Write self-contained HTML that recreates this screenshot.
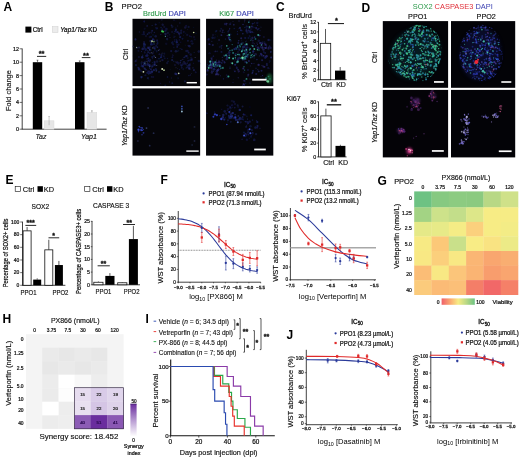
<!DOCTYPE html>
<html lang="en"><head><meta charset="utf-8"><title>Figure</title>
<style>
html,body{margin:0;padding:0;background:#fff;}
body{width:520px;height:458px;overflow:hidden;font-family:'Liberation Sans', Arial, Helvetica, sans-serif;}
svg{display:block;font-family:'Liberation Sans', Arial, Helvetica, sans-serif;}
</style></head><body>
<svg width="520" height="458" viewBox="0 0 520 458">
<defs>
<filter id="b1" x="-50%" y="-50%" width="200%" height="200%"><feGaussianBlur stdDeviation="0.45"/></filter>
<filter id="b2" x="-50%" y="-50%" width="200%" height="200%"><feGaussianBlur stdDeviation="0.9"/></filter>
<filter id="b3" x="-50%" y="-50%" width="200%" height="200%"><feGaussianBlur stdDeviation="2"/></filter>
<linearGradient id="viab" x1="0" x2="1" y1="0" y2="0"><stop offset="0" stop-color="#f0606a"/><stop offset="0.3" stop-color="#fbb474"/><stop offset="0.5" stop-color="#f7ec85"/><stop offset="0.75" stop-color="#b8d885"/><stop offset="1" stop-color="#6dc283"/></linearGradient>
<linearGradient id="syn" x1="0" x2="0" y1="0" y2="1"><stop offset="0" stop-color="#6a2d9e"/><stop offset="0.5" stop-color="#b79ad2"/><stop offset="1" stop-color="#ffffff"/></linearGradient>
</defs>
<rect width="520" height="458" fill="#fff"/>
<g id="panelA">
<text x="3.60" y="11.20" font-size="12" font-weight="bold" fill="#000">A</text>
<rect x="25.40" y="26.60" width="6.00" height="6.00" fill="#000" />
<text x="32.80" y="32.07" font-size="6.3" fill="#111" stroke="#111" stroke-width="0.22">Ctrl</text>
<rect x="52.40" y="26.60" width="5.60" height="6.00" fill="#ececec" stroke="#cfcfcf" stroke-width="0.5" />
<text x="60.30" y="32.07" font-size="6.3" font-style="italic" fill="#111" stroke="#111" stroke-width="0.22" textLength="26.5" lengthAdjust="spacingAndGlyphs">Yap1/Taz</text>
<text x="88.20" y="32.07" font-size="6.3" fill="#111" stroke="#111" stroke-width="0.22">KD</text>
<line x1="22.20" y1="48.50" x2="22.20" y2="129.20" stroke="#111" stroke-width="0.8" />
<line x1="21.80" y1="129.20" x2="106.60" y2="129.20" stroke="#111" stroke-width="0.8" />
<line x1="19.60" y1="129.20" x2="22.20" y2="129.20" stroke="#111" stroke-width="0.6" />
<text x="18.90" y="131.14" font-size="5.4" text-anchor="end" fill="#111" stroke="#111" stroke-width="0.22">0</text>
<line x1="19.60" y1="115.80" x2="22.20" y2="115.80" stroke="#111" stroke-width="0.6" />
<text x="18.90" y="117.74" font-size="5.4" text-anchor="end" fill="#111" stroke="#111" stroke-width="0.22">2</text>
<line x1="19.60" y1="102.40" x2="22.20" y2="102.40" stroke="#111" stroke-width="0.6" />
<text x="18.90" y="104.34" font-size="5.4" text-anchor="end" fill="#111" stroke="#111" stroke-width="0.22">4</text>
<line x1="19.60" y1="89.00" x2="22.20" y2="89.00" stroke="#111" stroke-width="0.6" />
<text x="18.90" y="90.94" font-size="5.4" text-anchor="end" fill="#111" stroke="#111" stroke-width="0.22">6</text>
<line x1="19.60" y1="75.60" x2="22.20" y2="75.60" stroke="#111" stroke-width="0.6" />
<text x="18.90" y="77.54" font-size="5.4" text-anchor="end" fill="#111" stroke="#111" stroke-width="0.22">8</text>
<line x1="19.60" y1="62.20" x2="22.20" y2="62.20" stroke="#111" stroke-width="0.6" />
<text x="18.90" y="64.14" font-size="5.4" text-anchor="end" fill="#111" stroke="#111" stroke-width="0.22">10</text>
<line x1="19.60" y1="48.80" x2="22.20" y2="48.80" stroke="#111" stroke-width="0.6" />
<text x="18.90" y="50.74" font-size="5.4" text-anchor="end" fill="#111" stroke="#111" stroke-width="0.22">12</text>
<text x="10.96" y="90.60" font-size="7.4" text-anchor="middle" fill="#111" stroke="#111" stroke-width="0.15" transform="rotate(-90 10.96 90.60)">Fold change</text>
<rect x="32.80" y="62.20" width="9.40" height="67.00" fill="#000" />
<rect x="44.20" y="120.82" width="9.80" height="8.38" fill="#e6e6e6" stroke="#d4d4d4" stroke-width="0.4" />
<rect x="75.00" y="62.20" width="9.50" height="67.00" fill="#000" />
<rect x="87.00" y="112.45" width="9.80" height="16.75" fill="#e6e6e6" stroke="#d4d4d4" stroke-width="0.4" />
<line x1="37.50" y1="62.20" x2="37.50" y2="60.19" stroke="#111" stroke-width="0.5" />
<line x1="36.60" y1="60.19" x2="38.40" y2="60.19" stroke="#111" stroke-width="0.5" />
<line x1="49.10" y1="125.18" x2="49.10" y2="116.47" stroke="#999" stroke-width="0.5" />
<line x1="48.30" y1="116.47" x2="49.90" y2="116.47" stroke="#999" stroke-width="0.5" />
<line x1="79.70" y1="62.20" x2="79.70" y2="60.86" stroke="#111" stroke-width="0.5" />
<line x1="78.80" y1="60.86" x2="80.60" y2="60.86" stroke="#111" stroke-width="0.5" />
<line x1="91.90" y1="112.45" x2="91.90" y2="110.77" stroke="#777" stroke-width="0.5" />
<line x1="91.10" y1="110.77" x2="92.70" y2="110.77" stroke="#777" stroke-width="0.5" />
<line x1="37.00" y1="56.40" x2="46.20" y2="56.40" stroke="#111" stroke-width="0.9" />
<text x="41.60" y="56.20" font-size="7.5" text-anchor="middle" font-weight="bold" fill="#111" stroke="#111" stroke-width="0.3">**</text>
<line x1="81.80" y1="57.60" x2="90.40" y2="57.60" stroke="#111" stroke-width="0.9" />
<text x="86.00" y="57.60" font-size="7.5" text-anchor="middle" font-weight="bold" fill="#111" stroke="#111" stroke-width="0.3">**</text>
<text x="41.00" y="138.52" font-size="7.0" text-anchor="middle" font-style="italic" fill="#111" stroke="#111" stroke-width="0.15">Taz</text>
<text x="89.00" y="138.52" font-size="7.0" text-anchor="middle" font-style="italic" fill="#111" stroke="#111" stroke-width="0.15">Yap1</text>
</g>
<g id="panelB">
<text x="104.80" y="11.40" font-size="12" font-weight="bold" fill="#000">B</text>
<text x="121.60" y="8.64" font-size="7.6" fill="#111" stroke="#111" stroke-width="0.15">PPO2</text>
<text x="143.0" y="16.3" font-size="7.3" textLength="42.8" lengthAdjust="spacingAndGlyphs" stroke-width="0.12"><tspan fill="#2e9a4c" stroke="#2e9a4c">BrdUrd</tspan> <tspan fill="#3a3fb0" stroke="#3a3fb0">DAPI</tspan></text>
<text x="219.2" y="16.3" font-size="7.3" textLength="34.6" lengthAdjust="spacingAndGlyphs" stroke-width="0.12"><tspan fill="#2e9a4c" stroke="#2e9a4c">Ki67</tspan> <tspan fill="#3a3fb0" stroke="#3a3fb0">DAPI</tspan></text>
<text x="127.56" y="54.40" font-size="7.1" text-anchor="middle" fill="#111" stroke="#111" stroke-width="0.15" transform="rotate(-90 127.56 54.40)">Ctrl</text>
<text x="127.5" y="125.6" font-size="7.1" text-anchor="middle" transform="rotate(-90 127.5 125.6)" fill="#111" stroke="#111" stroke-width="0.15"><tspan font-style="italic">Yap1/Taz</tspan> KD</text>
<defs>
<clipPath id="cbtl"><rect x="132.5" y="18.8" width="67.65" height="67.3"/></clipPath>
<clipPath id="cbtr"><rect x="206.05" y="18.8" width="67.25" height="67.3"/></clipPath>
<clipPath id="cbbl"><rect x="132.5" y="88.4" width="67.65" height="67.2"/></clipPath>
<clipPath id="cbbr"><rect x="206.05" y="88.4" width="67.25" height="67.2"/></clipPath>
</defs>
<rect x="132.50" y="18.80" width="67.65" height="67.30" fill="#050509" />
<g clip-path="url(#cbtl)"><g filter="url(#b1)">
<circle cx="148.3" cy="58.6" r="1.06" fill="#181e5c" opacity="0.81" />
<circle cx="157.1" cy="61.6" r="1.24" fill="#1c2468" opacity="0.42" />
<circle cx="147.7" cy="54.0" r="0.66" fill="#20286e" opacity="0.43" />
<circle cx="135.5" cy="39.4" r="1.04" fill="#1a2058" opacity="0.87" />
<circle cx="144.2" cy="45.9" r="1.28" fill="#181e5c" opacity="0.68" />
<circle cx="154.5" cy="62.1" r="0.98" fill="#1a2058" opacity="0.55" />
<circle cx="151.7" cy="44.5" r="1.01" fill="#1c2468" opacity="0.59" />
<circle cx="147.8" cy="50.6" r="0.64" fill="#1c2468" opacity="0.65" />
<circle cx="139.0" cy="47.5" r="0.93" fill="#20286e" opacity="0.58" />
<circle cx="150.0" cy="60.2" r="1.15" fill="#181e5c" opacity="0.69" />
<circle cx="136.9" cy="47.8" r="1.11" fill="#141a4e" opacity="0.70" />
<circle cx="157.0" cy="58.9" r="0.72" fill="#141a4e" opacity="0.48" />
<circle cx="148.2" cy="52.3" r="1.07" fill="#1a2058" opacity="0.69" />
<circle cx="154.0" cy="44.0" r="1.09" fill="#1a2058" opacity="0.65" />
<circle cx="150.7" cy="47.3" r="0.67" fill="#141a4e" opacity="0.64" />
<circle cx="148.8" cy="48.1" r="1.09" fill="#1a2058" opacity="0.90" />
<circle cx="152.3" cy="42.4" r="0.87" fill="#141a4e" opacity="0.41" />
<circle cx="146.2" cy="53.9" r="0.68" fill="#181e5c" opacity="0.51" />
<circle cx="147.5" cy="72.7" r="0.88" fill="#20286e" opacity="0.44" />
<circle cx="142.2" cy="57.2" r="1.22" fill="#20286e" opacity="0.83" />
<circle cx="148.8" cy="65.3" r="0.85" fill="#20286e" opacity="0.88" />
<circle cx="152.4" cy="58.6" r="0.76" fill="#1c2468" opacity="0.41" />
<circle cx="152.0" cy="44.8" r="0.80" fill="#1c2468" opacity="0.61" />
<circle cx="144.3" cy="64.3" r="1.27" fill="#1a2058" opacity="0.88" />
<circle cx="144.0" cy="34.4" r="0.92" fill="#1a2058" opacity="0.60" />
<circle cx="147.6" cy="55.6" r="1.04" fill="#181e5c" opacity="0.50" />
<circle cx="157.0" cy="50.7" r="0.68" fill="#1a2058" opacity="0.43" />
<circle cx="153.7" cy="52.0" r="0.67" fill="#141a4e" opacity="0.71" />
<circle cx="154.0" cy="55.8" r="0.86" fill="#141a4e" opacity="0.88" />
<circle cx="144.1" cy="43.2" r="0.68" fill="#20286e" opacity="0.90" />
<circle cx="142.7" cy="55.2" r="0.66" fill="#181e5c" opacity="0.77" />
<circle cx="149.6" cy="37.2" r="1.08" fill="#1a2058" opacity="0.41" />
<circle cx="157.6" cy="47.2" r="0.70" fill="#1a2058" opacity="0.86" />
<circle cx="150.3" cy="41.1" r="1.05" fill="#181e5c" opacity="0.75" />
<circle cx="149.6" cy="64.4" r="0.72" fill="#1c2468" opacity="0.67" />
<circle cx="151.1" cy="40.6" r="0.76" fill="#1c2468" opacity="0.80" />
<circle cx="154.4" cy="32.6" r="0.76" fill="#1a2058" opacity="0.65" />
<circle cx="147.7" cy="13.0" r="1.15" fill="#20286e" opacity="0.53" />
<circle cx="144.2" cy="21.5" r="0.91" fill="#141a4e" opacity="0.88" />
<circle cx="147.0" cy="58.9" r="0.76" fill="#1c2468" opacity="0.57" />
<circle cx="131.2" cy="56.1" r="1.03" fill="#181e5c" opacity="0.64" />
<circle cx="143.3" cy="32.9" r="0.66" fill="#181e5c" opacity="0.85" />
<circle cx="152.2" cy="30.8" r="0.93" fill="#1c2468" opacity="0.62" />
<circle cx="148.2" cy="47.8" r="1.26" fill="#20286e" opacity="0.63" />
<circle cx="149.9" cy="46.5" r="0.71" fill="#1c2468" opacity="0.41" />
<circle cx="143.9" cy="44.1" r="1.06" fill="#1a2058" opacity="0.81" />
<circle cx="159.4" cy="49.7" r="0.85" fill="#1a2058" opacity="0.67" />
<circle cx="161.5" cy="55.1" r="1.11" fill="#181e5c" opacity="0.66" />
<circle cx="156.3" cy="46.4" r="1.21" fill="#1c2468" opacity="0.41" />
<circle cx="151.8" cy="66.9" r="1.13" fill="#141a4e" opacity="0.53" />
<circle cx="147.0" cy="55.4" r="1.24" fill="#141a4e" opacity="0.85" />
<circle cx="143.8" cy="31.6" r="0.96" fill="#1a2058" opacity="0.47" />
<circle cx="154.5" cy="64.7" r="1.21" fill="#1c2468" opacity="0.70" />
<circle cx="150.6" cy="44.7" r="0.70" fill="#1a2058" opacity="0.76" />
<circle cx="144.6" cy="48.0" r="0.96" fill="#1a2058" opacity="0.64" />
<circle cx="152.2" cy="25.4" r="0.64" fill="#1c2468" opacity="0.54" />
<circle cx="151.1" cy="36.7" r="0.99" fill="#181e5c" opacity="0.62" />
<circle cx="144.1" cy="42.0" r="0.96" fill="#141a4e" opacity="0.63" />
<circle cx="142.7" cy="48.9" r="1.26" fill="#1a2058" opacity="0.84" />
<circle cx="154.7" cy="48.4" r="0.99" fill="#1c2468" opacity="0.82" />
<circle cx="152.2" cy="57.0" r="0.91" fill="#181e5c" opacity="0.74" />
<circle cx="146.0" cy="55.9" r="0.81" fill="#181e5c" opacity="0.85" />
<circle cx="155.8" cy="69.0" r="1.06" fill="#1c2468" opacity="0.53" />
<circle cx="154.7" cy="63.1" r="1.12" fill="#181e5c" opacity="0.60" />
<circle cx="130.4" cy="55.2" r="1.18" fill="#1c2468" opacity="0.75" />
<circle cx="156.6" cy="51.5" r="0.89" fill="#141a4e" opacity="0.56" />
<circle cx="149.8" cy="49.5" r="0.99" fill="#20286e" opacity="0.75" />
<circle cx="144.1" cy="62.4" r="0.81" fill="#181e5c" opacity="0.46" />
<circle cx="154.1" cy="47.4" r="1.21" fill="#181e5c" opacity="0.53" />
<circle cx="160.9" cy="57.6" r="0.79" fill="#1c2468" opacity="0.81" />
<circle cx="155.7" cy="36.2" r="1.26" fill="#20286e" opacity="0.47" />
<circle cx="157.4" cy="43.8" r="1.09" fill="#181e5c" opacity="0.54" />
<circle cx="151.3" cy="44.1" r="1.23" fill="#141a4e" opacity="0.87" />
<circle cx="142.2" cy="34.5" r="0.66" fill="#1c2468" opacity="0.43" />
<circle cx="154.7" cy="41.1" r="0.84" fill="#1a2058" opacity="0.61" />
<circle cx="157.8" cy="42.8" r="0.63" fill="#1c2468" opacity="0.87" />
<circle cx="155.0" cy="50.1" r="0.73" fill="#141a4e" opacity="0.71" />
<circle cx="145.7" cy="50.3" r="0.91" fill="#1c2468" opacity="0.54" />
<circle cx="156.9" cy="12.4" r="0.63" fill="#181e5c" opacity="0.77" />
<circle cx="146.0" cy="49.3" r="0.93" fill="#20286e" opacity="0.45" />
<circle cx="152.9" cy="39.4" r="0.95" fill="#20286e" opacity="0.89" />
<circle cx="148.4" cy="60.5" r="0.76" fill="#1c2468" opacity="0.82" />
<circle cx="147.5" cy="34.2" r="0.88" fill="#141a4e" opacity="0.89" />
<circle cx="150.6" cy="50.1" r="1.04" fill="#141a4e" opacity="0.62" />
<circle cx="159.0" cy="58.6" r="0.87" fill="#1a2058" opacity="0.74" />
<circle cx="149.0" cy="61.5" r="0.81" fill="#20286e" opacity="0.49" />
<circle cx="149.9" cy="53.1" r="0.85" fill="#141a4e" opacity="0.89" />
<circle cx="145.3" cy="49.2" r="1.28" fill="#141a4e" opacity="0.51" />
<circle cx="152.4" cy="62.7" r="0.66" fill="#141a4e" opacity="0.65" />
<circle cx="152.3" cy="66.7" r="0.60" fill="#141a4e" opacity="0.81" />
<circle cx="155.3" cy="65.6" r="0.88" fill="#141a4e" opacity="0.55" />
<circle cx="150.9" cy="69.2" r="0.97" fill="#1c2468" opacity="0.73" />
<circle cx="147.2" cy="25.9" r="0.87" fill="#141a4e" opacity="0.76" />
<circle cx="144.7" cy="52.4" r="1.03" fill="#1c2468" opacity="0.42" />
<circle cx="157.0" cy="28.4" r="1.04" fill="#1a2058" opacity="0.47" />
<circle cx="139.1" cy="69.2" r="1.18" fill="#181e5c" opacity="0.82" />
<circle cx="135.9" cy="65.2" r="1.08" fill="#1c2468" opacity="0.49" />
<circle cx="151.9" cy="71.7" r="1.27" fill="#20286e" opacity="0.83" />
<circle cx="138.4" cy="67.7" r="1.04" fill="#1c2468" opacity="0.67" />
<circle cx="153.9" cy="70.2" r="1.12" fill="#1a2058" opacity="0.85" />
<circle cx="150.1" cy="73.0" r="1.12" fill="#20286e" opacity="0.56" />
<circle cx="148.5" cy="71.6" r="1.11" fill="#1c2468" opacity="0.55" />
<circle cx="141.7" cy="66.0" r="1.19" fill="#181e5c" opacity="0.67" />
<circle cx="141.5" cy="63.0" r="1.03" fill="#1c2468" opacity="0.48" />
<circle cx="147.3" cy="72.8" r="1.12" fill="#141a4e" opacity="0.73" />
<circle cx="148.8" cy="73.8" r="0.94" fill="#181e5c" opacity="0.76" />
<circle cx="143.1" cy="66.7" r="0.96" fill="#20286e" opacity="0.66" />
<circle cx="146.7" cy="55.8" r="0.98" fill="#141a4e" opacity="0.89" />
<circle cx="145.9" cy="69.7" r="0.92" fill="#1a2058" opacity="0.89" />
<circle cx="141.2" cy="71.1" r="0.75" fill="#1c2468" opacity="0.48" />
<circle cx="152.0" cy="74.0" r="0.78" fill="#141a4e" opacity="0.51" />
<circle cx="147.5" cy="65.1" r="1.22" fill="#141a4e" opacity="0.55" />
<circle cx="149.6" cy="66.9" r="0.62" fill="#181e5c" opacity="0.88" />
<circle cx="142.9" cy="65.8" r="1.11" fill="#20286e" opacity="0.60" />
<circle cx="141.1" cy="77.9" r="0.60" fill="#141a4e" opacity="0.83" />
<circle cx="153.3" cy="77.0" r="1.10" fill="#141a4e" opacity="0.56" />
<circle cx="149.6" cy="71.8" r="1.21" fill="#181e5c" opacity="0.61" />
<circle cx="141.4" cy="71.6" r="0.63" fill="#181e5c" opacity="0.47" />
<circle cx="141.3" cy="64.6" r="0.70" fill="#141a4e" opacity="0.65" />
<circle cx="141.5" cy="77.1" r="1.15" fill="#20286e" opacity="0.85" />
<circle cx="147.7" cy="64.1" r="1.24" fill="#1a2058" opacity="0.70" />
<circle cx="144.7" cy="68.6" r="1.11" fill="#20286e" opacity="0.73" />
<circle cx="151.5" cy="76.9" r="0.94" fill="#1a2058" opacity="0.51" />
<circle cx="140.5" cy="70.7" r="0.81" fill="#141a4e" opacity="0.63" />
<circle cx="145.4" cy="75.2" r="1.07" fill="#181e5c" opacity="0.53" />
<circle cx="189.2" cy="68.1" r="1.23" fill="#20286e" opacity="0.55" />
<circle cx="181.8" cy="65.8" r="1.13" fill="#20286e" opacity="0.36" />
<circle cx="187.9" cy="66.9" r="0.84" fill="#181e5c" opacity="0.44" />
<circle cx="179.6" cy="73.4" r="0.74" fill="#181e5c" opacity="0.64" />
<circle cx="181.7" cy="67.8" r="0.97" fill="#20286e" opacity="0.42" />
<circle cx="187.1" cy="55.8" r="1.00" fill="#141a4e" opacity="0.36" />
<circle cx="178.5" cy="63.8" r="1.20" fill="#1c2468" opacity="0.34" />
<circle cx="191.7" cy="59.8" r="1.05" fill="#20286e" opacity="0.73" />
<circle cx="194.1" cy="52.4" r="0.62" fill="#181e5c" opacity="0.49" />
<circle cx="187.9" cy="51.4" r="1.28" fill="#20286e" opacity="0.30" />
<circle cx="176.3" cy="74.1" r="1.18" fill="#20286e" opacity="0.74" />
<circle cx="187.0" cy="67.4" r="0.71" fill="#1a2058" opacity="0.74" />
<circle cx="195.7" cy="72.3" r="1.09" fill="#20286e" opacity="0.34" />
<circle cx="187.1" cy="63.6" r="0.69" fill="#1a2058" opacity="0.71" />
<circle cx="183.9" cy="59.3" r="0.69" fill="#141a4e" opacity="0.54" />
<circle cx="177.6" cy="68.6" r="0.67" fill="#141a4e" opacity="0.54" />
<circle cx="181.8" cy="60.5" r="0.76" fill="#1a2058" opacity="0.30" />
<circle cx="167.4" cy="58.5" r="0.80" fill="#141a4e" opacity="0.59" />
<circle cx="192.1" cy="58.7" r="0.76" fill="#1c2468" opacity="0.31" />
<circle cx="179.6" cy="69.3" r="0.64" fill="#1c2468" opacity="0.52" />
<circle cx="184.1" cy="57.5" r="0.78" fill="#20286e" opacity="0.72" />
<circle cx="187.2" cy="65.8" r="0.84" fill="#20286e" opacity="0.46" />
<circle cx="186.4" cy="64.5" r="0.80" fill="#1a2058" opacity="0.33" />
<circle cx="183.0" cy="64.1" r="1.14" fill="#1c2468" opacity="0.40" />
<circle cx="188.8" cy="75.6" r="0.81" fill="#1a2058" opacity="0.52" />
<circle cx="188.6" cy="68.6" r="0.89" fill="#181e5c" opacity="0.73" />
<circle cx="190.6" cy="69.6" r="0.75" fill="#1a2058" opacity="0.36" />
<circle cx="189.0" cy="64.8" r="0.88" fill="#141a4e" opacity="0.63" />
<circle cx="200.9" cy="63.7" r="0.83" fill="#1c2468" opacity="0.59" />
<circle cx="180.3" cy="62.8" r="0.82" fill="#20286e" opacity="0.68" />
<circle cx="193.5" cy="63.3" r="0.68" fill="#181e5c" opacity="0.43" />
<circle cx="178.1" cy="78.0" r="0.69" fill="#1c2468" opacity="0.47" />
<circle cx="187.6" cy="58.0" r="1.16" fill="#181e5c" opacity="0.32" />
<circle cx="181.3" cy="65.1" r="1.24" fill="#1c2468" opacity="0.45" />
<circle cx="186.5" cy="56.1" r="1.04" fill="#1c2468" opacity="0.67" />
<circle cx="187.2" cy="62.0" r="0.62" fill="#181e5c" opacity="0.66" />
<circle cx="190.7" cy="65.8" r="0.64" fill="#1a2058" opacity="0.45" />
<circle cx="184.9" cy="81.4" r="1.03" fill="#141a4e" opacity="0.64" />
<circle cx="181.9" cy="49.2" r="0.81" fill="#1a2058" opacity="0.71" />
<circle cx="177.4" cy="51.5" r="0.62" fill="#1c2468" opacity="0.35" />
<circle cx="185.6" cy="56.3" r="1.14" fill="#141a4e" opacity="0.71" />
<circle cx="188.3" cy="60.6" r="0.95" fill="#181e5c" opacity="0.66" />
<circle cx="186.2" cy="51.0" r="1.14" fill="#1a2058" opacity="0.41" />
<circle cx="191.3" cy="58.0" r="1.15" fill="#1a2058" opacity="0.34" />
<circle cx="190.3" cy="75.1" r="0.77" fill="#181e5c" opacity="0.59" />
<circle cx="160.8" cy="34.6" r="0.71" fill="#20286e" opacity="0.56" />
<circle cx="179.0" cy="33.7" r="0.66" fill="#181e5c" opacity="0.40" />
<circle cx="196.0" cy="33.1" r="0.72" fill="#1c2468" opacity="0.40" />
<circle cx="162.2" cy="29.4" r="1.12" fill="#181e5c" opacity="0.52" />
<circle cx="170.0" cy="37.5" r="0.79" fill="#141a4e" opacity="0.51" />
<circle cx="174.1" cy="37.2" r="0.77" fill="#1c2468" opacity="0.35" />
<circle cx="176.9" cy="32.4" r="0.65" fill="#141a4e" opacity="0.60" />
<circle cx="165.5" cy="33.8" r="1.17" fill="#20286e" opacity="0.60" />
<circle cx="180.2" cy="37.1" r="1.17" fill="#20286e" opacity="0.57" />
<circle cx="179.3" cy="34.9" r="0.68" fill="#1c2468" opacity="0.46" />
<circle cx="174.8" cy="31.4" r="0.65" fill="#1a2058" opacity="0.55" />
<circle cx="165.4" cy="35.1" r="1.14" fill="#181e5c" opacity="0.29" />
<circle cx="161.7" cy="30.4" r="0.75" fill="#141a4e" opacity="0.37" />
<circle cx="208.7" cy="39.2" r="0.63" fill="#1c2468" opacity="0.54" />
<circle cx="175.9" cy="29.8" r="0.86" fill="#1a2058" opacity="0.36" />
<circle cx="176.6" cy="41.7" r="0.98" fill="#181e5c" opacity="0.39" />
<circle cx="175.8" cy="27.6" r="0.71" fill="#1a2058" opacity="0.28" />
<circle cx="179.2" cy="39.9" r="0.89" fill="#141a4e" opacity="0.48" />
<circle cx="169.5" cy="34.7" r="1.12" fill="#141a4e" opacity="0.39" />
<circle cx="187.3" cy="34.9" r="1.16" fill="#1c2468" opacity="0.39" />
<circle cx="154.2" cy="40.0" r="0.90" fill="#1c2468" opacity="0.40" />
<circle cx="175.9" cy="29.8" r="1.22" fill="#20286e" opacity="0.52" />
<circle cx="174.0" cy="35.1" r="0.70" fill="#20286e" opacity="0.28" />
<circle cx="165.8" cy="31.0" r="0.95" fill="#1c2468" opacity="0.37" />
<circle cx="174.9" cy="36.3" r="0.65" fill="#20286e" opacity="0.42" />
<circle cx="179.9" cy="22.9" r="0.74" fill="#1c2468" opacity="0.54" />
<circle cx="191.1" cy="36.7" r="0.82" fill="#1a2058" opacity="0.57" />
<circle cx="157.1" cy="40.3" r="1.03" fill="#1c2468" opacity="0.47" />
<circle cx="190.2" cy="60.2" r="1.03" fill="#1c2468" opacity="0.54" />
<circle cx="144.4" cy="32.8" r="0.88" fill="#1a2058" opacity="0.30" />
<circle cx="156.4" cy="28.2" r="1.28" fill="#1c2468" opacity="0.26" />
<circle cx="170.2" cy="69.5" r="0.63" fill="#141a4e" opacity="0.29" />
<circle cx="172.8" cy="55.4" r="1.04" fill="#141a4e" opacity="0.48" />
<circle cx="153.0" cy="34.9" r="0.87" fill="#141a4e" opacity="0.41" />
<circle cx="161.8" cy="19.6" r="1.03" fill="#20286e" opacity="0.41" />
<circle cx="162.4" cy="60.1" r="1.17" fill="#1c2468" opacity="0.53" />
<circle cx="159.2" cy="22.6" r="0.85" fill="#141a4e" opacity="0.28" />
<circle cx="162.1" cy="52.7" r="0.63" fill="#22246a" opacity="0.30" />
<circle cx="194.7" cy="39.3" r="1.10" fill="#181e5c" opacity="0.27" />
<circle cx="166.3" cy="43.7" r="1.27" fill="#1c2468" opacity="0.26" />
<circle cx="136.5" cy="59.8" r="1.08" fill="#181e5c" opacity="0.32" />
<circle cx="198.8" cy="51.4" r="1.27" fill="#1c2468" opacity="0.49" />
<circle cx="181.0" cy="33.0" r="1.18" fill="#1a2058" opacity="0.51" />
<circle cx="150.7" cy="73.5" r="0.70" fill="#1a2058" opacity="0.59" />
<circle cx="164.6" cy="58.2" r="1.03" fill="#1c2468" opacity="0.36" />
<circle cx="178.2" cy="78.9" r="0.72" fill="#141a4e" opacity="0.29" />
<circle cx="168.1" cy="61.3" r="0.85" fill="#20286e" opacity="0.44" />
<circle cx="171.4" cy="78.0" r="0.67" fill="#1a2058" opacity="0.47" />
<circle cx="158.8" cy="72.2" r="0.79" fill="#141a4e" opacity="0.45" />
<circle cx="156.5" cy="70.0" r="0.91" fill="#1c2468" opacity="0.47" />
<circle cx="167.1" cy="39.1" r="1.28" fill="#1a2058" opacity="0.57" />
<circle cx="192.9" cy="67.8" r="1.12" fill="#1c2468" opacity="0.30" />
<circle cx="173.9" cy="47.4" r="0.96" fill="#181e5c" opacity="0.30" />
<circle cx="147.5" cy="62.4" r="0.62" fill="#181e5c" opacity="0.45" />
<circle cx="152.7" cy="53.6" r="0.97" fill="#20286e" opacity="0.45" />
<circle cx="172.1" cy="31.9" r="1.04" fill="#20286e" opacity="0.31" />
<circle cx="180.1" cy="48.7" r="0.64" fill="#1c2468" opacity="0.55" />
<circle cx="185.2" cy="45.3" r="0.78" fill="#181e5c" opacity="0.27" />
<circle cx="172.4" cy="57.3" r="1.02" fill="#1a2058" opacity="0.51" />
<circle cx="148.9" cy="79.4" r="0.63" fill="#1a2058" opacity="0.26" />
<circle cx="144.6" cy="28.8" r="1.24" fill="#181e5c" opacity="0.25" />
<circle cx="169.5" cy="82.0" r="0.70" fill="#1c2468" opacity="0.43" />
<circle cx="175.7" cy="62.0" r="0.89" fill="#1a2058" opacity="0.31" />
<circle cx="153.0" cy="38.4" r="0.63" fill="#22246a" opacity="0.52" />
<circle cx="189.4" cy="68.7" r="0.93" fill="#22246a" opacity="0.48" />
<circle cx="149.8" cy="61.8" r="0.69" fill="#22246a" opacity="0.57" />
<circle cx="135.6" cy="61.2" r="1.08" fill="#22246a" opacity="0.53" />
<circle cx="167.6" cy="36.0" r="1.05" fill="#1c2468" opacity="0.28" />
<circle cx="166.5" cy="29.5" r="1.23" fill="#22246a" opacity="0.32" />
<circle cx="145.1" cy="44.4" r="1.02" fill="#20286e" opacity="0.57" />
<circle cx="174.9" cy="65.1" r="1.07" fill="#1a2058" opacity="0.41" />
<circle cx="189.1" cy="65.4" r="1.20" fill="#20286e" opacity="0.58" />
<circle cx="147.9" cy="78.2" r="1.15" fill="#20286e" opacity="0.47" />
<circle cx="155.5" cy="27.6" r="0.62" fill="#181e5c" opacity="0.30" />
<circle cx="175.8" cy="20.9" r="0.65" fill="#181e5c" opacity="0.27" />
<circle cx="172.2" cy="42.7" r="1.17" fill="#1a2058" opacity="0.56" />
<circle cx="139.3" cy="32.0" r="0.68" fill="#181e5c" opacity="0.58" />
<circle cx="194.0" cy="69.3" r="0.66" fill="#22246a" opacity="0.47" />
<circle cx="164.4" cy="27.0" r="1.15" fill="#22246a" opacity="0.32" />
<circle cx="153.7" cy="46.8" r="0.61" fill="#141a4e" opacity="0.58" />
<circle cx="193.9" cy="70.3" r="1.02" fill="#20286e" opacity="0.55" />
<circle cx="174.0" cy="20.1" r="0.89" fill="#20286e" opacity="0.43" />
<circle cx="138.7" cy="49.9" r="0.63" fill="#1a2058" opacity="0.33" />
<circle cx="187.7" cy="29.6" r="0.60" fill="#1c2468" opacity="0.35" />
<circle cx="155.7" cy="24.5" r="1.09" fill="#1c2468" opacity="0.59" />
<circle cx="172.3" cy="83.1" r="0.96" fill="#1a2058" opacity="0.58" />
<circle cx="151.3" cy="32.6" r="1.09" fill="#20286e" opacity="0.31" />
<circle cx="165.3" cy="85.4" r="0.99" fill="#181e5c" opacity="0.47" />
<circle cx="156.2" cy="45.3" r="0.88" fill="#22246a" opacity="0.28" />
<circle cx="146.0" cy="35.9" r="1.23" fill="#1a2058" opacity="0.31" />
<circle cx="198.8" cy="60.9" r="1.26" fill="#1c2468" opacity="0.44" />
<circle cx="183.3" cy="69.2" r="1.05" fill="#141a4e" opacity="0.45" />
<circle cx="167.5" cy="77.0" r="0.92" fill="#1a2058" opacity="0.51" />
<circle cx="143.5" cy="47.8" r="1.14" fill="#1a2058" opacity="0.33" />
<circle cx="154.7" cy="61.7" r="1.09" fill="#1a2058" opacity="0.32" />
<circle cx="152.5" cy="65.8" r="1.19" fill="#1c2468" opacity="0.50" />
<circle cx="173.0" cy="41.7" r="0.77" fill="#1c2468" opacity="0.34" />
<circle cx="143.2" cy="62.7" r="0.74" fill="#1c2468" opacity="0.59" />
<circle cx="186.1" cy="67.9" r="0.90" fill="#1c2468" opacity="0.29" />
<circle cx="194.0" cy="37.1" r="1.22" fill="#20286e" opacity="0.26" />
<circle cx="159.1" cy="71.8" r="1.09" fill="#1a2058" opacity="0.59" />
<circle cx="149.5" cy="68.2" r="0.60" fill="#1c2468" opacity="0.57" />
<circle cx="161.2" cy="57.0" r="1.12" fill="#20286e" opacity="0.55" />
<circle cx="177.4" cy="62.4" r="1.21" fill="#22246a" opacity="0.50" />
<circle cx="190.0" cy="64.2" r="1.05" fill="#20286e" opacity="0.40" />
<circle cx="149.7" cy="65.6" r="1.23" fill="#1c2468" opacity="0.52" />
<circle cx="180.5" cy="60.8" r="0.78" fill="#20286e" opacity="0.42" />
<circle cx="167.2" cy="63.0" r="1.21" fill="#22246a" opacity="0.36" />
<circle cx="149.1" cy="32.8" r="1.10" fill="#1c2468" opacity="0.43" />
<circle cx="138.9" cy="57.1" r="0.98" fill="#22246a" opacity="0.42" />
<circle cx="157.2" cy="41.3" r="1.12" fill="#20286e" opacity="0.32" />
<circle cx="178.5" cy="44.7" r="1.13" fill="#181e5c" opacity="0.51" />
<circle cx="173.8" cy="61.4" r="0.78" fill="#20286e" opacity="0.39" />
<circle cx="132.9" cy="46.5" r="0.89" fill="#22246a" opacity="0.49" />
<circle cx="171.5" cy="25.4" r="0.81" fill="#20286e" opacity="0.58" />
<circle cx="167.8" cy="32.9" r="1.16" fill="#20286e" opacity="0.41" />
<circle cx="145.1" cy="61.7" r="1.10" fill="#1c2468" opacity="0.37" />
<circle cx="175.4" cy="73.7" r="1.17" fill="#20286e" opacity="0.60" />
<circle cx="183.7" cy="62.2" r="1.15" fill="#20286e" opacity="0.37" />
<circle cx="189.8" cy="36.2" r="0.86" fill="#141a4e" opacity="0.59" />
<circle cx="178.2" cy="50.7" r="1.16" fill="#141a4e" opacity="0.38" />
<circle cx="176.5" cy="39.8" r="0.94" fill="#1a2058" opacity="0.47" />
<circle cx="176.8" cy="42.6" r="1.25" fill="#20286e" opacity="0.27" />
<circle cx="185.3" cy="27.5" r="1.18" fill="#22246a" opacity="0.45" />
<circle cx="176.7" cy="32.3" r="0.65" fill="#141a4e" opacity="0.34" />
<circle cx="147.9" cy="70.8" r="0.84" fill="#1c2468" opacity="0.32" />
<circle cx="159.4" cy="54.3" r="1.03" fill="#22246a" opacity="0.46" />
<circle cx="185.1" cy="63.5" r="1.23" fill="#22246a" opacity="0.54" />
<circle cx="145.4" cy="65.1" r="0.97" fill="#22246a" opacity="0.54" />
<circle cx="177.6" cy="26.0" r="0.68" fill="#20286e" opacity="0.33" />
<circle cx="141.5" cy="51.5" r="0.64" fill="#20286e" opacity="0.57" />
<circle cx="179.6" cy="34.8" r="0.72" fill="#1a2058" opacity="0.55" />
<circle cx="163.8" cy="56.3" r="1.07" fill="#20286e" opacity="0.38" />
<circle cx="160.5" cy="83.3" r="0.65" fill="#22246a" opacity="0.38" />
<circle cx="138.4" cy="50.9" r="1.13" fill="#1c2468" opacity="0.26" />
<circle cx="180.8" cy="60.5" r="0.84" fill="#22246a" opacity="0.38" />
<circle cx="164.3" cy="53.7" r="1.14" fill="#1c2468" opacity="0.35" />
<circle cx="155.3" cy="35.1" r="0.64" fill="#141a4e" opacity="0.35" />
<circle cx="183.8" cy="31.9" r="0.95" fill="#141a4e" opacity="0.61" />
<circle cx="177.0" cy="45.0" r="0.94" fill="#181e5c" opacity="0.42" />
<circle cx="177.2" cy="46.9" r="1.01" fill="#181e5c" opacity="0.57" />
<circle cx="192.4" cy="43.6" r="1.22" fill="#1a2058" opacity="0.50" />
<circle cx="176.9" cy="42.6" r="0.63" fill="#20286e" opacity="0.51" />
<circle cx="172.3" cy="26.7" r="1.24" fill="#1a2058" opacity="0.43" />
<circle cx="187.2" cy="50.7" r="1.08" fill="#181e5c" opacity="0.37" />
<circle cx="175.6" cy="31.4" r="1.13" fill="#181e5c" opacity="0.53" />
<circle cx="185.7" cy="33.1" r="0.67" fill="#181e5c" opacity="0.43" />
<circle cx="186.2" cy="25.8" r="0.99" fill="#141a4e" opacity="0.60" />
<circle cx="180.8" cy="42.2" r="0.61" fill="#1a2058" opacity="0.52" />
<circle cx="182.5" cy="38.8" r="1.00" fill="#181e5c" opacity="0.59" />
<circle cx="181.2" cy="30.7" r="1.09" fill="#20286e" opacity="0.46" />
<circle cx="187.9" cy="40.8" r="1.01" fill="#1c2468" opacity="0.47" />
<circle cx="176.8" cy="42.2" r="1.05" fill="#1c2468" opacity="0.61" />
<circle cx="174.1" cy="33.2" r="0.61" fill="#181e5c" opacity="0.65" />
<circle cx="183.5" cy="35.1" r="0.68" fill="#20286e" opacity="0.31" />
<circle cx="178.9" cy="33.4" r="1.11" fill="#1c2468" opacity="0.62" />
<circle cx="171.2" cy="51.1" r="1.09" fill="#1c2468" opacity="0.56" />
<circle cx="189.7" cy="46.4" r="1.10" fill="#20286e" opacity="0.53" />
<circle cx="193.6" cy="27.3" r="0.64" fill="#181e5c" opacity="0.30" />
<circle cx="191.6" cy="41.2" r="1.17" fill="#181e5c" opacity="0.44" />
<circle cx="175.9" cy="51.3" r="1.27" fill="#20286e" opacity="0.51" />
<circle cx="172.1" cy="60.1" r="1.11" fill="#20286e" opacity="0.54" />
<circle cx="188.8" cy="52.7" r="0.85" fill="#1c2468" opacity="0.52" />
<circle cx="173.1" cy="44.4" r="1.15" fill="#141a4e" opacity="0.57" />
<circle cx="173.9" cy="36.9" r="0.64" fill="#1a2058" opacity="0.42" />
<circle cx="162.7" cy="24.7" r="1.18" fill="#1a2058" opacity="0.59" />
<circle cx="161.1" cy="27.5" r="0.77" fill="#20286e" opacity="0.54" />
<circle cx="166.3" cy="28.6" r="1.17" fill="#141a4e" opacity="0.54" />
<circle cx="177.3" cy="46.4" r="0.71" fill="#181e5c" opacity="0.40" />
<circle cx="190.7" cy="54.6" r="1.29" fill="#1c2468" opacity="0.40" />
<circle cx="188.6" cy="26.9" r="1.08" fill="#20286e" opacity="0.42" />
<circle cx="188.7" cy="45.8" r="1.16" fill="#1c2468" opacity="0.58" />
<circle cx="176.1" cy="14.8" r="0.82" fill="#181e5c" opacity="0.54" />
<circle cx="174.7" cy="41.3" r="0.78" fill="#181e5c" opacity="0.58" />
<circle cx="176.7" cy="41.0" r="1.16" fill="#181e5c" opacity="0.38" />
<circle cx="165.0" cy="30.8" r="1.22" fill="#1a2058" opacity="0.41" />
<circle cx="174.6" cy="39.8" r="0.75" fill="#181e5c" opacity="0.36" />
<circle cx="177.7" cy="31.9" r="1.00" fill="#20286e" opacity="0.57" />
<circle cx="152.8" cy="47.9" r="0.58" fill="#7880b0" opacity="0.65" />
<circle cx="156.7" cy="65.5" r="0.55" fill="#6870a8" opacity="0.63" />
<circle cx="154.8" cy="56.8" r="0.50" fill="#5a64a0" opacity="0.51" />
<circle cx="162.0" cy="53.6" r="0.47" fill="#6870a8" opacity="0.60" />
<circle cx="151.2" cy="42.6" r="0.59" fill="#6870a8" opacity="0.60" />
<circle cx="153.9" cy="56.9" r="0.40" fill="#5a64a0" opacity="0.51" />
<circle cx="155.6" cy="57.5" r="0.53" fill="#7880b0" opacity="0.88" />
<circle cx="151.8" cy="52.7" r="0.50" fill="#7880b0" opacity="0.87" />
<circle cx="149.3" cy="50.0" r="0.43" fill="#6870a8" opacity="0.76" />
<circle cx="158.6" cy="50.2" r="0.45" fill="#7880b0" opacity="0.84" />
<circle cx="147.0" cy="61.4" r="0.53" fill="#6870a8" opacity="0.52" />
<circle cx="149.8" cy="66.2" r="0.58" fill="#5a64a0" opacity="0.83" />
<circle cx="160.1" cy="61.1" r="0.53" fill="#7880b0" opacity="0.52" />
<circle cx="156.2" cy="70.9" r="0.58" fill="#4a5490" opacity="0.74" />
<circle cx="141.9" cy="61.3" r="0.47" fill="#4a5490" opacity="0.60" />
<circle cx="154.9" cy="64.7" r="0.39" fill="#6870a8" opacity="0.82" />
<circle cx="195.1" cy="57.5" r="0.47" fill="#6870a8" opacity="0.72" />
<circle cx="191.2" cy="73.5" r="0.37" fill="#4a5490" opacity="0.76" />
<circle cx="189.5" cy="69.0" r="0.37" fill="#7880b0" opacity="0.74" />
<circle cx="182.2" cy="59.2" r="0.43" fill="#6870a8" opacity="0.59" />
<circle cx="184.1" cy="61.6" r="0.41" fill="#5a64a0" opacity="0.47" />
<circle cx="176.0" cy="67.8" r="0.46" fill="#6870a8" opacity="0.51" />
<circle cx="162.2" cy="31.3" r="1.10" fill="#3fd05a" opacity="0.95" />
<circle cx="163.3" cy="31.7" r="0.90" fill="#35b84c" opacity="0.95" />
<circle cx="193.7" cy="32.5" r="0.80" fill="#c8d8a0" opacity="0.95" />
<circle cx="152.0" cy="41.2" r="0.90" fill="#c0d8a0" opacity="0.95" />
<circle cx="153.9" cy="41.8" r="0.70" fill="#8ab878" opacity="0.95" />
<circle cx="162.2" cy="69.1" r="1.00" fill="#e0ecc0" opacity="0.95" />
<circle cx="164.0" cy="70.2" r="0.90" fill="#b8d098" opacity="0.95" />
<circle cx="143.4" cy="71.8" r="0.90" fill="#dde6c0" opacity="0.95" />
<circle cx="178.7" cy="73.4" r="0.80" fill="#c0d0a8" opacity="0.95" />
<circle cx="136.6" cy="47.4" r="0.60" fill="#90a080" opacity="0.95" />
<circle cx="165.4" cy="36.4" r="0.60" fill="#4a8888" opacity="0.95" />
<circle cx="144.9" cy="63.2" r="0.60" fill="#5a88a0" opacity="0.95" />
</g>
<rect x="186.60" y="81.95" width="10.30" height="1.50" fill="#fff" />
</g>
<rect x="206.05" y="18.80" width="67.25" height="67.30" fill="#050509" />
<g clip-path="url(#cbtr)"><g filter="url(#b1)">
<circle cx="234.0" cy="28.6" r="0.79" fill="#141a4e" opacity="0.43" />
<circle cx="217.4" cy="51.4" r="0.82" fill="#20286e" opacity="0.35" />
<circle cx="266.9" cy="63.4" r="0.75" fill="#20286e" opacity="0.63" />
<circle cx="214.1" cy="69.3" r="1.28" fill="#20286e" opacity="0.70" />
<circle cx="212.6" cy="37.7" r="1.23" fill="#181e5c" opacity="0.63" />
<circle cx="249.5" cy="48.1" r="0.96" fill="#1a2058" opacity="0.36" />
<circle cx="241.8" cy="30.6" r="0.90" fill="#20286e" opacity="0.39" />
<circle cx="244.9" cy="27.4" r="0.73" fill="#1c2468" opacity="0.58" />
<circle cx="211.9" cy="59.4" r="0.95" fill="#141a4e" opacity="0.37" />
<circle cx="215.3" cy="63.6" r="1.04" fill="#1c2468" opacity="0.53" />
<circle cx="255.8" cy="45.8" r="1.11" fill="#181e5c" opacity="0.51" />
<circle cx="229.6" cy="37.2" r="1.05" fill="#20286e" opacity="0.34" />
<circle cx="233.8" cy="69.9" r="0.69" fill="#141a4e" opacity="0.40" />
<circle cx="244.3" cy="85.0" r="0.63" fill="#141a4e" opacity="0.53" />
<circle cx="264.3" cy="42.2" r="1.25" fill="#1a2058" opacity="0.33" />
<circle cx="230.3" cy="34.6" r="1.18" fill="#141a4e" opacity="0.61" />
<circle cx="265.0" cy="57.2" r="1.23" fill="#141a4e" opacity="0.65" />
<circle cx="270.9" cy="51.6" r="0.96" fill="#1a2058" opacity="0.62" />
<circle cx="215.1" cy="34.6" r="0.66" fill="#1a2058" opacity="0.37" />
<circle cx="213.0" cy="35.0" r="1.17" fill="#181e5c" opacity="0.31" />
<circle cx="269.0" cy="68.2" r="0.78" fill="#1a2058" opacity="0.55" />
<circle cx="237.5" cy="34.2" r="0.91" fill="#141a4e" opacity="0.65" />
<circle cx="214.4" cy="51.6" r="0.95" fill="#141a4e" opacity="0.34" />
<circle cx="242.8" cy="33.5" r="0.76" fill="#1a2058" opacity="0.48" />
<circle cx="233.0" cy="82.5" r="0.61" fill="#20286e" opacity="0.58" />
<circle cx="246.6" cy="59.0" r="0.63" fill="#181e5c" opacity="0.61" />
<circle cx="229.0" cy="34.3" r="0.83" fill="#20286e" opacity="0.64" />
<circle cx="244.4" cy="85.0" r="0.82" fill="#20286e" opacity="0.64" />
<circle cx="209.6" cy="53.2" r="1.27" fill="#141a4e" opacity="0.40" />
<circle cx="234.7" cy="61.0" r="0.86" fill="#1a2058" opacity="0.37" />
<circle cx="228.1" cy="31.7" r="1.07" fill="#1c2468" opacity="0.36" />
<circle cx="269.7" cy="61.1" r="1.17" fill="#181e5c" opacity="0.31" />
<circle cx="249.6" cy="36.1" r="1.07" fill="#141a4e" opacity="0.55" />
<circle cx="229.6" cy="29.4" r="0.64" fill="#1a2058" opacity="0.66" />
<circle cx="211.7" cy="58.1" r="1.25" fill="#20286e" opacity="0.35" />
<circle cx="214.9" cy="38.0" r="0.88" fill="#141a4e" opacity="0.41" />
<circle cx="256.0" cy="68.3" r="0.80" fill="#20286e" opacity="0.54" />
<circle cx="244.8" cy="62.2" r="0.74" fill="#141a4e" opacity="0.48" />
<circle cx="243.3" cy="59.7" r="0.93" fill="#141a4e" opacity="0.31" />
<circle cx="228.7" cy="30.8" r="0.98" fill="#1a2058" opacity="0.46" />
<circle cx="270.7" cy="40.0" r="0.83" fill="#141a4e" opacity="0.41" />
<circle cx="258.5" cy="28.8" r="0.65" fill="#141a4e" opacity="0.48" />
<circle cx="210.2" cy="44.4" r="0.91" fill="#181e5c" opacity="0.51" />
<circle cx="269.5" cy="46.3" r="1.07" fill="#1c2468" opacity="0.57" />
<circle cx="247.9" cy="75.8" r="1.17" fill="#1a2058" opacity="0.34" />
<circle cx="248.9" cy="61.0" r="1.09" fill="#20286e" opacity="0.65" />
<circle cx="245.8" cy="51.9" r="1.27" fill="#1a2058" opacity="0.36" />
<circle cx="263.8" cy="37.0" r="1.03" fill="#181e5c" opacity="0.45" />
<circle cx="236.8" cy="49.1" r="1.11" fill="#141a4e" opacity="0.44" />
<circle cx="241.8" cy="58.5" r="1.05" fill="#181e5c" opacity="0.61" />
<circle cx="263.8" cy="52.0" r="0.91" fill="#1c2468" opacity="0.51" />
<circle cx="260.6" cy="47.6" r="0.86" fill="#1c2468" opacity="0.34" />
<circle cx="268.6" cy="40.0" r="1.19" fill="#1c2468" opacity="0.68" />
<circle cx="219.9" cy="47.0" r="1.24" fill="#181e5c" opacity="0.31" />
<circle cx="223.4" cy="78.9" r="0.81" fill="#1a2058" opacity="0.61" />
<circle cx="242.6" cy="85.9" r="0.96" fill="#1a2058" opacity="0.59" />
<circle cx="235.2" cy="49.6" r="0.63" fill="#141a4e" opacity="0.48" />
<circle cx="221.6" cy="45.8" r="0.95" fill="#1a2058" opacity="0.67" />
<circle cx="216.5" cy="30.8" r="0.89" fill="#20286e" opacity="0.48" />
<circle cx="229.3" cy="54.0" r="1.17" fill="#1c2468" opacity="0.45" />
<circle cx="230.9" cy="23.1" r="0.82" fill="#1c2468" opacity="0.34" />
<circle cx="266.8" cy="64.9" r="1.17" fill="#1a2058" opacity="0.66" />
<circle cx="234.6" cy="28.6" r="0.80" fill="#1a2058" opacity="0.38" />
<circle cx="266.7" cy="46.0" r="0.64" fill="#1a2058" opacity="0.54" />
<circle cx="249.3" cy="20.9" r="0.89" fill="#181e5c" opacity="0.42" />
<circle cx="226.7" cy="75.3" r="1.01" fill="#181e5c" opacity="0.38" />
<circle cx="239.9" cy="55.6" r="0.79" fill="#1a2058" opacity="0.51" />
<circle cx="215.8" cy="31.5" r="1.02" fill="#1c2468" opacity="0.36" />
<circle cx="257.6" cy="25.3" r="0.67" fill="#1c2468" opacity="0.68" />
<circle cx="239.3" cy="49.8" r="0.90" fill="#181e5c" opacity="0.56" />
<circle cx="252.6" cy="57.4" r="0.70" fill="#1c2468" opacity="0.44" />
<circle cx="217.5" cy="36.1" r="0.67" fill="#1a2058" opacity="0.33" />
<circle cx="219.0" cy="60.4" r="0.61" fill="#1c2468" opacity="0.66" />
<circle cx="245.6" cy="83.3" r="0.91" fill="#1a2058" opacity="0.40" />
<circle cx="221.2" cy="28.8" r="1.01" fill="#1c2468" opacity="0.43" />
<circle cx="226.7" cy="59.0" r="1.27" fill="#20286e" opacity="0.69" />
<circle cx="210.6" cy="64.1" r="1.07" fill="#1a2058" opacity="0.39" />
<circle cx="227.0" cy="77.5" r="0.94" fill="#1c2468" opacity="0.33" />
<circle cx="217.6" cy="43.8" r="0.61" fill="#141a4e" opacity="0.46" />
<circle cx="230.7" cy="40.8" r="1.21" fill="#141a4e" opacity="0.46" />
<circle cx="262.2" cy="41.9" r="0.77" fill="#1c2468" opacity="0.49" />
<circle cx="229.4" cy="47.6" r="0.80" fill="#181e5c" opacity="0.44" />
<circle cx="216.6" cy="66.0" r="0.66" fill="#141a4e" opacity="0.52" />
<circle cx="259.5" cy="55.7" r="0.93" fill="#1c2468" opacity="0.36" />
<circle cx="230.0" cy="67.1" r="0.86" fill="#1a2058" opacity="0.38" />
<circle cx="270.7" cy="52.3" r="0.76" fill="#20286e" opacity="0.57" />
<circle cx="246.5" cy="47.9" r="1.29" fill="#1a2058" opacity="0.40" />
<circle cx="247.4" cy="32.5" r="1.21" fill="#181e5c" opacity="0.57" />
<circle cx="256.0" cy="70.0" r="0.62" fill="#1a2058" opacity="0.36" />
<circle cx="253.2" cy="70.8" r="0.76" fill="#1c2468" opacity="0.57" />
<circle cx="213.4" cy="56.2" r="0.85" fill="#1a2058" opacity="0.60" />
<circle cx="219.1" cy="66.9" r="0.66" fill="#141a4e" opacity="0.35" />
<circle cx="254.7" cy="37.2" r="0.88" fill="#20286e" opacity="0.61" />
<circle cx="215.0" cy="36.8" r="0.62" fill="#141a4e" opacity="0.66" />
<circle cx="233.2" cy="79.6" r="0.67" fill="#141a4e" opacity="0.35" />
<circle cx="268.1" cy="67.9" r="1.10" fill="#181e5c" opacity="0.46" />
<circle cx="247.4" cy="47.3" r="1.13" fill="#1c2468" opacity="0.45" />
<circle cx="208.7" cy="39.1" r="1.05" fill="#1c2468" opacity="0.53" />
<circle cx="221.5" cy="51.9" r="0.96" fill="#20286e" opacity="0.57" />
<circle cx="245.1" cy="81.6" r="0.68" fill="#141a4e" opacity="0.66" />
<circle cx="265.5" cy="57.8" r="1.09" fill="#1c2468" opacity="0.57" />
<circle cx="208.5" cy="39.7" r="1.14" fill="#141a4e" opacity="0.60" />
<circle cx="211.9" cy="65.2" r="0.88" fill="#1a2058" opacity="0.63" />
<circle cx="225.1" cy="24.1" r="1.26" fill="#20286e" opacity="0.48" />
<circle cx="229.1" cy="52.2" r="1.08" fill="#20286e" opacity="0.50" />
<circle cx="252.0" cy="32.0" r="1.07" fill="#1c2468" opacity="0.50" />
<circle cx="262.1" cy="56.0" r="0.72" fill="#1c2468" opacity="0.69" />
<circle cx="249.4" cy="55.0" r="0.77" fill="#181e5c" opacity="0.37" />
<circle cx="229.6" cy="24.3" r="1.05" fill="#1c2468" opacity="0.35" />
<circle cx="254.1" cy="63.6" r="0.77" fill="#1c2468" opacity="0.30" />
<circle cx="253.0" cy="27.1" r="1.05" fill="#141a4e" opacity="0.35" />
<circle cx="254.1" cy="58.0" r="0.77" fill="#181e5c" opacity="0.52" />
<circle cx="257.7" cy="29.5" r="1.07" fill="#1a2058" opacity="0.69" />
<circle cx="263.1" cy="45.6" r="0.74" fill="#141a4e" opacity="0.30" />
<circle cx="239.1" cy="21.0" r="1.23" fill="#141a4e" opacity="0.38" />
<circle cx="253.7" cy="48.5" r="0.68" fill="#141a4e" opacity="0.48" />
<circle cx="244.7" cy="37.7" r="0.99" fill="#181e5c" opacity="0.30" />
<circle cx="211.7" cy="66.8" r="1.29" fill="#1a2058" opacity="0.41" />
<circle cx="249.9" cy="83.1" r="0.94" fill="#1a2058" opacity="0.43" />
<circle cx="230.4" cy="24.2" r="0.80" fill="#1a2058" opacity="0.67" />
<circle cx="238.2" cy="45.8" r="0.77" fill="#1c2468" opacity="0.74" />
<circle cx="253.9" cy="53.6" r="0.70" fill="#141a4e" opacity="0.48" />
<circle cx="229.2" cy="37.3" r="1.25" fill="#1c2468" opacity="0.45" />
<circle cx="241.2" cy="43.5" r="1.03" fill="#20286e" opacity="0.48" />
<circle cx="247.4" cy="44.2" r="0.86" fill="#1a2058" opacity="0.81" />
<circle cx="247.4" cy="45.5" r="0.64" fill="#181e5c" opacity="0.66" />
<circle cx="228.9" cy="38.6" r="1.09" fill="#181e5c" opacity="0.83" />
<circle cx="230.1" cy="52.4" r="0.71" fill="#141a4e" opacity="0.67" />
<circle cx="238.7" cy="48.1" r="0.76" fill="#1c2468" opacity="0.60" />
<circle cx="247.7" cy="51.2" r="0.63" fill="#20286e" opacity="0.62" />
<circle cx="245.1" cy="61.5" r="0.62" fill="#1a2058" opacity="0.78" />
<circle cx="245.7" cy="41.8" r="0.80" fill="#1e3a70" opacity="0.42" />
<circle cx="237.4" cy="31.6" r="0.64" fill="#181e5c" opacity="0.70" />
<circle cx="254.0" cy="32.8" r="0.72" fill="#141a4e" opacity="0.40" />
<circle cx="248.5" cy="37.9" r="1.00" fill="#20286e" opacity="0.44" />
<circle cx="237.5" cy="61.9" r="1.28" fill="#1e3a70" opacity="0.79" />
<circle cx="270.7" cy="47.9" r="1.03" fill="#181e5c" opacity="0.73" />
<circle cx="235.1" cy="64.8" r="1.00" fill="#20286e" opacity="0.83" />
<circle cx="227.2" cy="53.7" r="0.81" fill="#141a4e" opacity="0.64" />
<circle cx="228.8" cy="37.5" r="0.76" fill="#1e3a70" opacity="0.60" />
<circle cx="256.9" cy="59.5" r="0.86" fill="#1a2058" opacity="0.82" />
<circle cx="237.8" cy="57.7" r="0.91" fill="#141a4e" opacity="0.45" />
<circle cx="252.8" cy="71.0" r="0.98" fill="#181e5c" opacity="0.50" />
<circle cx="251.3" cy="39.6" r="0.73" fill="#1e3a70" opacity="0.51" />
<circle cx="229.1" cy="52.9" r="0.76" fill="#1a2058" opacity="0.71" />
<circle cx="240.8" cy="30.2" r="1.00" fill="#20286e" opacity="0.71" />
<circle cx="244.8" cy="46.9" r="0.95" fill="#1a2058" opacity="0.72" />
<circle cx="243.2" cy="47.1" r="1.29" fill="#1e3a70" opacity="0.63" />
<circle cx="226.8" cy="55.8" r="0.98" fill="#1c2468" opacity="0.65" />
<circle cx="243.9" cy="46.6" r="1.14" fill="#181e5c" opacity="0.58" />
<circle cx="246.1" cy="52.9" r="1.09" fill="#1c2468" opacity="0.61" />
<circle cx="247.3" cy="55.7" r="1.24" fill="#181e5c" opacity="0.68" />
<circle cx="252.8" cy="42.7" r="1.24" fill="#141a4e" opacity="0.48" />
<circle cx="242.7" cy="42.9" r="1.13" fill="#1e3a70" opacity="0.41" />
<circle cx="242.7" cy="59.4" r="0.96" fill="#1a2058" opacity="0.83" />
<circle cx="242.4" cy="49.1" r="1.02" fill="#181e5c" opacity="0.56" />
<circle cx="236.0" cy="64.0" r="0.62" fill="#1e3a70" opacity="0.51" />
<circle cx="232.7" cy="64.2" r="0.61" fill="#1a2058" opacity="0.60" />
<circle cx="246.3" cy="40.8" r="0.65" fill="#141a4e" opacity="0.48" />
<circle cx="234.4" cy="49.2" r="1.08" fill="#20286e" opacity="0.78" />
<circle cx="235.9" cy="48.0" r="1.30" fill="#141a4e" opacity="0.83" />
<circle cx="253.0" cy="52.8" r="0.71" fill="#1a2058" opacity="0.62" />
<circle cx="263.5" cy="55.8" r="0.65" fill="#1a2058" opacity="0.77" />
<circle cx="238.3" cy="43.0" r="0.93" fill="#1c2468" opacity="0.71" />
<circle cx="235.5" cy="54.3" r="1.27" fill="#1a2058" opacity="0.43" />
<circle cx="239.3" cy="58.1" r="1.23" fill="#1a2058" opacity="0.68" />
<circle cx="247.9" cy="70.0" r="1.11" fill="#141a4e" opacity="0.66" />
<circle cx="235.2" cy="58.1" r="0.60" fill="#1a2058" opacity="0.62" />
<circle cx="244.2" cy="59.5" r="1.21" fill="#1a2058" opacity="0.42" />
<circle cx="253.0" cy="63.8" r="0.79" fill="#141a4e" opacity="0.43" />
<circle cx="253.3" cy="51.5" r="1.00" fill="#1a2058" opacity="0.83" />
<circle cx="245.9" cy="51.9" r="0.99" fill="#181e5c" opacity="0.79" />
<circle cx="245.4" cy="38.0" r="1.04" fill="#141a4e" opacity="0.76" />
<circle cx="245.2" cy="44.9" r="1.16" fill="#1c2468" opacity="0.71" />
<circle cx="236.8" cy="68.0" r="1.12" fill="#1a2058" opacity="0.78" />
<circle cx="243.7" cy="72.3" r="1.10" fill="#141a4e" opacity="0.43" />
<circle cx="237.9" cy="59.5" r="1.29" fill="#20286e" opacity="0.63" />
<circle cx="258.8" cy="40.8" r="1.30" fill="#1c2468" opacity="0.46" />
<circle cx="265.2" cy="52.9" r="0.92" fill="#20286e" opacity="0.58" />
<circle cx="246.5" cy="29.2" r="1.01" fill="#1c2468" opacity="0.54" />
<circle cx="236.6" cy="67.0" r="0.99" fill="#141a4e" opacity="0.43" />
<circle cx="252.2" cy="73.2" r="1.01" fill="#141a4e" opacity="0.66" />
<circle cx="253.3" cy="51.3" r="1.14" fill="#20286e" opacity="0.72" />
<circle cx="261.5" cy="43.0" r="0.82" fill="#1c2468" opacity="0.52" />
<circle cx="242.9" cy="54.2" r="0.72" fill="#141a4e" opacity="0.51" />
<circle cx="246.4" cy="52.4" r="0.91" fill="#1a2058" opacity="0.53" />
<circle cx="238.0" cy="51.9" r="0.77" fill="#181e5c" opacity="0.83" />
<circle cx="239.4" cy="49.6" r="1.17" fill="#1a2058" opacity="0.55" />
<circle cx="247.6" cy="56.9" r="0.98" fill="#181e5c" opacity="0.69" />
<circle cx="249.7" cy="48.8" r="0.83" fill="#1e3a70" opacity="0.41" />
<circle cx="209.8" cy="66.5" r="1.16" fill="#1c2468" opacity="0.42" />
<circle cx="214.8" cy="66.6" r="1.04" fill="#141a4e" opacity="0.71" />
<circle cx="220.5" cy="65.7" r="1.26" fill="#181e5c" opacity="0.41" />
<circle cx="213.3" cy="71.3" r="0.82" fill="#20286e" opacity="0.65" />
<circle cx="215.3" cy="62.5" r="0.67" fill="#1c2468" opacity="0.48" />
<circle cx="207.5" cy="64.6" r="0.85" fill="#141a4e" opacity="0.57" />
<circle cx="210.2" cy="64.7" r="0.99" fill="#1a2058" opacity="0.63" />
<circle cx="216.8" cy="71.5" r="1.17" fill="#20286e" opacity="0.71" />
<circle cx="216.6" cy="62.6" r="1.14" fill="#20286e" opacity="0.62" />
<circle cx="212.4" cy="69.8" r="0.79" fill="#141a4e" opacity="0.40" />
<circle cx="209.5" cy="66.9" r="1.14" fill="#141a4e" opacity="0.46" />
<circle cx="212.9" cy="63.1" r="1.29" fill="#181e5c" opacity="0.65" />
<circle cx="220.1" cy="69.5" r="0.74" fill="#1c2468" opacity="0.50" />
<circle cx="210.2" cy="62.0" r="1.23" fill="#1c2468" opacity="0.61" />
<circle cx="211.8" cy="71.1" r="0.91" fill="#20286e" opacity="0.49" />
<circle cx="224.2" cy="61.5" r="0.87" fill="#1c2468" opacity="0.53" />
<circle cx="217.8" cy="64.9" r="1.11" fill="#181e5c" opacity="0.72" />
<circle cx="221.8" cy="62.9" r="0.85" fill="#1c2468" opacity="0.63" />
<circle cx="207.5" cy="70.8" r="1.26" fill="#1c2468" opacity="0.41" />
<circle cx="223.0" cy="66.8" r="0.77" fill="#141a4e" opacity="0.48" />
<circle cx="216.4" cy="60.3" r="0.81" fill="#20286e" opacity="0.49" />
<circle cx="213.6" cy="65.0" r="1.20" fill="#141a4e" opacity="0.78" />
<circle cx="218.5" cy="68.6" r="0.66" fill="#181e5c" opacity="0.59" />
<circle cx="218.1" cy="64.5" r="1.08" fill="#1a2058" opacity="0.78" />
<circle cx="216.3" cy="67.3" r="1.15" fill="#141a4e" opacity="0.42" />
<circle cx="252.6" cy="23.7" r="0.90" fill="#1c2468" opacity="0.70" />
<circle cx="251.7" cy="28.9" r="0.68" fill="#181e5c" opacity="0.44" />
<circle cx="250.5" cy="32.5" r="0.85" fill="#1c2468" opacity="0.54" />
<circle cx="248.7" cy="30.5" r="1.05" fill="#20286e" opacity="0.66" />
<circle cx="253.0" cy="27.9" r="0.76" fill="#181e5c" opacity="0.41" />
<circle cx="249.1" cy="27.9" r="0.90" fill="#181e5c" opacity="0.62" />
<circle cx="260.1" cy="30.5" r="0.65" fill="#181e5c" opacity="0.44" />
<circle cx="249.8" cy="28.2" r="0.90" fill="#1c2468" opacity="0.47" />
<circle cx="246.5" cy="26.6" r="0.98" fill="#181e5c" opacity="0.56" />
<circle cx="257.4" cy="19.5" r="0.65" fill="#1c2468" opacity="0.66" />
<circle cx="254.8" cy="27.5" r="0.65" fill="#1c2468" opacity="0.40" />
<circle cx="250.8" cy="38.3" r="0.74" fill="#181e5c" opacity="0.52" />
<circle cx="248.4" cy="26.7" r="0.61" fill="#181e5c" opacity="0.60" />
<circle cx="247.1" cy="26.6" r="1.08" fill="#141a4e" opacity="0.52" />
<circle cx="250.3" cy="31.8" r="1.28" fill="#20286e" opacity="0.63" />
<circle cx="257.3" cy="23.1" r="1.23" fill="#181e5c" opacity="0.47" />
<circle cx="240.0" cy="27.9" r="1.09" fill="#20286e" opacity="0.70" />
<circle cx="254.7" cy="22.7" r="0.66" fill="#1a2058" opacity="0.64" />
<circle cx="252.8" cy="40.4" r="0.89" fill="#26286a" opacity="0.55" />
<circle cx="245.1" cy="50.2" r="0.89" fill="#343084" opacity="0.58" />
<circle cx="222.5" cy="60.5" r="0.95" fill="#343084" opacity="0.51" />
<circle cx="224.6" cy="62.5" r="1.00" fill="#2a2a74" opacity="0.63" />
<circle cx="242.8" cy="33.7" r="0.87" fill="#26286a" opacity="0.47" />
<circle cx="262.5" cy="75.6" r="0.71" fill="#343084" opacity="0.61" />
<circle cx="257.0" cy="43.0" r="0.62" fill="#302c7c" opacity="0.72" />
<circle cx="222.8" cy="30.4" r="0.99" fill="#343084" opacity="0.43" />
<circle cx="250.0" cy="79.1" r="0.69" fill="#26286a" opacity="0.72" />
<circle cx="261.0" cy="27.1" r="0.59" fill="#26286a" opacity="0.52" />
<circle cx="231.1" cy="62.8" r="0.81" fill="#26286a" opacity="0.55" />
<circle cx="212.8" cy="45.1" r="1.10" fill="#2a2a74" opacity="0.55" />
<circle cx="238.6" cy="71.7" r="0.96" fill="#302c7c" opacity="0.35" />
<circle cx="215.6" cy="51.3" r="0.90" fill="#26286a" opacity="0.59" />
<circle cx="259.9" cy="35.7" r="0.83" fill="#2a2a74" opacity="0.61" />
<circle cx="254.4" cy="37.1" r="0.69" fill="#302c7c" opacity="0.47" />
<circle cx="235.9" cy="53.7" r="0.80" fill="#2a2a74" opacity="0.44" />
<circle cx="234.9" cy="71.3" r="0.87" fill="#26286a" opacity="0.76" />
<circle cx="254.3" cy="43.8" r="0.53" fill="#26286a" opacity="0.79" />
<circle cx="235.4" cy="59.1" r="0.65" fill="#302c7c" opacity="0.52" />
<circle cx="245.2" cy="80.0" r="0.61" fill="#26286a" opacity="0.38" />
<circle cx="220.4" cy="75.8" r="0.55" fill="#343084" opacity="0.52" />
<circle cx="241.7" cy="51.8" r="1.04" fill="#2a2a74" opacity="0.40" />
<circle cx="244.2" cy="80.7" r="0.92" fill="#343084" opacity="0.54" />
<circle cx="238.3" cy="77.8" r="0.76" fill="#343084" opacity="0.41" />
<circle cx="222.3" cy="32.2" r="0.82" fill="#26286a" opacity="0.60" />
<circle cx="257.8" cy="69.8" r="0.57" fill="#302c7c" opacity="0.73" />
<circle cx="244.7" cy="20.0" r="0.80" fill="#302c7c" opacity="0.60" />
<circle cx="210.6" cy="63.9" r="0.93" fill="#343084" opacity="0.74" />
<circle cx="243.3" cy="68.4" r="1.01" fill="#302c7c" opacity="0.80" />
<circle cx="260.9" cy="76.5" r="0.59" fill="#26286a" opacity="0.44" />
<circle cx="242.6" cy="53.3" r="0.55" fill="#343084" opacity="0.46" />
<circle cx="263.7" cy="55.7" r="0.81" fill="#343084" opacity="0.66" />
<circle cx="227.3" cy="35.4" r="0.73" fill="#343084" opacity="0.74" />
<circle cx="224.0" cy="32.3" r="0.53" fill="#26286a" opacity="0.77" />
<circle cx="250.3" cy="65.9" r="0.58" fill="#26286a" opacity="0.44" />
<circle cx="267.7" cy="55.7" r="0.53" fill="#26286a" opacity="0.35" />
<circle cx="221.5" cy="48.0" r="0.62" fill="#302c7c" opacity="0.71" />
<circle cx="246.1" cy="49.0" r="1.06" fill="#343084" opacity="0.44" />
<circle cx="220.4" cy="30.9" r="1.01" fill="#2a2a74" opacity="0.37" />
<circle cx="246.4" cy="30.9" r="1.05" fill="#302c7c" opacity="0.57" />
<circle cx="251.5" cy="63.5" r="0.68" fill="#302c7c" opacity="0.59" />
<circle cx="217.5" cy="70.3" r="0.93" fill="#2a2a74" opacity="0.56" />
<circle cx="262.0" cy="65.6" r="0.77" fill="#343084" opacity="0.42" />
<circle cx="210.7" cy="64.9" r="0.53" fill="#343084" opacity="0.48" />
<circle cx="222.4" cy="57.4" r="0.69" fill="#302c7c" opacity="0.49" />
<circle cx="224.0" cy="55.2" r="0.63" fill="#302c7c" opacity="0.53" />
<circle cx="209.2" cy="44.1" r="0.88" fill="#302c7c" opacity="0.64" />
<circle cx="252.8" cy="32.1" r="0.59" fill="#302c7c" opacity="0.54" />
<circle cx="251.8" cy="26.5" r="1.00" fill="#2a2a74" opacity="0.65" />
<circle cx="220.9" cy="62.3" r="0.81" fill="#2a2a74" opacity="0.48" />
<circle cx="230.0" cy="68.5" r="0.80" fill="#2a2a74" opacity="0.44" />
<circle cx="225.5" cy="39.0" r="0.85" fill="#2a2a74" opacity="0.44" />
<circle cx="238.1" cy="69.7" r="0.96" fill="#302c7c" opacity="0.61" />
<circle cx="226.8" cy="57.3" r="0.56" fill="#2a2a74" opacity="0.50" />
<circle cx="269.3" cy="62.3" r="0.53" fill="#26286a" opacity="0.51" />
<circle cx="238.7" cy="40.8" r="0.72" fill="#2a2a74" opacity="0.70" />
<circle cx="226.7" cy="23.6" r="0.84" fill="#2a2a74" opacity="0.69" />
<circle cx="233.0" cy="21.4" r="0.52" fill="#2a2a74" opacity="0.54" />
<circle cx="253.0" cy="46.4" r="1.00" fill="#2a2a74" opacity="0.52" />
<circle cx="250.8" cy="29.8" r="0.60" fill="#2a2a74" opacity="0.50" />
<circle cx="238.7" cy="28.8" r="0.56" fill="#302c7c" opacity="0.40" />
<circle cx="239.7" cy="54.4" r="0.57" fill="#343084" opacity="0.46" />
<circle cx="244.5" cy="21.8" r="0.65" fill="#302c7c" opacity="0.48" />
<circle cx="243.6" cy="84.2" r="1.05" fill="#302c7c" opacity="0.75" />
<circle cx="239.2" cy="71.2" r="0.84" fill="#302c7c" opacity="0.39" />
<circle cx="218.3" cy="74.5" r="1.10" fill="#343084" opacity="0.53" />
<circle cx="241.2" cy="38.3" r="1.03" fill="#2a2a74" opacity="0.65" />
<circle cx="221.4" cy="35.1" r="0.96" fill="#2a2a74" opacity="0.72" />
<circle cx="211.8" cy="41.3" r="0.56" fill="#302c7c" opacity="0.63" />
<circle cx="252.7" cy="72.8" r="0.71" fill="#343084" opacity="0.62" />
<circle cx="219.1" cy="40.0" r="1.06" fill="#343084" opacity="0.36" />
<circle cx="259.0" cy="28.8" r="0.81" fill="#302c7c" opacity="0.42" />
<circle cx="229.7" cy="28.3" r="0.62" fill="#302c7c" opacity="0.66" />
<circle cx="253.8" cy="23.4" r="0.50" fill="#343084" opacity="0.37" />
<circle cx="241.7" cy="40.8" r="0.54" fill="#2a2a74" opacity="0.44" />
<circle cx="248.3" cy="74.8" r="0.97" fill="#2a2a74" opacity="0.64" />
<circle cx="271.1" cy="57.5" r="0.98" fill="#343084" opacity="0.65" />
<circle cx="256.2" cy="27.9" r="1.00" fill="#26286a" opacity="0.76" />
<circle cx="256.2" cy="73.9" r="0.98" fill="#302c7c" opacity="0.55" />
<circle cx="261.5" cy="70.8" r="1.02" fill="#26286a" opacity="0.69" />
<circle cx="246.2" cy="62.2" r="0.88" fill="#2a2a74" opacity="0.79" />
<circle cx="259.0" cy="35.6" r="1.00" fill="#302c7c" opacity="0.46" />
<circle cx="245.8" cy="56.1" r="1.03" fill="#2a2a74" opacity="0.53" />
<circle cx="258.7" cy="71.4" r="0.91" fill="#26286a" opacity="0.72" />
<circle cx="233.8" cy="24.7" r="0.89" fill="#26286a" opacity="0.65" />
<circle cx="266.7" cy="47.2" r="0.68" fill="#26286a" opacity="0.57" />
<circle cx="260.6" cy="46.6" r="0.86" fill="#343084" opacity="0.42" />
<circle cx="243.0" cy="24.5" r="0.74" fill="#343084" opacity="0.63" />
<circle cx="226.3" cy="24.8" r="0.66" fill="#343084" opacity="0.53" />
<circle cx="259.1" cy="48.6" r="0.75" fill="#2a2a74" opacity="0.55" />
<circle cx="265.2" cy="45.2" r="0.83" fill="#302c7c" opacity="0.54" />
<circle cx="263.4" cy="66.6" r="1.03" fill="#343084" opacity="0.52" />
<circle cx="258.6" cy="64.9" r="1.15" fill="#302c7c" opacity="0.74" />
<circle cx="265.9" cy="48.4" r="0.61" fill="#302c7c" opacity="0.44" />
<circle cx="262.1" cy="60.3" r="1.06" fill="#26286a" opacity="0.67" />
<circle cx="268.5" cy="48.7" r="1.13" fill="#343084" opacity="0.45" />
<circle cx="262.1" cy="43.9" r="0.89" fill="#26286a" opacity="0.58" />
<circle cx="265.7" cy="48.0" r="1.06" fill="#343084" opacity="0.78" />
<circle cx="262.5" cy="47.4" r="1.06" fill="#343084" opacity="0.55" />
<circle cx="263.4" cy="49.6" r="1.18" fill="#2a2a74" opacity="0.62" />
<circle cx="255.7" cy="54.3" r="1.22" fill="#343084" opacity="0.41" />
<circle cx="261.0" cy="53.9" r="1.27" fill="#26286a" opacity="0.46" />
<circle cx="257.5" cy="44.5" r="0.63" fill="#343084" opacity="0.47" />
<circle cx="252.4" cy="37.9" r="1.04" fill="#302c7c" opacity="0.52" />
<circle cx="258.0" cy="47.7" r="1.28" fill="#2a2a74" opacity="0.72" />
<circle cx="260.3" cy="43.0" r="1.27" fill="#26286a" opacity="0.68" />
<circle cx="261.6" cy="54.7" r="1.00" fill="#2a2a74" opacity="0.72" />
<circle cx="260.7" cy="53.6" r="0.96" fill="#2a2a74" opacity="0.46" />
<circle cx="261.8" cy="45.1" r="0.82" fill="#2a2a74" opacity="0.63" />
<circle cx="268.8" cy="47.5" r="0.85" fill="#302c7c" opacity="0.51" />
<circle cx="265.5" cy="44.3" r="1.03" fill="#343084" opacity="0.56" />
<circle cx="260.4" cy="43.1" r="0.82" fill="#343084" opacity="0.51" />
<circle cx="264.5" cy="66.8" r="0.92" fill="#343084" opacity="0.65" />
<circle cx="262.6" cy="43.2" r="0.71" fill="#343084" opacity="0.66" />
<circle cx="264.4" cy="43.3" r="0.65" fill="#343084" opacity="0.55" />
<circle cx="266.3" cy="45.1" r="0.80" fill="#2a2a74" opacity="0.50" />
<circle cx="262.2" cy="47.7" r="1.18" fill="#26286a" opacity="0.54" />
<circle cx="264.9" cy="47.7" r="0.77" fill="#2a2a74" opacity="0.75" />
<circle cx="266.5" cy="56.2" r="1.18" fill="#2a2a74" opacity="0.77" />
<circle cx="217.6" cy="70.4" r="1.11" fill="#2a2a74" opacity="0.71" />
<circle cx="206.6" cy="74.6" r="1.12" fill="#26286a" opacity="0.56" />
<circle cx="211.5" cy="68.0" r="1.21" fill="#302c7c" opacity="0.61" />
<circle cx="208.6" cy="67.1" r="1.23" fill="#302c7c" opacity="0.49" />
<circle cx="211.3" cy="58.7" r="0.65" fill="#2a2a74" opacity="0.74" />
<circle cx="212.8" cy="62.9" r="0.88" fill="#26286a" opacity="0.71" />
<circle cx="211.8" cy="60.0" r="0.69" fill="#302c7c" opacity="0.67" />
<circle cx="216.2" cy="62.7" r="1.23" fill="#2a2a74" opacity="0.70" />
<circle cx="219.1" cy="62.1" r="1.22" fill="#302c7c" opacity="0.66" />
<circle cx="219.5" cy="64.9" r="1.23" fill="#2a2a74" opacity="0.71" />
<circle cx="211.3" cy="64.7" r="1.03" fill="#302c7c" opacity="0.52" />
<circle cx="211.9" cy="72.5" r="1.22" fill="#2a2a74" opacity="0.54" />
<circle cx="215.4" cy="66.3" r="1.19" fill="#26286a" opacity="0.49" />
<circle cx="207.8" cy="70.0" r="0.91" fill="#2a2a74" opacity="0.79" />
<circle cx="210.3" cy="64.7" r="0.62" fill="#343084" opacity="0.44" />
<circle cx="217.1" cy="74.3" r="0.84" fill="#26286a" opacity="0.61" />
<circle cx="216.8" cy="73.7" r="1.17" fill="#26286a" opacity="0.74" />
<circle cx="218.2" cy="62.8" r="0.62" fill="#302c7c" opacity="0.41" />
<circle cx="210.8" cy="67.9" r="0.64" fill="#26286a" opacity="0.69" />
<circle cx="211.6" cy="65.7" r="0.96" fill="#343084" opacity="0.49" />
<circle cx="227.1" cy="57.0" r="1.16" fill="#26286a" opacity="0.66" />
<circle cx="215.9" cy="74.4" r="1.00" fill="#343084" opacity="0.58" />
<circle cx="212.8" cy="61.6" r="0.92" fill="#26286a" opacity="0.65" />
<circle cx="218.3" cy="69.8" r="1.13" fill="#2a2a74" opacity="0.69" />
<circle cx="210.7" cy="67.5" r="0.74" fill="#302c7c" opacity="0.71" />
<circle cx="246.8" cy="62.8" r="0.94" fill="#207880" opacity="0.71" />
<circle cx="259.0" cy="50.1" r="0.89" fill="#258088" opacity="0.47" />
<circle cx="243.3" cy="54.9" r="0.95" fill="#207880" opacity="0.65" />
<circle cx="236.3" cy="48.9" r="0.73" fill="#207880" opacity="0.56" />
<circle cx="247.5" cy="54.9" r="0.74" fill="#258088" opacity="0.73" />
<circle cx="239.7" cy="54.7" r="0.64" fill="#2a8a90" opacity="0.58" />
<circle cx="249.5" cy="49.8" r="0.63" fill="#207880" opacity="0.73" />
<circle cx="229.2" cy="55.5" r="0.65" fill="#258088" opacity="0.63" />
<circle cx="242.9" cy="59.5" r="0.74" fill="#258088" opacity="0.78" />
<circle cx="245.1" cy="58.2" r="0.93" fill="#2e9098" opacity="0.72" />
<circle cx="242.3" cy="50.8" r="0.96" fill="#2e9098" opacity="0.50" />
<circle cx="248.2" cy="54.3" r="0.83" fill="#2e9098" opacity="0.46" />
<circle cx="250.8" cy="40.4" r="0.63" fill="#258088" opacity="0.52" />
<circle cx="228.1" cy="48.6" r="0.94" fill="#207880" opacity="0.67" />
<circle cx="249.5" cy="49.8" r="0.86" fill="#2a8a90" opacity="0.45" />
<circle cx="245.0" cy="58.9" r="0.95" fill="#258088" opacity="0.66" />
<circle cx="246.5" cy="56.6" r="0.78" fill="#2e9098" opacity="0.72" />
<circle cx="232.2" cy="50.3" r="0.94" fill="#2a8a90" opacity="0.59" />
<circle cx="237.5" cy="46.3" r="0.70" fill="#2e9098" opacity="0.69" />
<circle cx="238.9" cy="54.5" r="0.96" fill="#2e9098" opacity="0.47" />
<circle cx="244.6" cy="70.1" r="0.69" fill="#2e9098" opacity="0.65" />
<circle cx="242.8" cy="50.1" r="0.90" fill="#258088" opacity="0.53" />
<circle cx="247.2" cy="52.0" r="0.60" fill="#2e9098" opacity="0.47" />
<circle cx="244.0" cy="66.7" r="0.69" fill="#258088" opacity="0.78" />
<circle cx="232.2" cy="44.6" r="0.71" fill="#2a8a90" opacity="0.61" />
<circle cx="224.4" cy="55.8" r="0.90" fill="#258088" opacity="0.52" />
<circle cx="244.6" cy="50.9" r="0.80" fill="#258088" opacity="0.63" />
<circle cx="250.1" cy="52.6" r="0.95" fill="#258088" opacity="0.75" />
<circle cx="229.9" cy="50.5" r="0.80" fill="#258088" opacity="0.70" />
<circle cx="237.5" cy="47.5" r="0.78" fill="#258088" opacity="0.65" />
<circle cx="244.2" cy="57.4" r="0.80" fill="#2e9098" opacity="0.52" />
<circle cx="239.8" cy="45.3" r="0.87" fill="#258088" opacity="0.66" />
<circle cx="250.8" cy="57.4" r="0.87" fill="#258088" opacity="0.71" />
<circle cx="251.5" cy="45.3" r="0.64" fill="#207880" opacity="0.55" />
<circle cx="240.7" cy="58.3" r="0.80" fill="#207880" opacity="0.72" />
<circle cx="246.0" cy="54.1" r="0.65" fill="#2a8a90" opacity="0.63" />
<circle cx="235.6" cy="55.5" r="0.84" fill="#2a8a90" opacity="0.77" />
<circle cx="241.5" cy="44.2" r="0.97" fill="#258088" opacity="0.70" />
<circle cx="254.1" cy="55.6" r="0.94" fill="#2e9098" opacity="0.73" />
<circle cx="252.8" cy="56.6" r="0.72" fill="#207880" opacity="0.70" />
<circle cx="242.9" cy="58.6" r="0.74" fill="#207880" opacity="0.58" />
<circle cx="245.3" cy="56.8" r="0.98" fill="#2e9098" opacity="0.72" />
<circle cx="255.5" cy="38.9" r="0.90" fill="#207880" opacity="0.73" />
<circle cx="252.3" cy="54.6" r="0.74" fill="#207880" opacity="0.77" />
<circle cx="236.9" cy="62.3" r="0.91" fill="#207880" opacity="0.73" />
<circle cx="213.4" cy="65.8" r="0.93" fill="#2a8a90" opacity="0.60" />
<circle cx="214.3" cy="66.6" r="0.65" fill="#2a8a90" opacity="0.51" />
<circle cx="210.0" cy="65.4" r="0.82" fill="#2a8a90" opacity="0.78" />
<circle cx="209.0" cy="65.6" r="0.85" fill="#258088" opacity="0.53" />
<circle cx="215.2" cy="61.8" r="0.89" fill="#2a8a90" opacity="0.70" />
<circle cx="217.2" cy="65.9" r="0.78" fill="#258088" opacity="0.69" />
<circle cx="214.9" cy="62.7" r="0.70" fill="#2a8a90" opacity="0.79" />
<circle cx="220.9" cy="68.2" r="0.86" fill="#258088" opacity="0.68" />
<circle cx="210.6" cy="64.2" r="0.72" fill="#258088" opacity="0.71" />
<circle cx="213.7" cy="65.8" r="0.63" fill="#258088" opacity="0.70" />
<circle cx="229.2" cy="34.9" r="0.98" fill="#56d0a0" opacity="0.86" />
<circle cx="229.9" cy="39.6" r="0.85" fill="#2fa0a8" opacity="0.70" />
<circle cx="226.8" cy="45.9" r="0.79" fill="#48c8b0" opacity="0.77" />
<circle cx="226.0" cy="55.3" r="0.99" fill="#39b0a0" opacity="0.78" />
<circle cx="229.2" cy="57.7" r="1.00" fill="#3fc0a8" opacity="0.91" />
<circle cx="233.1" cy="58.5" r="0.91" fill="#48c8b0" opacity="0.90" />
<circle cx="235.4" cy="57.7" r="0.76" fill="#39b0a0" opacity="0.68" />
<circle cx="242.5" cy="57.7" r="1.25" fill="#7af0b0" opacity="0.95" />
<circle cx="241.7" cy="51.4" r="0.82" fill="#48c8b0" opacity="0.85" />
<circle cx="246.5" cy="49.8" r="0.85" fill="#3fc0a8" opacity="0.90" />
<circle cx="250.4" cy="49.0" r="0.78" fill="#3fc0a8" opacity="0.70" />
<circle cx="254.3" cy="49.0" r="0.98" fill="#56d0a0" opacity="0.74" />
<circle cx="251.2" cy="55.3" r="0.84" fill="#3fc0a8" opacity="0.69" />
<circle cx="257.5" cy="49.8" r="0.78" fill="#3fc0a8" opacity="0.76" />
<circle cx="246.5" cy="44.3" r="0.98" fill="#56d0a0" opacity="0.83" />
<circle cx="261.4" cy="45.1" r="0.77" fill="#48c8b0" opacity="0.65" />
<circle cx="210.3" cy="61.6" r="1.05" fill="#39b0a0" opacity="0.93" />
<circle cx="213.4" cy="64.0" r="0.87" fill="#56d0a0" opacity="0.87" />
<circle cx="215.8" cy="64.7" r="0.80" fill="#3aa8b8" opacity="0.73" />
<circle cx="208.7" cy="67.9" r="0.88" fill="#56d0a0" opacity="0.85" />
<circle cx="219.7" cy="66.3" r="1.06" fill="#39b0a0" opacity="0.74" />
<circle cx="222.9" cy="67.9" r="0.88" fill="#3fc0a8" opacity="0.72" />
<circle cx="268.5" cy="76.5" r="0.82" fill="#39b0a0" opacity="0.88" />
<circle cx="267.7" cy="81.3" r="1.25" fill="#7af0b0" opacity="0.95" />
<circle cx="228.4" cy="76.5" r="1.05" fill="#39b0a0" opacity="0.84" />
<circle cx="246.5" cy="78.9" r="0.92" fill="#3fc0a8" opacity="0.67" />
<circle cx="258.2" cy="34.9" r="0.98" fill="#48c8b0" opacity="0.72" />
<circle cx="248.8" cy="22.3" r="0.76" fill="#2fa0a8" opacity="0.80" />
<circle cx="249.6" cy="27.0" r="0.79" fill="#56d0a0" opacity="0.86" />
<circle cx="237.8" cy="54.5" r="0.78" fill="#3fc0a8" opacity="0.80" />
<circle cx="244.1" cy="53.7" r="1.07" fill="#39b0a0" opacity="0.78" />
<circle cx="240.2" cy="46.7" r="0.77" fill="#39b0a0" opacity="0.67" />
<circle cx="233.1" cy="52.9" r="0.88" fill="#2fa0a8" opacity="0.72" />
<circle cx="252.7" cy="45.9" r="0.87" fill="#3fc0a8" opacity="0.67" />
<circle cx="270.0" cy="78.9" r="0.83" fill="#3aa8b8" opacity="0.71" />
<circle cx="266.1" cy="78.1" r="0.96" fill="#2fa0a8" opacity="0.68" />
<circle cx="237.8" cy="61.6" r="1.08" fill="#56d0a0" opacity="0.67" />
<circle cx="232.3" cy="63.2" r="0.93" fill="#56d0a0" opacity="0.91" />
</g>
<ellipse cx="269.6" cy="78.5" rx="2.6" ry="5" fill="#1f6a3a" opacity="0.7" filter="url(#b2)"/>
<circle cx="268.2" cy="81.4" r="1.00" fill="#7ad098" opacity="0.90" filter="url(#b1)"/>
<rect x="252.20" y="78.80" width="14.40" height="1.80" fill="#fff" />
</g>
<rect x="132.50" y="88.40" width="67.65" height="67.20" fill="#050509" />
<g clip-path="url(#cbbl)"><g filter="url(#b1)">
<circle cx="141.2" cy="130.5" r="0.73" fill="#3a4ad0" opacity="0.87" />
<circle cx="143.5" cy="132.8" r="0.92" fill="#3040c0" opacity="0.67" />
<circle cx="140.0" cy="127.5" r="0.66" fill="#3a4ad0" opacity="0.77" />
<circle cx="141.1" cy="129.8" r="0.93" fill="#2838a8" opacity="0.92" />
<circle cx="139.1" cy="126.5" r="0.62" fill="#2838a8" opacity="0.68" />
<circle cx="138.3" cy="129.5" r="0.93" fill="#3040c0" opacity="0.74" />
<circle cx="142.3" cy="128.1" r="0.62" fill="#3a4ad0" opacity="0.83" />
<circle cx="139.2" cy="126.4" r="0.61" fill="#3a4ad0" opacity="0.92" />
<circle cx="142.2" cy="130.4" r="0.62" fill="#3a4ad0" opacity="0.94" />
<circle cx="141.9" cy="127.7" r="0.76" fill="#3040c0" opacity="0.93" />
<circle cx="138.5" cy="131.7" r="0.61" fill="#3a4ad0" opacity="0.68" />
<circle cx="138.6" cy="129.9" r="1.07" fill="#3a4ad0" opacity="0.84" />
<circle cx="142.0" cy="134.8" r="0.70" fill="#3a4ad0" opacity="0.67" />
<circle cx="143.2" cy="129.5" r="0.71" fill="#3a4ad0" opacity="0.61" />
<circle cx="181.9" cy="106.4" r="0.90" fill="#3850b8" opacity="0.90" />
<circle cx="181.9" cy="108.8" r="0.90" fill="#4060c0" opacity="0.90" />
<circle cx="181.9" cy="111.5" r="0.90" fill="#a0c8e0" opacity="0.95" />
<circle cx="148.1" cy="108.0" r="0.90" fill="#303868" opacity="0.70" />
<circle cx="146.5" cy="128.1" r="0.90" fill="#404878" opacity="0.80" />
<circle cx="153.6" cy="133.2" r="0.90" fill="#303868" opacity="0.70" />
<circle cx="149.7" cy="145.7" r="0.90" fill="#303868" opacity="0.70" />
<circle cx="194.5" cy="126.9" r="0.90" fill="#2a3058" opacity="0.60" />
<circle cx="194.5" cy="141.0" r="0.90" fill="#2a3058" opacity="0.60" />
<circle cx="137.9" cy="141.0" r="0.90" fill="#2a3058" opacity="0.60" />
<circle cx="192.1" cy="145.0" r="0.90" fill="#2a3058" opacity="0.50" />
</g>
<rect x="186.30" y="150.40" width="12.40" height="1.40" fill="#fff" />
</g>
<rect x="206.05" y="88.40" width="67.25" height="67.20" fill="#050509" />
<g clip-path="url(#cbbr)"><g filter="url(#b1)">
<circle cx="240.7" cy="122.3" r="1.10" fill="#1a2058" opacity="0.57" />
<circle cx="246.4" cy="125.9" r="0.60" fill="#1a2058" opacity="0.77" />
<circle cx="226.1" cy="113.4" r="0.98" fill="#20286e" opacity="0.46" />
<circle cx="236.0" cy="119.8" r="1.27" fill="#1c2468" opacity="0.81" />
<circle cx="242.3" cy="119.3" r="0.82" fill="#181e5c" opacity="0.48" />
<circle cx="231.6" cy="117.7" r="1.17" fill="#20286e" opacity="0.51" />
<circle cx="228.7" cy="115.4" r="0.71" fill="#242c80" opacity="0.52" />
<circle cx="247.5" cy="119.1" r="0.64" fill="#181e5c" opacity="0.84" />
<circle cx="239.9" cy="118.0" r="1.13" fill="#1c2468" opacity="0.79" />
<circle cx="222.9" cy="117.3" r="1.19" fill="#242c80" opacity="0.69" />
<circle cx="230.2" cy="116.6" r="0.77" fill="#242c80" opacity="0.64" />
<circle cx="231.8" cy="114.0" r="0.97" fill="#1a2058" opacity="0.49" />
<circle cx="257.5" cy="126.1" r="1.00" fill="#1c2468" opacity="0.79" />
<circle cx="252.5" cy="120.1" r="0.89" fill="#1a2058" opacity="0.52" />
<circle cx="245.0" cy="114.9" r="0.64" fill="#242c80" opacity="0.61" />
<circle cx="227.3" cy="110.5" r="0.61" fill="#20286e" opacity="0.55" />
<circle cx="239.8" cy="109.9" r="1.22" fill="#20286e" opacity="0.83" />
<circle cx="238.4" cy="116.0" r="0.90" fill="#1c2468" opacity="0.64" />
<circle cx="230.7" cy="118.0" r="1.12" fill="#141a4e" opacity="0.73" />
<circle cx="224.2" cy="119.6" r="1.14" fill="#1c2468" opacity="0.85" />
<circle cx="221.8" cy="109.3" r="0.68" fill="#1a2058" opacity="0.46" />
<circle cx="225.4" cy="117.8" r="0.65" fill="#1a2058" opacity="0.60" />
<circle cx="228.0" cy="120.2" r="0.84" fill="#20286e" opacity="0.54" />
<circle cx="243.8" cy="114.6" r="1.07" fill="#1c2468" opacity="0.58" />
<circle cx="247.6" cy="123.8" r="0.80" fill="#1a2058" opacity="0.69" />
<circle cx="224.7" cy="111.4" r="1.28" fill="#1c2468" opacity="0.57" />
<circle cx="246.9" cy="116.1" r="0.71" fill="#181e5c" opacity="0.67" />
<circle cx="251.2" cy="115.3" r="1.01" fill="#1c2468" opacity="0.80" />
<circle cx="226.4" cy="113.9" r="0.99" fill="#181e5c" opacity="0.43" />
<circle cx="243.2" cy="119.6" r="1.09" fill="#181e5c" opacity="0.48" />
<circle cx="246.1" cy="127.0" r="1.15" fill="#1c2468" opacity="0.41" />
<circle cx="255.5" cy="127.6" r="1.28" fill="#1c2468" opacity="0.61" />
<circle cx="245.4" cy="121.5" r="0.80" fill="#242c80" opacity="0.62" />
<circle cx="235.5" cy="119.1" r="0.66" fill="#1c2468" opacity="0.52" />
<circle cx="239.5" cy="119.2" r="1.28" fill="#1c2468" opacity="0.76" />
<circle cx="235.2" cy="114.6" r="0.94" fill="#1c2468" opacity="0.67" />
<circle cx="257.3" cy="122.1" r="1.13" fill="#242c80" opacity="0.59" />
<circle cx="235.3" cy="118.5" r="0.82" fill="#181e5c" opacity="0.76" />
<circle cx="248.4" cy="123.3" r="0.73" fill="#242c80" opacity="0.60" />
<circle cx="214.6" cy="114.7" r="1.04" fill="#242c80" opacity="0.61" />
<circle cx="234.2" cy="117.8" r="1.25" fill="#1c2468" opacity="0.45" />
<circle cx="230.6" cy="114.9" r="0.78" fill="#20286e" opacity="0.63" />
<circle cx="233.8" cy="118.6" r="0.76" fill="#181e5c" opacity="0.50" />
<circle cx="230.7" cy="121.8" r="1.08" fill="#1a2058" opacity="0.49" />
<circle cx="247.9" cy="130.1" r="1.30" fill="#141a4e" opacity="0.46" />
<circle cx="247.8" cy="122.0" r="0.84" fill="#242c80" opacity="0.72" />
<circle cx="256.5" cy="120.7" r="0.82" fill="#141a4e" opacity="0.64" />
<circle cx="227.8" cy="122.0" r="0.82" fill="#141a4e" opacity="0.42" />
<circle cx="229.3" cy="116.4" r="1.25" fill="#1c2468" opacity="0.61" />
<circle cx="237.6" cy="120.0" r="0.95" fill="#1a2058" opacity="0.79" />
<circle cx="231.5" cy="113.3" r="0.82" fill="#181e5c" opacity="0.45" />
<circle cx="246.2" cy="121.7" r="0.94" fill="#141a4e" opacity="0.76" />
<circle cx="223.3" cy="115.0" r="1.20" fill="#242c80" opacity="0.59" />
<circle cx="232.8" cy="113.1" r="1.15" fill="#242c80" opacity="0.82" />
<circle cx="232.2" cy="116.0" r="0.92" fill="#242c80" opacity="0.82" />
<circle cx="250.5" cy="126.3" r="1.26" fill="#1a2058" opacity="0.46" />
<circle cx="219.8" cy="115.6" r="0.81" fill="#181e5c" opacity="0.78" />
<circle cx="230.9" cy="114.1" r="0.96" fill="#1c2468" opacity="0.58" />
<circle cx="260.0" cy="128.2" r="0.64" fill="#141a4e" opacity="0.81" />
<circle cx="229.9" cy="112.8" r="1.09" fill="#141a4e" opacity="0.47" />
<circle cx="214.5" cy="112.1" r="0.72" fill="#1c2468" opacity="0.57" />
<circle cx="243.5" cy="114.3" r="0.85" fill="#1c2468" opacity="0.61" />
<circle cx="231.2" cy="116.5" r="1.26" fill="#242c80" opacity="0.81" />
<circle cx="206.7" cy="113.3" r="1.02" fill="#141a4e" opacity="0.74" />
<circle cx="229.5" cy="118.1" r="1.15" fill="#242c80" opacity="0.49" />
<circle cx="241.5" cy="118.7" r="1.17" fill="#141a4e" opacity="0.76" />
<circle cx="249.7" cy="121.7" r="1.17" fill="#242c80" opacity="0.47" />
<circle cx="242.8" cy="117.0" r="0.72" fill="#242c80" opacity="0.78" />
<circle cx="229.9" cy="111.9" r="0.64" fill="#181e5c" opacity="0.79" />
<circle cx="234.5" cy="117.5" r="1.13" fill="#1a2058" opacity="0.42" />
<circle cx="249.9" cy="107.0" r="0.76" fill="#141a4e" opacity="0.45" />
<circle cx="232.5" cy="107.4" r="0.86" fill="#141a4e" opacity="0.35" />
<circle cx="230.5" cy="110.8" r="0.61" fill="#20286e" opacity="0.44" />
<circle cx="233.8" cy="101.8" r="1.24" fill="#181e5c" opacity="0.50" />
<circle cx="231.8" cy="100.8" r="1.17" fill="#141a4e" opacity="0.38" />
<circle cx="230.5" cy="107.4" r="0.81" fill="#1c2468" opacity="0.38" />
<circle cx="228.2" cy="109.0" r="0.84" fill="#1c2468" opacity="0.46" />
<circle cx="235.0" cy="104.1" r="1.26" fill="#1a2058" opacity="0.41" />
<circle cx="242.6" cy="106.5" r="0.98" fill="#20286e" opacity="0.49" />
<circle cx="227.5" cy="105.5" r="1.12" fill="#1c2468" opacity="0.43" />
<circle cx="231.8" cy="105.7" r="0.68" fill="#181e5c" opacity="0.48" />
<circle cx="237.7" cy="105.4" r="1.03" fill="#20286e" opacity="0.44" />
<circle cx="234.8" cy="107.6" r="0.88" fill="#20286e" opacity="0.49" />
<circle cx="230.4" cy="108.3" r="1.23" fill="#20286e" opacity="0.33" />
<circle cx="227.6" cy="109.0" r="1.12" fill="#141a4e" opacity="0.39" />
<circle cx="238.2" cy="107.1" r="1.18" fill="#1a2058" opacity="0.27" />
<circle cx="232.3" cy="105.1" r="1.27" fill="#1c2468" opacity="0.30" />
<circle cx="229.9" cy="106.8" r="1.27" fill="#181e5c" opacity="0.41" />
<circle cx="244.0" cy="132.6" r="1.00" fill="#181e5c" opacity="0.59" />
<circle cx="246.4" cy="134.6" r="0.97" fill="#1a2058" opacity="0.62" />
<circle cx="246.2" cy="135.7" r="1.12" fill="#181e5c" opacity="0.39" />
<circle cx="257.3" cy="127.7" r="0.90" fill="#20286e" opacity="0.55" />
<circle cx="251.7" cy="135.4" r="0.83" fill="#141a4e" opacity="0.51" />
<circle cx="252.6" cy="133.4" r="1.13" fill="#181e5c" opacity="0.57" />
<circle cx="254.2" cy="139.9" r="1.30" fill="#1a2058" opacity="0.66" />
<circle cx="248.4" cy="134.5" r="1.05" fill="#181e5c" opacity="0.65" />
<circle cx="242.1" cy="139.2" r="0.75" fill="#181e5c" opacity="0.66" />
<circle cx="251.8" cy="130.2" r="1.10" fill="#1c2468" opacity="0.50" />
<circle cx="252.7" cy="132.4" r="0.70" fill="#20286e" opacity="0.62" />
<circle cx="243.2" cy="135.9" r="0.78" fill="#141a4e" opacity="0.39" />
<circle cx="249.2" cy="138.1" r="0.64" fill="#181e5c" opacity="0.62" />
<circle cx="250.0" cy="133.0" r="1.15" fill="#1a2058" opacity="0.40" />
<circle cx="245.5" cy="133.8" r="1.02" fill="#1c2468" opacity="0.69" />
<circle cx="247.7" cy="132.6" r="0.92" fill="#1a2058" opacity="0.58" />
<circle cx="246.9" cy="139.7" r="1.25" fill="#181e5c" opacity="0.50" />
<circle cx="256.1" cy="134.1" r="1.21" fill="#1a2058" opacity="0.57" />
<circle cx="250.8" cy="136.6" r="1.05" fill="#1a2058" opacity="0.43" />
<circle cx="248.3" cy="131.8" r="0.74" fill="#1c2468" opacity="0.65" />
<circle cx="245.3" cy="136.5" r="0.82" fill="#1c2468" opacity="0.48" />
<circle cx="251.3" cy="137.1" r="0.69" fill="#141a4e" opacity="0.37" />
<circle cx="215.0" cy="114.3" r="0.99" fill="#3040c0" opacity="0.90" />
<circle cx="216.9" cy="115.2" r="1.11" fill="#3040c0" opacity="0.90" />
<circle cx="237.8" cy="122.2" r="0.99" fill="#5a78d0" opacity="0.90" />
<circle cx="249.6" cy="129.2" r="0.99" fill="#4458d8" opacity="0.90" />
<circle cx="250.4" cy="133.2" r="0.99" fill="#4458d8" opacity="0.90" />
<circle cx="244.1" cy="135.5" r="1.00" fill="#4458d8" opacity="0.90" />
<circle cx="226.8" cy="124.5" r="0.83" fill="#3040c0" opacity="0.90" />
<circle cx="221.3" cy="119.0" r="1.19" fill="#3040c0" opacity="0.90" />
<circle cx="229.2" cy="111.9" r="0.84" fill="#3040c0" opacity="0.90" />
<circle cx="213.4" cy="116.7" r="0.93" fill="#3040c0" opacity="0.90" />
<circle cx="235.4" cy="117.4" r="1.06" fill="#3040c0" opacity="0.90" />
</g>
<rect x="254.20" y="148.60" width="11.60" height="1.80" fill="#fff" />
</g>
</g>
<g id="panelC">
<text x="276.00" y="11.40" font-size="12" font-weight="bold" fill="#000">C</text>
<text x="288.50" y="18.26" font-size="7.4" fill="#111" stroke="#111" stroke-width="0.15">BrdUrd</text>
<line x1="318.50" y1="21.98" x2="318.50" y2="79.70" stroke="#111" stroke-width="0.8" />
<line x1="318.10" y1="79.70" x2="346.60" y2="79.70" stroke="#111" stroke-width="0.8" />
<line x1="317.00" y1="79.70" x2="318.50" y2="79.70" stroke="#111" stroke-width="0.6" />
<text x="316.30" y="81.64" font-size="5.4" text-anchor="end" fill="#111" stroke="#111" stroke-width="0.22">0</text>
<line x1="317.00" y1="70.13" x2="318.50" y2="70.13" stroke="#111" stroke-width="0.6" />
<text x="316.30" y="72.07" font-size="5.4" text-anchor="end" fill="#111" stroke="#111" stroke-width="0.22">2</text>
<line x1="317.00" y1="60.56" x2="318.50" y2="60.56" stroke="#111" stroke-width="0.6" />
<text x="316.30" y="62.50" font-size="5.4" text-anchor="end" fill="#111" stroke="#111" stroke-width="0.22">4</text>
<line x1="317.00" y1="50.99" x2="318.50" y2="50.99" stroke="#111" stroke-width="0.6" />
<text x="316.30" y="52.93" font-size="5.4" text-anchor="end" fill="#111" stroke="#111" stroke-width="0.22">6</text>
<line x1="317.00" y1="41.42" x2="318.50" y2="41.42" stroke="#111" stroke-width="0.6" />
<text x="316.30" y="43.36" font-size="5.4" text-anchor="end" fill="#111" stroke="#111" stroke-width="0.22">8</text>
<line x1="317.00" y1="31.85" x2="318.50" y2="31.85" stroke="#111" stroke-width="0.6" />
<text x="316.30" y="33.79" font-size="5.4" text-anchor="end" fill="#111" stroke="#111" stroke-width="0.22">10</text>
<line x1="317.00" y1="22.28" x2="318.50" y2="22.28" stroke="#111" stroke-width="0.6" />
<text x="316.30" y="24.22" font-size="5.4" text-anchor="end" fill="#111" stroke="#111" stroke-width="0.22">12</text>
<text x="307.2" y="51.5" font-size="7.7" fill="#111" stroke="#111" stroke-width="0.12" text-anchor="middle" transform="rotate(-90 307.1 51.5)">% BrDUrd<tspan font-size="5" dy="-2.6">+</tspan><tspan dy="2.6"> cells</tspan></text>
<line x1="325.50" y1="43.33" x2="325.50" y2="28.98" stroke="#111" stroke-width="0.7" />
<line x1="325.50" y1="28.98" x2="325.50" y2="28.98" stroke="#111" stroke-width="0.7" />
<rect x="320.30" y="43.33" width="10.40" height="36.37" fill="#fff" stroke="#111" stroke-width="0.8" />
<line x1="340.20" y1="70.61" x2="340.20" y2="67.02" stroke="#111" stroke-width="0.7" />
<line x1="340.20" y1="67.02" x2="340.20" y2="67.02" stroke="#111" stroke-width="0.7" />
<rect x="335.00" y="70.61" width="10.40" height="9.09" fill="#000" />
<line x1="327.90" y1="23.60" x2="344.00" y2="23.60" stroke="#111" stroke-width="1.0" />
<text x="336.40" y="23.20" font-size="7.5" text-anchor="middle" font-weight="bold" fill="#111" stroke="#111" stroke-width="0.3">*</text>
<text x="326.40" y="86.82" font-size="7" text-anchor="middle" fill="#111" stroke="#111" stroke-width="0.15">Ctrl</text>
<text x="341.00" y="86.82" font-size="7" text-anchor="middle" fill="#111" stroke="#111" stroke-width="0.15">KD</text>
<text x="286.40" y="101.19" font-size="7.2" fill="#111" stroke="#111" stroke-width="0.15">Ki67</text>
<line x1="318.50" y1="101.48" x2="318.50" y2="156.90" stroke="#111" stroke-width="0.8" />
<line x1="318.10" y1="156.90" x2="346.60" y2="156.90" stroke="#111" stroke-width="0.8" />
<line x1="317.00" y1="156.90" x2="318.50" y2="156.90" stroke="#111" stroke-width="0.6" />
<text x="316.30" y="158.84" font-size="5.4" text-anchor="end" fill="#111" stroke="#111" stroke-width="0.22">0</text>
<line x1="317.00" y1="143.12" x2="318.50" y2="143.12" stroke="#111" stroke-width="0.6" />
<text x="316.30" y="145.06" font-size="5.4" text-anchor="end" fill="#111" stroke="#111" stroke-width="0.22">20</text>
<line x1="317.00" y1="129.34" x2="318.50" y2="129.34" stroke="#111" stroke-width="0.6" />
<text x="316.30" y="131.28" font-size="5.4" text-anchor="end" fill="#111" stroke="#111" stroke-width="0.22">40</text>
<line x1="317.00" y1="115.56" x2="318.50" y2="115.56" stroke="#111" stroke-width="0.6" />
<text x="316.30" y="117.50" font-size="5.4" text-anchor="end" fill="#111" stroke="#111" stroke-width="0.22">60</text>
<line x1="317.00" y1="101.78" x2="318.50" y2="101.78" stroke="#111" stroke-width="0.6" />
<text x="316.30" y="103.72" font-size="5.4" text-anchor="end" fill="#111" stroke="#111" stroke-width="0.22">80</text>
<text x="307.2" y="130" font-size="7.7" fill="#111" stroke="#111" stroke-width="0.12" text-anchor="middle" transform="rotate(-90 307.1 130)">% Ki67<tspan font-size="5" dy="-2.6">+</tspan><tspan dy="2.6"> cells</tspan></text>
<line x1="325.90" y1="115.90" x2="325.90" y2="108.67" stroke="#111" stroke-width="0.7" />
<line x1="325.90" y1="108.67" x2="325.90" y2="108.67" stroke="#111" stroke-width="0.7" />
<rect x="320.80" y="115.90" width="10.30" height="41.00" fill="#fff" stroke="#111" stroke-width="0.8" />
<line x1="340.40" y1="145.88" x2="340.40" y2="144.77" stroke="#111" stroke-width="0.7" />
<line x1="340.40" y1="144.77" x2="340.40" y2="144.77" stroke="#111" stroke-width="0.7" />
<rect x="335.50" y="145.88" width="9.90" height="11.02" fill="#000" />
<line x1="326.80" y1="104.80" x2="341.20" y2="104.80" stroke="#111" stroke-width="1.3" />
<text x="334.00" y="104.40" font-size="7.5" text-anchor="middle" font-weight="bold" fill="#111" stroke="#111" stroke-width="0.3">**</text>
<text x="328.60" y="164.72" font-size="7" text-anchor="middle" fill="#111" stroke="#111" stroke-width="0.15">Ctrl</text>
<text x="343.20" y="164.72" font-size="7" text-anchor="middle" fill="#111" stroke="#111" stroke-width="0.15">KD</text>
</g>
<g id="panelD">
<text x="361.60" y="11.60" font-size="12" font-weight="bold" fill="#000">D</text>
<text x="412.7" y="8.6" font-size="7.45"><tspan fill="#2e9a4c">SOX2</tspan> <tspan fill="#e0303a">CASPASE3</tspan> <tspan fill="#3a3fb0">DAPI</tspan></text>
<text x="417.70" y="19.19" font-size="7.2" text-anchor="middle" fill="#111" stroke="#111" stroke-width="0.15">PPO1</text>
<text x="486.20" y="19.19" font-size="7.2" text-anchor="middle" fill="#111" stroke="#111" stroke-width="0.15">PPO2</text>
<text x="377.46" y="57.50" font-size="7.1" text-anchor="middle" fill="#111" stroke="#111" stroke-width="0.15" transform="rotate(-90 377.46 57.50)">Ctrl</text>
<text x="377.2" y="122.4" font-size="7.1" text-anchor="middle" transform="rotate(-90 377.2 122.4)" fill="#111" stroke="#111" stroke-width="0.15"><tspan font-style="italic">Yap1/Taz</tspan> KD</text>
<defs>
<clipPath id="cdtl"><rect x="382.8" y="21.1" width="65.3" height="66.7"/></clipPath>
<clipPath id="cdtr"><rect x="451.0" y="21.1" width="64.2" height="66.7"/></clipPath>
<clipPath id="cdbl"><rect x="382.8" y="89.9" width="65.3" height="67.5"/></clipPath>
<clipPath id="cdbr"><rect x="451.0" y="89.9" width="64.2" height="67.5"/></clipPath>
</defs>
<defs><clipPath id="cpTL"><polygon points="388.6,61.2 390.3,51.6 396.6,40.2 405.3,30.2 416.2,24.8 428.8,26.6 437.7,33.7 441.5,45.4 441.2,57.7 436.8,70.2 428.8,80.0 420.5,82.3 408.8,79.2 397.3,72.9 391.2,66.8"/></clipPath>
<clipPath id="cpTR"><polygon points="459.3,55.5 460.9,43.9 465.2,33.6 473.0,26.8 482.2,24.8 491.6,27.6 498.4,35.2 502.2,47.2 502.6,58.8 499.3,70.8 491.6,79.2 482.2,81.2 471.9,78.4 464.2,70.8 460.1,63.0"/></clipPath></defs>
<rect x="382.80" y="21.10" width="65.30" height="66.70" fill="#030307" />
<g clip-path="url(#cdtl)">
<ellipse cx="415.2" cy="53.4" rx="23.5" ry="27.5" fill="#0f3a40" opacity="0.42" transform="rotate(42 415.2 53.4)" filter="url(#b3)"/>
<g clip-path="url(#cpTL)"><g filter="url(#b1)">
<circle cx="410.7" cy="54.4" r="1.06" fill="#3ab478" opacity="0.75" />
<circle cx="442.8" cy="52.4" r="0.99" fill="#3ab478" opacity="0.83" />
<circle cx="424.0" cy="27.2" r="1.00" fill="#2fa8a0" opacity="0.82" />
<circle cx="412.8" cy="47.3" r="0.96" fill="#2a98a8" opacity="0.83" />
<circle cx="407.8" cy="69.9" r="0.73" fill="#42c488" opacity="0.78" />
<circle cx="421.0" cy="58.6" r="0.91" fill="#3ab478" opacity="0.84" />
<circle cx="409.2" cy="52.3" r="1.06" fill="#38bc98" opacity="0.87" />
<circle cx="418.7" cy="34.0" r="0.71" fill="#38bc98" opacity="0.80" />
<circle cx="424.5" cy="25.6" r="0.56" fill="#2fa8a0" opacity="0.65" />
<circle cx="401.4" cy="58.4" r="0.78" fill="#42c488" opacity="0.90" />
<circle cx="422.7" cy="25.8" r="0.73" fill="#32a0a8" opacity="0.89" />
<circle cx="409.8" cy="27.4" r="0.61" fill="#2fa8a0" opacity="0.76" />
<circle cx="407.1" cy="61.3" r="0.65" fill="#42c488" opacity="0.99" />
<circle cx="429.8" cy="59.8" r="0.76" fill="#32a0a8" opacity="0.74" />
<circle cx="412.8" cy="32.0" r="1.08" fill="#288ab0" opacity="1.00" />
<circle cx="437.4" cy="35.2" r="0.63" fill="#3ab478" opacity="0.67" />
<circle cx="433.6" cy="55.7" r="0.71" fill="#38bc98" opacity="0.58" />
<circle cx="397.4" cy="48.8" r="0.56" fill="#4acc98" opacity="0.72" />
<circle cx="394.2" cy="72.8" r="0.82" fill="#2a98a8" opacity="0.94" />
<circle cx="416.3" cy="25.6" r="1.05" fill="#42c488" opacity="0.88" />
<circle cx="395.6" cy="46.5" r="0.85" fill="#32a0a8" opacity="0.95" />
<circle cx="422.8" cy="53.7" r="0.61" fill="#2fa8a0" opacity="0.78" />
<circle cx="395.1" cy="55.3" r="0.77" fill="#32a0a8" opacity="0.92" />
<circle cx="427.8" cy="47.5" r="0.65" fill="#38bc98" opacity="0.61" />
<circle cx="408.0" cy="59.7" r="0.89" fill="#38bc98" opacity="0.68" />
<circle cx="431.2" cy="31.1" r="0.65" fill="#4acc98" opacity="0.79" />
<circle cx="402.2" cy="37.6" r="0.73" fill="#2a98a8" opacity="0.82" />
<circle cx="433.9" cy="68.1" r="0.75" fill="#288ab0" opacity="0.98" />
<circle cx="389.6" cy="41.7" r="0.82" fill="#288ab0" opacity="0.69" />
<circle cx="407.3" cy="66.0" r="1.05" fill="#2a98a8" opacity="0.91" />
<circle cx="438.6" cy="62.1" r="0.93" fill="#38bc98" opacity="0.94" />
<circle cx="399.7" cy="63.7" r="1.02" fill="#2fa8a0" opacity="0.83" />
<circle cx="406.9" cy="52.8" r="0.88" fill="#38bc98" opacity="0.59" />
<circle cx="409.3" cy="27.8" r="0.78" fill="#4acc98" opacity="0.72" />
<circle cx="421.6" cy="65.9" r="0.79" fill="#38bc98" opacity="0.78" />
<circle cx="423.7" cy="45.2" r="0.60" fill="#2fa8a0" opacity="0.65" />
<circle cx="423.6" cy="60.7" r="0.89" fill="#3ab478" opacity="0.67" />
<circle cx="435.0" cy="46.4" r="0.64" fill="#4acc98" opacity="0.85" />
<circle cx="396.5" cy="69.3" r="0.73" fill="#288ab0" opacity="0.64" />
<circle cx="399.6" cy="64.9" r="1.05" fill="#42c488" opacity="0.72" />
<circle cx="426.3" cy="48.1" r="0.62" fill="#3ab478" opacity="0.71" />
<circle cx="396.3" cy="71.9" r="1.01" fill="#32a0a8" opacity="0.83" />
<circle cx="422.6" cy="44.7" r="1.01" fill="#3ab478" opacity="0.69" />
<circle cx="438.1" cy="55.5" r="0.88" fill="#288ab0" opacity="0.81" />
<circle cx="395.2" cy="59.7" r="0.56" fill="#2a98a8" opacity="0.73" />
<circle cx="391.1" cy="54.2" r="0.70" fill="#2a98a8" opacity="0.91" />
<circle cx="397.5" cy="40.4" r="0.90" fill="#4acc98" opacity="0.98" />
<circle cx="435.4" cy="46.5" r="0.81" fill="#2a98a8" opacity="0.87" />
<circle cx="424.4" cy="64.6" r="0.57" fill="#42c488" opacity="0.67" />
<circle cx="400.6" cy="56.7" r="0.84" fill="#2a98a8" opacity="0.73" />
<circle cx="439.8" cy="44.7" r="0.80" fill="#2fa8a0" opacity="0.72" />
<circle cx="402.3" cy="73.5" r="0.99" fill="#4acc98" opacity="0.76" />
<circle cx="433.7" cy="45.5" r="0.95" fill="#38bc98" opacity="0.65" />
<circle cx="433.5" cy="73.0" r="0.98" fill="#4acc98" opacity="0.67" />
<circle cx="434.6" cy="32.3" r="0.74" fill="#32a0a8" opacity="0.90" />
<circle cx="434.2" cy="31.2" r="1.00" fill="#38bc98" opacity="0.74" />
<circle cx="394.5" cy="37.5" r="0.93" fill="#2a98a8" opacity="0.76" />
<circle cx="408.6" cy="62.3" r="0.79" fill="#3ab478" opacity="0.81" />
<circle cx="412.4" cy="72.4" r="0.79" fill="#288ab0" opacity="0.92" />
<circle cx="431.7" cy="40.2" r="0.83" fill="#288ab0" opacity="0.69" />
<circle cx="395.9" cy="64.9" r="1.05" fill="#42c488" opacity="0.69" />
<circle cx="398.4" cy="42.0" r="0.70" fill="#3ab478" opacity="0.64" />
<circle cx="416.6" cy="54.9" r="0.88" fill="#2fa8a0" opacity="0.79" />
<circle cx="396.7" cy="77.6" r="0.62" fill="#38bc98" opacity="0.86" />
<circle cx="395.5" cy="38.9" r="0.78" fill="#32a0a8" opacity="0.67" />
<circle cx="429.6" cy="35.2" r="0.79" fill="#3ab478" opacity="0.79" />
<circle cx="402.3" cy="35.0" r="0.57" fill="#288ab0" opacity="0.61" />
<circle cx="413.8" cy="29.4" r="0.93" fill="#4acc98" opacity="0.88" />
<circle cx="404.6" cy="43.8" r="0.82" fill="#38bc98" opacity="0.93" />
<circle cx="411.3" cy="68.1" r="0.94" fill="#32a0a8" opacity="0.56" />
<circle cx="407.2" cy="73.4" r="0.89" fill="#42c488" opacity="0.94" />
<circle cx="428.3" cy="41.7" r="0.67" fill="#2a98a8" opacity="0.65" />
<circle cx="412.3" cy="76.7" r="1.05" fill="#4acc98" opacity="0.82" />
<circle cx="444.1" cy="54.0" r="0.98" fill="#42c488" opacity="0.95" />
<circle cx="410.8" cy="27.7" r="0.95" fill="#288ab0" opacity="0.72" />
<circle cx="394.2" cy="71.3" r="0.85" fill="#2a98a8" opacity="0.64" />
<circle cx="408.1" cy="72.0" r="0.60" fill="#4acc98" opacity="0.96" />
<circle cx="404.7" cy="65.5" r="0.83" fill="#42c488" opacity="0.91" />
<circle cx="434.2" cy="30.8" r="0.97" fill="#3ab478" opacity="0.62" />
<circle cx="414.4" cy="27.9" r="1.01" fill="#288ab0" opacity="0.97" />
<circle cx="435.6" cy="68.6" r="0.97" fill="#4acc98" opacity="0.73" />
<circle cx="418.2" cy="43.9" r="0.67" fill="#4acc98" opacity="0.56" />
<circle cx="409.3" cy="76.8" r="0.65" fill="#3ab478" opacity="0.71" />
<circle cx="392.3" cy="68.0" r="0.88" fill="#38bc98" opacity="0.78" />
<circle cx="419.3" cy="74.1" r="1.02" fill="#32a0a8" opacity="0.81" />
<circle cx="398.8" cy="45.7" r="0.74" fill="#288ab0" opacity="0.68" />
<circle cx="389.2" cy="50.2" r="0.64" fill="#32a0a8" opacity="0.61" />
<circle cx="406.5" cy="48.8" r="0.75" fill="#32a0a8" opacity="0.89" />
<circle cx="402.0" cy="60.1" r="0.59" fill="#4acc98" opacity="0.69" />
<circle cx="407.3" cy="38.4" r="0.65" fill="#38bc98" opacity="0.73" />
<circle cx="412.7" cy="73.0" r="1.09" fill="#2fa8a0" opacity="0.60" />
<circle cx="409.8" cy="26.6" r="0.79" fill="#2fa8a0" opacity="0.89" />
<circle cx="414.5" cy="34.0" r="0.74" fill="#32a0a8" opacity="0.99" />
<circle cx="397.5" cy="78.8" r="0.90" fill="#38bc98" opacity="0.80" />
<circle cx="403.3" cy="80.7" r="0.76" fill="#2a98a8" opacity="0.72" />
<circle cx="412.9" cy="59.4" r="0.79" fill="#3ab478" opacity="0.74" />
<circle cx="412.3" cy="58.9" r="0.75" fill="#288ab0" opacity="0.77" />
<circle cx="387.8" cy="64.6" r="0.91" fill="#288ab0" opacity="0.56" />
<circle cx="423.0" cy="67.6" r="0.90" fill="#32a0a8" opacity="0.89" />
<circle cx="394.1" cy="67.6" r="0.96" fill="#2fa8a0" opacity="0.81" />
<circle cx="432.0" cy="53.4" r="0.99" fill="#42c488" opacity="0.74" />
<circle cx="394.6" cy="74.4" r="0.68" fill="#38bc98" opacity="0.97" />
<circle cx="425.8" cy="60.3" r="1.09" fill="#42c488" opacity="0.82" />
<circle cx="394.0" cy="44.7" r="0.80" fill="#42c488" opacity="0.94" />
<circle cx="423.6" cy="32.1" r="0.75" fill="#2a98a8" opacity="0.85" />
<circle cx="423.2" cy="40.8" r="0.87" fill="#32a0a8" opacity="0.71" />
<circle cx="412.3" cy="77.1" r="0.63" fill="#288ab0" opacity="0.88" />
<circle cx="420.3" cy="25.8" r="1.04" fill="#4acc98" opacity="0.67" />
<circle cx="410.4" cy="67.9" r="0.93" fill="#42c488" opacity="0.83" />
<circle cx="438.6" cy="48.6" r="0.69" fill="#42c488" opacity="0.95" />
<circle cx="408.8" cy="41.4" r="0.89" fill="#38bc98" opacity="0.65" />
<circle cx="395.4" cy="56.9" r="1.05" fill="#2a98a8" opacity="0.80" />
<circle cx="425.9" cy="52.5" r="0.81" fill="#42c488" opacity="0.70" />
<circle cx="430.2" cy="36.3" r="1.03" fill="#38bc98" opacity="0.75" />
<circle cx="414.6" cy="81.0" r="0.97" fill="#3ab478" opacity="0.74" />
<circle cx="392.3" cy="58.6" r="0.75" fill="#4acc98" opacity="0.68" />
<circle cx="412.4" cy="78.1" r="0.65" fill="#4acc98" opacity="0.81" />
<circle cx="420.9" cy="43.9" r="0.85" fill="#32a0a8" opacity="0.80" />
<circle cx="406.9" cy="61.4" r="0.71" fill="#2fa8a0" opacity="0.58" />
<circle cx="396.5" cy="50.1" r="0.59" fill="#288ab0" opacity="0.77" />
<circle cx="433.3" cy="55.4" r="1.03" fill="#42c488" opacity="0.71" />
<circle cx="430.1" cy="55.7" r="0.61" fill="#3ab478" opacity="0.81" />
<circle cx="435.0" cy="66.0" r="0.99" fill="#288ab0" opacity="0.76" />
<circle cx="424.1" cy="62.8" r="0.60" fill="#4acc98" opacity="0.56" />
<circle cx="419.0" cy="63.9" r="0.99" fill="#4acc98" opacity="0.91" />
<circle cx="402.9" cy="70.4" r="0.86" fill="#2a98a8" opacity="0.59" />
<circle cx="398.6" cy="68.0" r="1.00" fill="#42c488" opacity="0.78" />
<circle cx="414.2" cy="58.2" r="1.08" fill="#32a0a8" opacity="0.58" />
<circle cx="405.2" cy="68.4" r="0.60" fill="#38bc98" opacity="0.67" />
<circle cx="406.5" cy="30.0" r="0.56" fill="#2a98a8" opacity="0.59" />
<circle cx="431.6" cy="61.7" r="0.94" fill="#3ab478" opacity="0.89" />
<circle cx="405.1" cy="66.4" r="0.77" fill="#4acc98" opacity="0.91" />
<circle cx="423.3" cy="30.4" r="0.82" fill="#38bc98" opacity="0.87" />
<circle cx="436.2" cy="64.8" r="1.00" fill="#4acc98" opacity="0.93" />
<circle cx="414.1" cy="80.2" r="1.04" fill="#2fa8a0" opacity="0.79" />
<circle cx="411.4" cy="75.2" r="0.78" fill="#32a0a8" opacity="0.96" />
<circle cx="418.6" cy="28.3" r="0.90" fill="#2a98a8" opacity="0.69" />
<circle cx="409.4" cy="50.6" r="0.70" fill="#2fa8a0" opacity="0.76" />
<circle cx="433.0" cy="53.0" r="0.64" fill="#2a98a8" opacity="0.96" />
<circle cx="401.9" cy="66.5" r="0.72" fill="#42c488" opacity="0.63" />
<circle cx="414.4" cy="30.6" r="0.94" fill="#42c488" opacity="0.75" />
<circle cx="435.7" cy="63.7" r="1.05" fill="#288ab0" opacity="0.83" />
<circle cx="431.5" cy="72.3" r="1.02" fill="#3ab478" opacity="0.95" />
<circle cx="439.0" cy="61.6" r="0.85" fill="#38bc98" opacity="0.77" />
<circle cx="409.3" cy="50.4" r="0.83" fill="#288ab0" opacity="0.90" />
<circle cx="434.1" cy="66.3" r="0.69" fill="#32a0a8" opacity="0.82" />
<circle cx="415.2" cy="24.8" r="0.73" fill="#288ab0" opacity="0.96" />
<circle cx="443.4" cy="48.0" r="0.96" fill="#288ab0" opacity="0.78" />
<circle cx="393.6" cy="40.0" r="0.65" fill="#42c488" opacity="0.92" />
<circle cx="416.2" cy="81.2" r="0.60" fill="#288ab0" opacity="0.83" />
<circle cx="400.2" cy="72.4" r="0.93" fill="#38bc98" opacity="0.98" />
<circle cx="404.0" cy="73.1" r="0.72" fill="#42c488" opacity="0.74" />
<circle cx="440.9" cy="52.2" r="0.85" fill="#3ab478" opacity="0.62" />
<circle cx="436.8" cy="57.2" r="0.72" fill="#38bc98" opacity="0.80" />
<circle cx="393.3" cy="47.7" r="0.92" fill="#38bc98" opacity="0.84" />
<circle cx="434.8" cy="49.2" r="0.86" fill="#3ab478" opacity="0.90" />
<circle cx="415.7" cy="82.6" r="0.95" fill="#2a98a8" opacity="0.68" />
<circle cx="408.4" cy="50.6" r="0.71" fill="#4acc98" opacity="0.89" />
<circle cx="434.7" cy="36.5" r="0.65" fill="#32a0a8" opacity="0.88" />
<circle cx="389.6" cy="67.5" r="0.86" fill="#4acc98" opacity="0.75" />
<circle cx="426.8" cy="30.7" r="0.89" fill="#2a98a8" opacity="0.85" />
<circle cx="437.1" cy="46.5" r="0.77" fill="#3ab478" opacity="0.82" />
<circle cx="409.5" cy="25.4" r="0.64" fill="#38bc98" opacity="0.75" />
<circle cx="433.1" cy="56.3" r="1.00" fill="#2a98a8" opacity="0.84" />
<circle cx="413.0" cy="78.2" r="0.76" fill="#4acc98" opacity="0.96" />
<circle cx="410.9" cy="68.5" r="0.89" fill="#4acc98" opacity="0.99" />
<circle cx="420.6" cy="71.6" r="0.88" fill="#2fa8a0" opacity="0.67" />
<circle cx="410.3" cy="32.8" r="0.79" fill="#32a0a8" opacity="0.64" />
<circle cx="416.8" cy="37.6" r="0.61" fill="#2a98a8" opacity="0.66" />
<circle cx="425.2" cy="45.6" r="0.68" fill="#2a98a8" opacity="0.81" />
<circle cx="430.5" cy="72.8" r="0.56" fill="#42c488" opacity="0.90" />
<circle cx="401.0" cy="38.8" r="0.78" fill="#4acc98" opacity="0.70" />
<circle cx="438.8" cy="63.1" r="0.80" fill="#38bc98" opacity="0.75" />
<circle cx="435.6" cy="50.0" r="0.86" fill="#38bc98" opacity="0.80" />
<circle cx="388.4" cy="63.4" r="1.10" fill="#4acc98" opacity="0.82" />
<circle cx="386.0" cy="54.2" r="0.71" fill="#4acc98" opacity="0.66" />
<circle cx="404.5" cy="71.4" r="0.65" fill="#38bc98" opacity="0.75" />
<circle cx="399.5" cy="62.8" r="1.06" fill="#2a98a8" opacity="0.69" />
<circle cx="412.5" cy="70.8" r="0.76" fill="#2fa8a0" opacity="0.62" />
<circle cx="430.9" cy="28.6" r="0.84" fill="#38bc98" opacity="0.81" />
<circle cx="400.8" cy="42.1" r="0.70" fill="#4acc98" opacity="0.57" />
<circle cx="417.8" cy="74.3" r="0.98" fill="#32a0a8" opacity="0.98" />
<circle cx="420.6" cy="55.8" r="0.78" fill="#32a0a8" opacity="0.89" />
<circle cx="394.1" cy="75.7" r="1.01" fill="#32a0a8" opacity="0.92" />
<circle cx="440.5" cy="62.0" r="0.84" fill="#32a0a8" opacity="0.96" />
<circle cx="426.2" cy="26.2" r="0.95" fill="#32a0a8" opacity="0.88" />
<circle cx="408.8" cy="68.7" r="0.72" fill="#38bc98" opacity="0.66" />
<circle cx="440.2" cy="54.4" r="1.03" fill="#2fa8a0" opacity="0.76" />
<circle cx="410.6" cy="62.3" r="1.07" fill="#38bc98" opacity="1.00" />
<circle cx="409.4" cy="79.2" r="0.75" fill="#32a0a8" opacity="0.80" />
<circle cx="395.0" cy="47.7" r="0.78" fill="#38bc98" opacity="0.96" />
<circle cx="386.4" cy="51.8" r="0.62" fill="#3ab478" opacity="0.55" />
<circle cx="412.9" cy="34.6" r="0.73" fill="#38bc98" opacity="0.75" />
<circle cx="411.9" cy="52.9" r="0.63" fill="#42c488" opacity="0.57" />
<circle cx="407.3" cy="46.1" r="1.06" fill="#3ab478" opacity="0.95" />
<circle cx="387.9" cy="58.8" r="0.93" fill="#2fa8a0" opacity="0.64" />
<circle cx="435.3" cy="59.3" r="0.81" fill="#2a98a8" opacity="0.84" />
<circle cx="421.0" cy="63.6" r="0.84" fill="#42c488" opacity="0.64" />
<circle cx="389.4" cy="49.0" r="0.72" fill="#288ab0" opacity="0.94" />
<circle cx="439.2" cy="44.6" r="0.93" fill="#3ab478" opacity="0.74" />
<circle cx="386.4" cy="57.7" r="0.62" fill="#42c488" opacity="0.67" />
<circle cx="424.3" cy="61.7" r="0.71" fill="#288ab0" opacity="0.72" />
<circle cx="406.0" cy="77.2" r="0.87" fill="#42c488" opacity="0.99" />
<circle cx="419.0" cy="26.2" r="0.92" fill="#3ab478" opacity="0.99" />
<circle cx="411.5" cy="52.5" r="0.84" fill="#2fa8a0" opacity="0.55" />
<circle cx="417.3" cy="58.4" r="0.78" fill="#38bc98" opacity="0.62" />
<circle cx="392.1" cy="52.2" r="0.57" fill="#2a98a8" opacity="0.99" />
<circle cx="397.4" cy="34.2" r="0.96" fill="#32a0a8" opacity="0.55" />
<circle cx="439.7" cy="60.5" r="0.82" fill="#2fa8a0" opacity="0.78" />
<circle cx="401.1" cy="69.5" r="0.93" fill="#2a98a8" opacity="0.82" />
<circle cx="442.6" cy="45.7" r="0.79" fill="#3ab478" opacity="0.80" />
<circle cx="396.1" cy="54.2" r="0.95" fill="#288ab0" opacity="0.77" />
<circle cx="400.3" cy="46.6" r="0.82" fill="#2fa8a0" opacity="0.64" />
<circle cx="397.3" cy="69.0" r="0.73" fill="#2fa8a0" opacity="0.82" />
<circle cx="427.8" cy="65.0" r="0.95" fill="#2fa8a0" opacity="0.58" />
<circle cx="429.3" cy="71.8" r="0.85" fill="#42c488" opacity="0.83" />
<circle cx="399.7" cy="33.2" r="0.93" fill="#288ab0" opacity="0.89" />
<circle cx="408.9" cy="60.3" r="0.83" fill="#32a0a8" opacity="0.66" />
<circle cx="393.1" cy="49.4" r="1.01" fill="#3ab478" opacity="0.58" />
<circle cx="417.1" cy="43.8" r="0.67" fill="#2fa8a0" opacity="0.61" />
<circle cx="421.6" cy="67.6" r="0.62" fill="#3ab478" opacity="0.78" />
<circle cx="410.4" cy="51.2" r="0.60" fill="#288ab0" opacity="0.76" />
<circle cx="413.7" cy="70.1" r="1.09" fill="#42c488" opacity="0.68" />
<circle cx="429.0" cy="31.3" r="0.67" fill="#288ab0" opacity="0.70" />
<circle cx="430.6" cy="76.5" r="0.57" fill="#32a0a8" opacity="0.81" />
<circle cx="400.9" cy="74.9" r="1.04" fill="#2a98a8" opacity="0.76" />
<circle cx="396.5" cy="65.2" r="0.76" fill="#2fa8a0" opacity="0.65" />
<circle cx="422.0" cy="33.1" r="0.85" fill="#2a98a8" opacity="0.77" />
<circle cx="407.2" cy="54.0" r="0.97" fill="#3ab478" opacity="0.75" />
<circle cx="442.6" cy="53.4" r="0.76" fill="#38bc98" opacity="0.57" />
<circle cx="419.5" cy="58.8" r="0.96" fill="#32a0a8" opacity="0.81" />
<circle cx="433.1" cy="46.0" r="0.61" fill="#2fa8a0" opacity="0.62" />
<circle cx="439.2" cy="63.3" r="0.97" fill="#38bc98" opacity="0.56" />
<circle cx="412.6" cy="41.4" r="0.60" fill="#32a0a8" opacity="0.70" />
<circle cx="425.7" cy="64.4" r="0.58" fill="#32a0a8" opacity="0.82" />
<circle cx="427.7" cy="38.6" r="0.83" fill="#2a98a8" opacity="0.56" />
<circle cx="410.5" cy="42.9" r="0.85" fill="#2a98a8" opacity="0.78" />
<circle cx="424.9" cy="46.6" r="0.80" fill="#32a0a8" opacity="0.62" />
<circle cx="412.0" cy="32.2" r="0.94" fill="#32a0a8" opacity="0.61" />
<circle cx="421.9" cy="47.4" r="0.61" fill="#4acc98" opacity="0.71" />
<circle cx="390.0" cy="41.6" r="0.86" fill="#288ab0" opacity="0.85" />
<circle cx="423.7" cy="48.8" r="0.62" fill="#4acc98" opacity="0.66" />
<circle cx="437.7" cy="39.5" r="0.79" fill="#32a0a8" opacity="0.77" />
<circle cx="396.9" cy="72.9" r="0.71" fill="#288ab0" opacity="0.65" />
<circle cx="432.6" cy="56.6" r="0.94" fill="#38bc98" opacity="0.88" />
<circle cx="424.4" cy="41.4" r="1.02" fill="#288ab0" opacity="0.87" />
<circle cx="399.9" cy="30.5" r="0.75" fill="#38bc98" opacity="0.96" />
<circle cx="410.8" cy="39.2" r="1.02" fill="#288ab0" opacity="0.76" />
<circle cx="418.2" cy="35.5" r="0.56" fill="#4acc98" opacity="0.70" />
<circle cx="418.3" cy="39.3" r="1.00" fill="#2a98a8" opacity="0.84" />
<circle cx="417.0" cy="41.8" r="1.04" fill="#2fa8a0" opacity="0.81" />
<circle cx="415.5" cy="63.7" r="0.78" fill="#32a0a8" opacity="0.58" />
<circle cx="398.7" cy="35.6" r="0.80" fill="#32a0a8" opacity="0.57" />
<circle cx="399.8" cy="40.1" r="0.72" fill="#4acc98" opacity="0.76" />
<circle cx="390.9" cy="40.3" r="0.70" fill="#288ab0" opacity="0.86" />
<circle cx="421.4" cy="50.2" r="0.68" fill="#3ab478" opacity="0.93" />
<circle cx="443.7" cy="43.9" r="1.00" fill="#4acc98" opacity="0.67" />
<circle cx="440.0" cy="51.4" r="0.77" fill="#2a98a8" opacity="0.98" />
<circle cx="442.8" cy="49.9" r="0.89" fill="#3ab478" opacity="0.91" />
<circle cx="410.1" cy="41.7" r="0.75" fill="#3ab478" opacity="0.66" />
<circle cx="412.0" cy="35.9" r="0.65" fill="#2a98a8" opacity="0.94" />
<circle cx="439.1" cy="59.1" r="1.02" fill="#3ab478" opacity="0.57" />
<circle cx="423.9" cy="53.9" r="0.82" fill="#4acc98" opacity="0.66" />
<circle cx="403.2" cy="67.3" r="0.77" fill="#288ab0" opacity="0.72" />
<circle cx="435.9" cy="45.7" r="1.02" fill="#42c488" opacity="0.93" />
<circle cx="426.1" cy="68.8" r="0.78" fill="#2a98a8" opacity="0.83" />
<circle cx="416.5" cy="79.7" r="0.62" fill="#32a0a8" opacity="0.83" />
<circle cx="400.2" cy="52.6" r="1.09" fill="#3ab478" opacity="0.81" />
<circle cx="392.2" cy="48.3" r="0.78" fill="#32a0a8" opacity="0.72" />
<circle cx="437.6" cy="43.5" r="0.64" fill="#38bc98" opacity="0.94" />
<circle cx="408.4" cy="35.3" r="0.85" fill="#38bc98" opacity="0.73" />
<circle cx="443.6" cy="51.6" r="0.59" fill="#3ab478" opacity="0.91" />
<circle cx="438.3" cy="56.1" r="0.77" fill="#32a0a8" opacity="0.89" />
<circle cx="439.8" cy="66.3" r="0.93" fill="#288ab0" opacity="0.91" />
<circle cx="414.0" cy="25.2" r="0.61" fill="#288ab0" opacity="0.95" />
<circle cx="426.8" cy="34.8" r="1.04" fill="#288ab0" opacity="0.80" />
<circle cx="395.2" cy="45.8" r="0.70" fill="#42c488" opacity="0.59" />
<circle cx="400.6" cy="44.6" r="0.86" fill="#2a98a8" opacity="0.58" />
<circle cx="439.5" cy="59.3" r="0.59" fill="#2a98a8" opacity="0.70" />
<circle cx="388.2" cy="53.2" r="1.10" fill="#32a0a8" opacity="0.77" />
<circle cx="398.9" cy="64.3" r="0.77" fill="#2fa8a0" opacity="0.65" />
<circle cx="406.5" cy="72.8" r="0.69" fill="#42c488" opacity="0.97" />
<circle cx="399.0" cy="66.6" r="0.95" fill="#2a98a8" opacity="0.94" />
<circle cx="432.1" cy="71.9" r="0.92" fill="#288ab0" opacity="0.71" />
<circle cx="433.6" cy="54.1" r="0.83" fill="#2fa8a0" opacity="0.95" />
<circle cx="402.7" cy="30.8" r="0.97" fill="#288ab0" opacity="0.91" />
<circle cx="417.6" cy="75.2" r="0.77" fill="#38bc98" opacity="0.97" />
<circle cx="400.4" cy="68.4" r="0.77" fill="#2fa8a0" opacity="0.55" />
<circle cx="407.6" cy="31.8" r="0.95" fill="#288ab0" opacity="0.91" />
<circle cx="403.8" cy="54.7" r="0.74" fill="#288ab0" opacity="0.58" />
<circle cx="417.7" cy="63.5" r="0.70" fill="#42c488" opacity="0.88" />
<circle cx="393.1" cy="53.8" r="0.85" fill="#42c488" opacity="0.63" />
<circle cx="411.8" cy="44.6" r="0.56" fill="#2fa8a0" opacity="0.73" />
<circle cx="406.2" cy="48.4" r="1.07" fill="#42c488" opacity="0.56" />
<circle cx="415.6" cy="60.4" r="0.73" fill="#3ab478" opacity="0.98" />
<circle cx="407.3" cy="38.7" r="0.94" fill="#2a98a8" opacity="0.92" />
<circle cx="401.9" cy="32.2" r="1.06" fill="#2a98a8" opacity="0.90" />
<circle cx="436.6" cy="31.8" r="0.95" fill="#32a0a8" opacity="0.96" />
<circle cx="391.9" cy="42.1" r="0.74" fill="#3ab478" opacity="0.94" />
<circle cx="420.4" cy="58.4" r="0.86" fill="#38bc98" opacity="0.60" />
<circle cx="415.0" cy="73.6" r="0.79" fill="#3ab478" opacity="0.74" />
<circle cx="421.6" cy="36.6" r="0.88" fill="#2fa8a0" opacity="0.78" />
<circle cx="390.4" cy="41.7" r="0.80" fill="#2fa8a0" opacity="0.82" />
<circle cx="393.4" cy="74.9" r="0.96" fill="#4acc98" opacity="0.63" />
<circle cx="411.8" cy="54.6" r="0.58" fill="#2a98a8" opacity="0.89" />
<circle cx="442.1" cy="47.8" r="0.61" fill="#38bc98" opacity="0.78" />
<circle cx="421.8" cy="77.0" r="0.69" fill="#4acc98" opacity="0.75" />
<circle cx="401.5" cy="71.6" r="0.66" fill="#288ab0" opacity="0.98" />
<circle cx="420.6" cy="25.5" r="0.79" fill="#3ab478" opacity="0.94" />
<circle cx="397.5" cy="37.2" r="0.58" fill="#38bc98" opacity="0.91" />
<circle cx="406.3" cy="34.2" r="0.61" fill="#2fa8a0" opacity="0.97" />
<circle cx="409.9" cy="41.6" r="0.89" fill="#2fa8a0" opacity="0.93" />
<circle cx="403.4" cy="76.3" r="0.59" fill="#42c488" opacity="0.79" />
<circle cx="388.6" cy="67.6" r="1.08" fill="#32a0a8" opacity="0.72" />
<circle cx="420.1" cy="74.5" r="1.01" fill="#288ab0" opacity="0.85" />
<circle cx="415.1" cy="29.1" r="0.97" fill="#2a98a8" opacity="0.86" />
<circle cx="429.2" cy="35.1" r="0.61" fill="#4acc98" opacity="0.82" />
<circle cx="421.9" cy="34.1" r="1.10" fill="#42c488" opacity="0.88" />
<circle cx="417.3" cy="39.4" r="0.77" fill="#2a98a8" opacity="0.58" />
<circle cx="410.7" cy="38.8" r="0.89" fill="#288ab0" opacity="0.76" />
<circle cx="397.1" cy="74.0" r="0.74" fill="#32a0a8" opacity="0.66" />
<circle cx="427.4" cy="46.5" r="1.03" fill="#288ab0" opacity="0.98" />
<circle cx="391.5" cy="44.4" r="0.67" fill="#3ab478" opacity="0.72" />
<circle cx="421.1" cy="67.2" r="0.80" fill="#38bc98" opacity="0.72" />
<circle cx="404.8" cy="51.0" r="0.91" fill="#288ab0" opacity="0.68" />
<circle cx="416.2" cy="68.6" r="0.68" fill="#32a0a8" opacity="0.72" />
<circle cx="403.9" cy="73.8" r="0.76" fill="#288ab0" opacity="0.70" />
<circle cx="414.0" cy="81.5" r="0.87" fill="#38bc98" opacity="0.75" />
<circle cx="391.1" cy="55.9" r="0.56" fill="#2fa8a0" opacity="0.88" />
<circle cx="428.7" cy="52.5" r="1.04" fill="#2fa8a0" opacity="0.85" />
<circle cx="401.2" cy="41.3" r="0.81" fill="#2fa8a0" opacity="0.99" />
<circle cx="397.2" cy="64.6" r="0.91" fill="#38bc98" opacity="1.00" />
<circle cx="398.7" cy="35.4" r="0.77" fill="#42c488" opacity="0.78" />
<circle cx="418.8" cy="56.4" r="1.01" fill="#32a0a8" opacity="0.59" />
<circle cx="426.1" cy="79.6" r="0.98" fill="#288ab0" opacity="0.85" />
<circle cx="435.8" cy="69.8" r="1.04" fill="#32a0a8" opacity="0.76" />
<circle cx="401.6" cy="28.7" r="0.84" fill="#38bc98" opacity="0.90" />
<circle cx="435.8" cy="35.9" r="0.68" fill="#38bc98" opacity="0.78" />
<circle cx="413.3" cy="39.4" r="0.69" fill="#32a0a8" opacity="0.76" />
<circle cx="431.9" cy="75.8" r="0.64" fill="#38bc98" opacity="0.76" />
<circle cx="444.1" cy="50.6" r="1.08" fill="#2a98a8" opacity="0.73" />
<circle cx="404.8" cy="74.4" r="1.08" fill="#32a0a8" opacity="0.92" />
<circle cx="391.6" cy="56.9" r="0.61" fill="#32a0a8" opacity="0.62" />
<circle cx="436.1" cy="32.8" r="0.61" fill="#288ab0" opacity="0.96" />
<circle cx="406.1" cy="67.1" r="0.98" fill="#32a0a8" opacity="0.74" />
<circle cx="407.6" cy="26.6" r="0.61" fill="#32a0a8" opacity="0.70" />
<circle cx="408.4" cy="60.1" r="1.04" fill="#2a98a8" opacity="0.81" />
<circle cx="398.5" cy="72.0" r="0.77" fill="#288ab0" opacity="0.67" />
<circle cx="431.0" cy="44.2" r="0.60" fill="#3ab478" opacity="0.72" />
<circle cx="428.3" cy="51.3" r="0.61" fill="#288ab0" opacity="0.93" />
<circle cx="395.8" cy="38.3" r="0.85" fill="#32a0a8" opacity="0.92" />
<circle cx="413.6" cy="69.8" r="0.57" fill="#4acc98" opacity="0.77" />
<circle cx="393.6" cy="54.8" r="0.82" fill="#2fa8a0" opacity="0.72" />
<circle cx="435.5" cy="38.7" r="0.93" fill="#4acc98" opacity="0.98" />
<circle cx="405.5" cy="52.9" r="0.75" fill="#288ab0" opacity="0.64" />
<circle cx="417.9" cy="23.9" r="0.97" fill="#4acc98" opacity="0.57" />
<circle cx="408.5" cy="26.7" r="0.70" fill="#32a0a8" opacity="0.84" />
<circle cx="426.9" cy="29.8" r="0.86" fill="#38bc98" opacity="0.59" />
<circle cx="415.6" cy="38.5" r="1.00" fill="#288ab0" opacity="0.84" />
<circle cx="391.2" cy="42.2" r="0.85" fill="#4acc98" opacity="0.84" />
<circle cx="422.4" cy="66.5" r="0.55" fill="#3ab478" opacity="0.74" />
<circle cx="429.4" cy="61.2" r="0.96" fill="#32a0a8" opacity="0.89" />
<circle cx="410.1" cy="73.9" r="0.79" fill="#38bc98" opacity="0.93" />
<circle cx="440.2" cy="63.9" r="1.01" fill="#38bc98" opacity="0.87" />
<circle cx="403.0" cy="58.3" r="0.91" fill="#38bc98" opacity="0.97" />
<circle cx="406.7" cy="38.7" r="0.84" fill="#38bc98" opacity="0.62" />
<circle cx="409.6" cy="40.7" r="1.04" fill="#32a0a8" opacity="0.64" />
<circle cx="423.9" cy="60.7" r="0.79" fill="#32a0a8" opacity="0.78" />
<circle cx="412.4" cy="55.0" r="1.02" fill="#4acc98" opacity="0.64" />
<circle cx="422.7" cy="32.2" r="0.74" fill="#32a0a8" opacity="0.75" />
<circle cx="420.5" cy="55.0" r="0.97" fill="#2a98a8" opacity="0.77" />
<circle cx="434.5" cy="48.5" r="0.69" fill="#32a0a8" opacity="0.81" />
<circle cx="423.2" cy="24.2" r="1.00" fill="#32a0a8" opacity="0.66" />
<circle cx="386.3" cy="61.5" r="0.59" fill="#2a98a8" opacity="0.99" />
<circle cx="434.1" cy="66.7" r="0.82" fill="#42c488" opacity="0.63" />
<circle cx="412.7" cy="66.2" r="0.83" fill="#2a98a8" opacity="0.57" />
<circle cx="420.6" cy="64.0" r="0.85" fill="#4acc98" opacity="0.77" />
<circle cx="393.4" cy="73.1" r="0.75" fill="#288ab0" opacity="0.59" />
<circle cx="438.7" cy="51.1" r="0.66" fill="#4acc98" opacity="0.60" />
<circle cx="422.8" cy="67.1" r="1.04" fill="#4acc98" opacity="0.86" />
<circle cx="390.8" cy="69.1" r="0.95" fill="#288ab0" opacity="0.82" />
<circle cx="404.9" cy="32.3" r="0.64" fill="#288ab0" opacity="0.85" />
<circle cx="403.8" cy="48.2" r="0.69" fill="#38bc98" opacity="0.67" />
<circle cx="415.5" cy="35.1" r="0.83" fill="#32a0a8" opacity="0.62" />
<circle cx="417.9" cy="59.5" r="0.95" fill="#288ab0" opacity="0.69" />
<circle cx="400.6" cy="63.6" r="0.91" fill="#42c488" opacity="0.77" />
<circle cx="429.4" cy="53.3" r="0.67" fill="#288ab0" opacity="0.80" />
<circle cx="420.0" cy="35.4" r="1.07" fill="#38bc98" opacity="0.81" />
<circle cx="422.9" cy="80.6" r="0.72" fill="#2fa8a0" opacity="0.60" />
<circle cx="433.7" cy="38.3" r="1.09" fill="#288ab0" opacity="0.71" />
<circle cx="437.0" cy="43.0" r="0.78" fill="#2a98a8" opacity="0.99" />
<circle cx="408.2" cy="76.7" r="0.98" fill="#38bc98" opacity="0.75" />
<circle cx="439.8" cy="41.1" r="0.93" fill="#3ab478" opacity="0.97" />
<circle cx="412.9" cy="25.7" r="0.93" fill="#2fa8a0" opacity="0.80" />
<circle cx="432.3" cy="73.9" r="0.62" fill="#288ab0" opacity="0.67" />
<circle cx="413.0" cy="32.4" r="0.63" fill="#2a98a8" opacity="0.94" />
<circle cx="411.0" cy="57.2" r="0.93" fill="#4acc98" opacity="0.97" />
<circle cx="397.2" cy="38.8" r="1.08" fill="#2fa8a0" opacity="0.60" />
<circle cx="415.1" cy="36.6" r="1.09" fill="#32a0a8" opacity="0.56" />
<circle cx="421.1" cy="74.4" r="0.84" fill="#38bc98" opacity="0.55" />
<circle cx="418.2" cy="42.4" r="0.74" fill="#2fa8a0" opacity="0.95" />
<circle cx="400.5" cy="58.8" r="0.84" fill="#4acc98" opacity="0.75" />
<circle cx="388.3" cy="61.0" r="0.65" fill="#2a98a8" opacity="0.65" />
<circle cx="424.8" cy="38.7" r="1.06" fill="#2a98a8" opacity="0.66" />
<circle cx="431.6" cy="48.1" r="0.84" fill="#288ab0" opacity="0.81" />
<circle cx="396.7" cy="37.6" r="0.96" fill="#42c488" opacity="0.85" />
<circle cx="425.6" cy="66.1" r="0.59" fill="#42c488" opacity="0.75" />
<circle cx="393.9" cy="39.0" r="0.63" fill="#4acc98" opacity="0.58" />
<circle cx="433.4" cy="47.5" r="1.10" fill="#42c488" opacity="0.72" />
<circle cx="402.5" cy="49.7" r="0.96" fill="#3ab478" opacity="0.99" />
<circle cx="426.2" cy="34.8" r="0.59" fill="#2a98a8" opacity="0.95" />
<circle cx="390.8" cy="67.3" r="0.63" fill="#4acc98" opacity="0.98" />
<circle cx="417.5" cy="25.1" r="0.92" fill="#3ab478" opacity="0.72" />
<circle cx="407.1" cy="81.4" r="0.63" fill="#38bc98" opacity="0.99" />
<circle cx="417.3" cy="70.0" r="0.62" fill="#4acc98" opacity="0.63" />
<circle cx="398.4" cy="40.5" r="0.85" fill="#3ab478" opacity="0.89" />
<circle cx="397.8" cy="75.0" r="0.59" fill="#42c488" opacity="0.56" />
<circle cx="425.9" cy="77.8" r="0.65" fill="#4acc98" opacity="0.84" />
<circle cx="399.4" cy="37.8" r="1.04" fill="#3ab478" opacity="0.71" />
<circle cx="436.4" cy="71.5" r="0.57" fill="#2a98a8" opacity="0.97" />
<circle cx="430.3" cy="58.7" r="0.58" fill="#2a98a8" opacity="0.57" />
<circle cx="397.7" cy="64.6" r="1.08" fill="#2fa8a0" opacity="0.65" />
<circle cx="427.7" cy="64.6" r="0.91" fill="#3ab478" opacity="0.56" />
<circle cx="422.5" cy="32.1" r="1.08" fill="#4acc98" opacity="0.67" />
<circle cx="425.6" cy="51.8" r="0.81" fill="#4acc98" opacity="0.62" />
<circle cx="397.1" cy="43.7" r="0.89" fill="#32a0a8" opacity="0.79" />
<circle cx="420.5" cy="44.2" r="1.05" fill="#42c488" opacity="0.85" />
<circle cx="404.0" cy="76.0" r="0.91" fill="#3ab478" opacity="0.78" />
<circle cx="392.2" cy="51.4" r="0.68" fill="#32a0a8" opacity="0.62" />
<circle cx="442.8" cy="60.2" r="0.60" fill="#2fa8a0" opacity="0.71" />
<circle cx="417.8" cy="55.5" r="1.06" fill="#32a0a8" opacity="0.86" />
<circle cx="426.1" cy="54.9" r="0.82" fill="#3ab478" opacity="0.58" />
<circle cx="401.9" cy="53.0" r="0.58" fill="#2a98a8" opacity="0.99" />
<circle cx="408.4" cy="42.5" r="0.60" fill="#2fa8a0" opacity="0.66" />
<circle cx="416.5" cy="79.5" r="0.69" fill="#38bc98" opacity="0.74" />
<circle cx="399.0" cy="76.0" r="0.82" fill="#3ab478" opacity="0.62" />
<circle cx="400.7" cy="54.1" r="0.83" fill="#42c488" opacity="0.84" />
<circle cx="425.3" cy="58.0" r="0.71" fill="#2a98a8" opacity="0.86" />
<circle cx="418.8" cy="74.3" r="1.00" fill="#2a98a8" opacity="0.60" />
<circle cx="405.3" cy="62.4" r="0.57" fill="#2fa8a0" opacity="0.98" />
<circle cx="423.0" cy="58.0" r="0.90" fill="#32a0a8" opacity="0.97" />
<circle cx="439.3" cy="38.7" r="0.92" fill="#38bc98" opacity="0.67" />
<circle cx="410.9" cy="40.4" r="0.69" fill="#288ab0" opacity="0.99" />
<circle cx="435.9" cy="40.7" r="0.95" fill="#2fa8a0" opacity="0.75" />
<circle cx="415.7" cy="45.1" r="0.96" fill="#2fa8a0" opacity="0.81" />
<circle cx="427.9" cy="76.4" r="0.82" fill="#32a0a8" opacity="0.87" />
<circle cx="395.3" cy="75.5" r="0.68" fill="#38bc98" opacity="0.86" />
<circle cx="423.5" cy="45.5" r="0.70" fill="#2a98a8" opacity="0.56" />
<circle cx="394.2" cy="57.2" r="0.61" fill="#4acc98" opacity="0.97" />
<circle cx="441.0" cy="59.2" r="1.07" fill="#288ab0" opacity="0.98" />
<circle cx="433.5" cy="56.0" r="0.70" fill="#3ab478" opacity="0.58" />
<circle cx="389.9" cy="47.7" r="0.58" fill="#42c488" opacity="0.68" />
<circle cx="438.8" cy="63.4" r="0.79" fill="#32a0a8" opacity="0.58" />
<circle cx="402.6" cy="30.0" r="0.84" fill="#32a0a8" opacity="0.65" />
<circle cx="413.3" cy="49.6" r="0.78" fill="#288ab0" opacity="0.81" />
<circle cx="432.1" cy="27.9" r="0.60" fill="#2a98a8" opacity="0.89" />
<circle cx="426.8" cy="44.8" r="0.95" fill="#4acc98" opacity="0.67" />
<circle cx="412.7" cy="30.5" r="1.05" fill="#38bc98" opacity="0.55" />
<circle cx="409.0" cy="57.4" r="1.03" fill="#32a0a8" opacity="0.77" />
<circle cx="437.6" cy="52.3" r="1.00" fill="#42c488" opacity="0.86" />
<circle cx="438.8" cy="36.8" r="0.94" fill="#2a98a8" opacity="0.66" />
<circle cx="422.2" cy="51.5" r="0.76" fill="#32a0a8" opacity="0.88" />
<circle cx="432.3" cy="44.4" r="0.68" fill="#3ab478" opacity="0.99" />
<circle cx="427.8" cy="51.0" r="0.56" fill="#32a0a8" opacity="0.88" />
<circle cx="443.4" cy="53.0" r="0.57" fill="#38bc98" opacity="0.87" />
<circle cx="418.6" cy="45.3" r="0.79" fill="#3ab478" opacity="0.75" />
<circle cx="425.6" cy="73.0" r="0.60" fill="#3ab478" opacity="0.83" />
<circle cx="410.7" cy="62.6" r="0.92" fill="#32a0a8" opacity="0.95" />
<circle cx="399.6" cy="48.0" r="0.88" fill="#3ab478" opacity="0.75" />
<circle cx="433.0" cy="46.5" r="0.97" fill="#4acc98" opacity="0.80" />
<circle cx="396.6" cy="65.0" r="0.74" fill="#32a0a8" opacity="0.67" />
<circle cx="431.5" cy="44.8" r="0.77" fill="#42c488" opacity="0.89" />
<circle cx="412.5" cy="50.8" r="0.58" fill="#42c488" opacity="0.93" />
<circle cx="406.9" cy="53.5" r="0.94" fill="#4acc98" opacity="0.89" />
<circle cx="428.8" cy="44.9" r="0.94" fill="#32a0a8" opacity="0.79" />
<circle cx="434.1" cy="55.8" r="0.95" fill="#2fa8a0" opacity="0.67" />
<circle cx="416.8" cy="57.2" r="0.82" fill="#2a98a8" opacity="0.97" />
<circle cx="427.6" cy="64.1" r="0.82" fill="#32a0a8" opacity="0.85" />
<circle cx="411.3" cy="54.6" r="0.79" fill="#2fa8a0" opacity="0.98" />
<circle cx="398.3" cy="59.8" r="0.59" fill="#288ab0" opacity="0.80" />
<circle cx="407.1" cy="34.7" r="0.67" fill="#288ab0" opacity="0.62" />
<circle cx="417.9" cy="57.0" r="0.85" fill="#32a0a8" opacity="0.85" />
<circle cx="408.4" cy="31.5" r="1.03" fill="#42c488" opacity="0.64" />
<circle cx="440.5" cy="36.7" r="0.66" fill="#2fa8a0" opacity="0.77" />
<circle cx="413.6" cy="81.9" r="0.67" fill="#4acc98" opacity="0.86" />
<circle cx="392.7" cy="64.7" r="0.67" fill="#3ab478" opacity="0.87" />
<circle cx="436.3" cy="54.1" r="0.83" fill="#4acc98" opacity="0.65" />
<circle cx="398.7" cy="48.5" r="0.63" fill="#4acc98" opacity="0.90" />
<circle cx="398.1" cy="45.8" r="0.97" fill="#3ab478" opacity="0.71" />
<circle cx="435.6" cy="48.1" r="1.04" fill="#42c488" opacity="0.77" />
<circle cx="397.1" cy="36.6" r="0.92" fill="#38bc98" opacity="0.89" />
<circle cx="404.4" cy="80.5" r="0.56" fill="#4acc98" opacity="0.57" />
<circle cx="404.3" cy="73.8" r="0.58" fill="#38bc98" opacity="0.74" />
<circle cx="427.5" cy="74.0" r="0.85" fill="#2fa8a0" opacity="0.85" />
<circle cx="430.7" cy="52.5" r="0.81" fill="#288ab0" opacity="0.65" />
<circle cx="413.0" cy="44.5" r="0.64" fill="#2a98a8" opacity="0.60" />
<circle cx="430.9" cy="64.9" r="0.83" fill="#288ab0" opacity="0.80" />
<circle cx="430.0" cy="62.1" r="0.94" fill="#42c488" opacity="0.74" />
<circle cx="410.5" cy="49.5" r="0.81" fill="#42c488" opacity="0.68" />
<circle cx="411.2" cy="40.8" r="0.91" fill="#2fa8a0" opacity="0.83" />
<circle cx="419.1" cy="31.1" r="1.03" fill="#3ab478" opacity="0.86" />
<circle cx="427.3" cy="60.5" r="0.77" fill="#42c488" opacity="0.95" />
<circle cx="416.4" cy="55.7" r="0.72" fill="#288ab0" opacity="0.78" />
<circle cx="405.1" cy="35.1" r="0.90" fill="#38bc98" opacity="0.75" />
<circle cx="417.1" cy="59.0" r="0.58" fill="#2a98a8" opacity="0.58" />
<circle cx="436.1" cy="50.7" r="0.82" fill="#3ab478" opacity="0.84" />
<circle cx="428.0" cy="74.5" r="0.56" fill="#42c488" opacity="0.82" />
<circle cx="412.3" cy="35.1" r="0.65" fill="#38bc98" opacity="0.99" />
<circle cx="415.0" cy="27.2" r="0.99" fill="#42c488" opacity="0.89" />
<circle cx="442.5" cy="48.0" r="0.66" fill="#2fa8a0" opacity="0.88" />
<circle cx="425.3" cy="74.6" r="1.09" fill="#288ab0" opacity="0.96" />
<circle cx="432.8" cy="54.2" r="0.61" fill="#2fa8a0" opacity="0.97" />
<circle cx="393.6" cy="39.2" r="0.76" fill="#288ab0" opacity="0.72" />
<circle cx="424.9" cy="55.0" r="0.91" fill="#2fa8a0" opacity="0.66" />
<circle cx="388.7" cy="64.4" r="0.92" fill="#38bc98" opacity="0.66" />
<circle cx="428.3" cy="55.2" r="1.06" fill="#38bc98" opacity="0.99" />
<circle cx="417.0" cy="65.6" r="0.76" fill="#4acc98" opacity="0.77" />
<circle cx="397.2" cy="36.5" r="0.76" fill="#288ab0" opacity="0.57" />
<circle cx="416.9" cy="40.7" r="0.63" fill="#2a98a8" opacity="0.64" />
<circle cx="415.9" cy="64.6" r="0.80" fill="#3ab478" opacity="0.88" />
<circle cx="399.6" cy="68.0" r="0.89" fill="#2a98a8" opacity="0.89" />
<circle cx="443.4" cy="49.4" r="0.64" fill="#2fa8a0" opacity="0.95" />
<circle cx="398.3" cy="50.5" r="0.63" fill="#2fa8a0" opacity="0.61" />
<circle cx="424.0" cy="69.0" r="0.68" fill="#2a98a8" opacity="0.64" />
<circle cx="411.5" cy="25.1" r="0.90" fill="#2a98a8" opacity="0.58" />
<circle cx="416.7" cy="79.1" r="0.78" fill="#32a0a8" opacity="0.81" />
<circle cx="420.2" cy="48.5" r="0.81" fill="#2fa8a0" opacity="0.99" />
<circle cx="436.5" cy="66.2" r="0.98" fill="#32a0a8" opacity="0.68" />
<circle cx="399.5" cy="53.0" r="0.64" fill="#4acc98" opacity="0.97" />
<circle cx="392.5" cy="45.8" r="0.70" fill="#288ab0" opacity="0.68" />
<circle cx="413.8" cy="75.9" r="0.93" fill="#2a98a8" opacity="0.83" />
<circle cx="437.0" cy="59.8" r="0.69" fill="#38bc98" opacity="0.88" />
<circle cx="436.1" cy="60.8" r="0.88" fill="#288ab0" opacity="1.00" />
<circle cx="422.9" cy="73.3" r="1.08" fill="#2a98a8" opacity="0.67" />
<circle cx="432.1" cy="34.4" r="0.98" fill="#2fa8a0" opacity="0.75" />
<circle cx="430.6" cy="42.9" r="1.08" fill="#32a0a8" opacity="0.64" />
<circle cx="398.2" cy="67.9" r="1.09" fill="#288ab0" opacity="0.63" />
<circle cx="411.1" cy="58.5" r="0.85" fill="#288ab0" opacity="0.64" />
<circle cx="424.2" cy="48.1" r="0.55" fill="#2fa8a0" opacity="0.86" />
<circle cx="414.6" cy="64.7" r="0.81" fill="#2fa8a0" opacity="0.58" />
<circle cx="435.3" cy="49.2" r="0.81" fill="#3ab478" opacity="0.94" />
<circle cx="436.6" cy="66.1" r="0.72" fill="#32a0a8" opacity="0.66" />
<circle cx="412.8" cy="74.7" r="0.85" fill="#2a98a8" opacity="0.96" />
<circle cx="402.6" cy="80.4" r="0.62" fill="#2a98a8" opacity="0.86" />
<circle cx="397.6" cy="66.3" r="0.85" fill="#42c488" opacity="0.81" />
<circle cx="403.0" cy="81.5" r="0.58" fill="#38bc98" opacity="0.97" />
<circle cx="392.9" cy="48.0" r="0.69" fill="#288ab0" opacity="0.80" />
<circle cx="435.3" cy="60.9" r="0.61" fill="#2fa8a0" opacity="0.76" />
<circle cx="395.0" cy="42.4" r="1.02" fill="#2a98a8" opacity="0.79" />
<circle cx="395.4" cy="44.2" r="1.00" fill="#4acc98" opacity="0.96" />
<circle cx="403.7" cy="55.5" r="0.75" fill="#32a0a8" opacity="0.80" />
<circle cx="403.6" cy="73.2" r="0.92" fill="#4acc98" opacity="0.68" />
<circle cx="421.1" cy="69.8" r="0.81" fill="#2fa8a0" opacity="0.75" />
<circle cx="430.6" cy="65.8" r="1.05" fill="#2a98a8" opacity="0.78" />
<circle cx="412.1" cy="65.8" r="1.09" fill="#288ab0" opacity="0.58" />
<circle cx="423.0" cy="53.8" r="0.70" fill="#3ab478" opacity="0.97" />
<circle cx="408.1" cy="76.6" r="0.59" fill="#38bc98" opacity="0.57" />
<circle cx="428.5" cy="30.3" r="0.92" fill="#2a98a8" opacity="0.75" />
<circle cx="434.7" cy="37.5" r="0.68" fill="#2a98a8" opacity="0.75" />
<circle cx="412.2" cy="39.6" r="1.04" fill="#42c488" opacity="0.88" />
<circle cx="415.1" cy="27.9" r="0.55" fill="#3050c0" opacity="0.67" />
<circle cx="409.1" cy="35.4" r="0.57" fill="#3050c0" opacity="0.58" />
<circle cx="391.4" cy="47.4" r="0.67" fill="#3050c0" opacity="0.53" />
<circle cx="393.0" cy="44.9" r="0.69" fill="#3050c0" opacity="0.75" />
<circle cx="422.3" cy="45.2" r="0.67" fill="#3050c0" opacity="0.63" />
<circle cx="404.6" cy="40.6" r="0.57" fill="#3050c0" opacity="0.72" />
<circle cx="418.5" cy="78.6" r="0.52" fill="#3050c0" opacity="0.54" />
<circle cx="400.0" cy="73.6" r="0.85" fill="#3050c0" opacity="0.55" />
<circle cx="401.8" cy="69.5" r="0.74" fill="#2a48b0" opacity="0.73" />
<circle cx="412.4" cy="44.8" r="0.78" fill="#3050c0" opacity="0.64" />
<circle cx="391.2" cy="56.4" r="0.70" fill="#2a48b0" opacity="0.61" />
<circle cx="422.7" cy="35.7" r="0.89" fill="#3050c0" opacity="0.54" />
<circle cx="418.8" cy="64.0" r="0.75" fill="#2a48b0" opacity="0.62" />
<circle cx="425.2" cy="52.9" r="0.66" fill="#2a48b0" opacity="0.54" />
<circle cx="407.6" cy="43.9" r="0.72" fill="#2a48b0" opacity="0.74" />
<circle cx="408.6" cy="73.4" r="0.65" fill="#3050c0" opacity="0.58" />
<circle cx="423.6" cy="30.9" r="0.82" fill="#2a48b0" opacity="0.68" />
<circle cx="412.6" cy="66.1" r="0.89" fill="#3050c0" opacity="0.66" />
<circle cx="425.5" cy="61.9" r="0.54" fill="#3050c0" opacity="0.61" />
<circle cx="425.4" cy="40.1" r="0.62" fill="#2a48b0" opacity="0.74" />
<circle cx="409.0" cy="46.3" r="0.58" fill="#2a48b0" opacity="0.65" />
<circle cx="400.8" cy="34.4" r="0.53" fill="#3050c0" opacity="0.57" />
<circle cx="414.5" cy="51.8" r="0.63" fill="#2a48b0" opacity="0.63" />
<circle cx="420.3" cy="30.4" r="0.75" fill="#3050c0" opacity="0.54" />
<circle cx="432.3" cy="38.5" r="0.54" fill="#2a48b0" opacity="0.69" />
<circle cx="414.9" cy="39.3" r="0.62" fill="#2a48b0" opacity="0.79" />
<circle cx="418.9" cy="67.7" r="0.69" fill="#2a48b0" opacity="0.70" />
<circle cx="401.9" cy="43.7" r="0.67" fill="#2a48b0" opacity="0.53" />
<circle cx="410.7" cy="44.7" r="0.69" fill="#2a48b0" opacity="0.69" />
<circle cx="434.0" cy="40.4" r="0.63" fill="#2a48b0" opacity="0.50" />
<circle cx="432.1" cy="38.0" r="0.85" fill="#3050c0" opacity="0.60" />
<circle cx="414.2" cy="65.1" r="0.80" fill="#3050c0" opacity="0.62" />
<circle cx="427.1" cy="41.7" r="0.68" fill="#2a48b0" opacity="0.52" />
<circle cx="412.2" cy="54.3" r="0.74" fill="#2a48b0" opacity="0.50" />
<circle cx="423.7" cy="35.3" r="0.83" fill="#2a48b0" opacity="0.55" />
<circle cx="412.4" cy="74.9" r="0.87" fill="#3050c0" opacity="0.69" />
<circle cx="413.1" cy="46.1" r="0.86" fill="#3050c0" opacity="0.77" />
<circle cx="428.2" cy="37.1" r="0.64" fill="#3050c0" opacity="0.59" />
<circle cx="426.2" cy="66.1" r="0.64" fill="#2a48b0" opacity="0.51" />
<circle cx="414.1" cy="74.5" r="0.70" fill="#2a48b0" opacity="0.79" />
<circle cx="434.5" cy="45.6" r="0.56" fill="#e06080" opacity="0.71" />
<circle cx="396.7" cy="68.9" r="0.65" fill="#d04060" opacity="0.62" />
<circle cx="419.7" cy="29.4" r="0.64" fill="#d04060" opacity="0.78" />
<circle cx="431.1" cy="59.1" r="0.45" fill="#d04060" opacity="0.70" />
<circle cx="403.7" cy="62.4" r="0.46" fill="#d04060" opacity="0.66" />
<circle cx="412.1" cy="48.5" r="0.43" fill="#c85070" opacity="0.61" />
<circle cx="429.7" cy="36.6" r="0.43" fill="#c85070" opacity="0.88" />
<circle cx="407.6" cy="31.9" r="0.50" fill="#e06080" opacity="0.88" />
<circle cx="394.0" cy="56.4" r="0.44" fill="#c85070" opacity="0.87" />
<circle cx="397.5" cy="43.8" r="0.50" fill="#d04060" opacity="0.87" />
<circle cx="427.3" cy="65.0" r="0.42" fill="#c85070" opacity="0.87" />
<circle cx="429.3" cy="58.8" r="0.42" fill="#c85070" opacity="0.62" />
<circle cx="398.1" cy="54.8" r="0.50" fill="#d04060" opacity="0.75" />
<circle cx="431.6" cy="54.1" r="0.48" fill="#c85070" opacity="0.72" />
<circle cx="425.0" cy="47.0" r="0.41" fill="#e06080" opacity="0.61" />
<circle cx="407.3" cy="67.8" r="0.43" fill="#e06080" opacity="0.62" />
<circle cx="415.5" cy="39.0" r="0.43" fill="#d04060" opacity="0.84" />
<circle cx="410.0" cy="65.7" r="0.41" fill="#d04060" opacity="0.73" />
<circle cx="433.3" cy="35.1" r="0.43" fill="#e06080" opacity="0.80" />
<circle cx="405.5" cy="36.4" r="0.48" fill="#c85070" opacity="0.84" />
<circle cx="416.6" cy="67.3" r="0.54" fill="#e06080" opacity="0.87" />
<circle cx="426.1" cy="64.4" r="0.70" fill="#d04060" opacity="0.85" />
</g></g>
<rect x="434.00" y="81.10" width="9.80" height="1.70" fill="#fff" />
</g>
<rect x="451.00" y="21.10" width="64.20" height="66.70" fill="#030307" />
<g clip-path="url(#cdtr)">
<ellipse cx="480.5" cy="54" rx="20" ry="26" fill="#141c60" opacity="0.38" transform="rotate(8 480.5 54)" filter="url(#b3)"/>
<g clip-path="url(#cpTR)"><g filter="url(#b1)">
<circle cx="495.7" cy="58.4" r="0.83" fill="#2a3ab8" opacity="0.67" />
<circle cx="481.0" cy="78.2" r="0.68" fill="#3a50c0" opacity="0.45" />
<circle cx="484.2" cy="73.9" r="0.77" fill="#2430a0" opacity="0.50" />
<circle cx="488.4" cy="78.1" r="0.94" fill="#2430a0" opacity="0.83" />
<circle cx="476.5" cy="51.1" r="1.02" fill="#2c3cb0" opacity="0.82" />
<circle cx="485.7" cy="26.5" r="0.79" fill="#2430a0" opacity="0.48" />
<circle cx="485.3" cy="47.5" r="0.78" fill="#3a50c0" opacity="0.46" />
<circle cx="483.0" cy="54.4" r="0.64" fill="#3a50c0" opacity="0.58" />
<circle cx="479.7" cy="50.0" r="0.85" fill="#2a3ab8" opacity="0.82" />
<circle cx="469.7" cy="37.0" r="0.78" fill="#4a4ab8" opacity="0.62" />
<circle cx="488.9" cy="64.7" r="0.70" fill="#4a4ab8" opacity="0.41" />
<circle cx="488.6" cy="75.8" r="0.57" fill="#3040c8" opacity="0.44" />
<circle cx="497.9" cy="59.4" r="0.77" fill="#2430a0" opacity="0.84" />
<circle cx="491.0" cy="53.8" r="0.92" fill="#2c3cb0" opacity="0.74" />
<circle cx="501.3" cy="63.1" r="0.90" fill="#4a4ab8" opacity="0.69" />
<circle cx="469.1" cy="35.8" r="1.03" fill="#2a3ab8" opacity="0.82" />
<circle cx="493.8" cy="77.0" r="0.96" fill="#2c3cb0" opacity="0.71" />
<circle cx="475.3" cy="54.0" r="0.93" fill="#2a3ab8" opacity="0.80" />
<circle cx="504.3" cy="54.1" r="0.89" fill="#4a4ab8" opacity="0.54" />
<circle cx="481.1" cy="27.4" r="1.04" fill="#3a50c0" opacity="0.73" />
<circle cx="495.2" cy="53.8" r="0.65" fill="#3a50c0" opacity="0.60" />
<circle cx="494.0" cy="69.0" r="0.63" fill="#3a50c0" opacity="0.81" />
<circle cx="499.5" cy="34.7" r="1.03" fill="#4a4ab8" opacity="0.67" />
<circle cx="460.6" cy="69.7" r="0.89" fill="#4a4ab8" opacity="0.67" />
<circle cx="490.6" cy="62.3" r="0.73" fill="#2430a0" opacity="0.69" />
<circle cx="496.7" cy="59.3" r="0.58" fill="#3a50c0" opacity="0.67" />
<circle cx="482.6" cy="24.9" r="0.86" fill="#4a4ab8" opacity="0.48" />
<circle cx="497.6" cy="48.3" r="0.58" fill="#4a4ab8" opacity="0.77" />
<circle cx="482.0" cy="75.6" r="0.94" fill="#3040c8" opacity="0.61" />
<circle cx="500.2" cy="50.5" r="0.56" fill="#2430a0" opacity="0.81" />
<circle cx="459.0" cy="55.2" r="0.71" fill="#2a3ab8" opacity="0.71" />
<circle cx="463.0" cy="39.8" r="0.75" fill="#2a3ab8" opacity="0.44" />
<circle cx="482.2" cy="45.6" r="0.57" fill="#2c3cb0" opacity="0.84" />
<circle cx="465.8" cy="53.8" r="0.66" fill="#2a3ab8" opacity="0.64" />
<circle cx="475.0" cy="64.6" r="0.72" fill="#2c3cb0" opacity="0.68" />
<circle cx="491.1" cy="46.9" r="0.75" fill="#2430a0" opacity="0.83" />
<circle cx="491.1" cy="73.8" r="1.05" fill="#3040c8" opacity="0.79" />
<circle cx="460.9" cy="66.3" r="0.97" fill="#2c3cb0" opacity="0.75" />
<circle cx="463.7" cy="55.7" r="0.86" fill="#2c3cb0" opacity="0.61" />
<circle cx="476.5" cy="42.1" r="1.03" fill="#2a3ab8" opacity="0.84" />
<circle cx="478.6" cy="27.7" r="0.88" fill="#2430a0" opacity="0.44" />
<circle cx="465.2" cy="49.1" r="0.76" fill="#4a4ab8" opacity="0.84" />
<circle cx="485.9" cy="37.1" r="0.92" fill="#4a4ab8" opacity="0.51" />
<circle cx="487.9" cy="29.3" r="0.60" fill="#4a4ab8" opacity="0.46" />
<circle cx="490.6" cy="57.1" r="0.55" fill="#3040c8" opacity="0.43" />
<circle cx="480.8" cy="50.8" r="0.56" fill="#4a4ab8" opacity="0.52" />
<circle cx="475.0" cy="33.6" r="0.76" fill="#4a4ab8" opacity="0.75" />
<circle cx="485.0" cy="49.4" r="0.81" fill="#2430a0" opacity="0.79" />
<circle cx="491.2" cy="43.0" r="0.59" fill="#3a50c0" opacity="0.57" />
<circle cx="502.7" cy="62.5" r="0.58" fill="#3040c8" opacity="0.81" />
<circle cx="491.7" cy="45.5" r="0.74" fill="#2430a0" opacity="0.52" />
<circle cx="499.9" cy="36.1" r="0.84" fill="#3a50c0" opacity="0.57" />
<circle cx="503.5" cy="45.9" r="0.96" fill="#2c3cb0" opacity="0.59" />
<circle cx="480.0" cy="45.2" r="0.86" fill="#2c3cb0" opacity="0.42" />
<circle cx="492.3" cy="39.5" r="0.89" fill="#4a4ab8" opacity="0.49" />
<circle cx="470.7" cy="52.8" r="0.80" fill="#2a3ab8" opacity="0.82" />
<circle cx="486.2" cy="27.6" r="0.73" fill="#3040c8" opacity="0.43" />
<circle cx="499.8" cy="47.8" r="0.59" fill="#2430a0" opacity="0.42" />
<circle cx="499.6" cy="40.0" r="0.73" fill="#2430a0" opacity="0.43" />
<circle cx="475.2" cy="71.9" r="0.68" fill="#2a3ab8" opacity="0.51" />
<circle cx="473.0" cy="70.7" r="0.55" fill="#2c3cb0" opacity="0.57" />
<circle cx="468.6" cy="49.2" r="0.62" fill="#3a50c0" opacity="0.50" />
<circle cx="466.3" cy="50.9" r="0.69" fill="#2c3cb0" opacity="0.84" />
<circle cx="482.2" cy="44.8" r="0.98" fill="#2c3cb0" opacity="0.45" />
<circle cx="499.5" cy="50.0" r="1.04" fill="#3040c8" opacity="0.43" />
<circle cx="477.6" cy="57.3" r="1.05" fill="#3040c8" opacity="0.46" />
<circle cx="485.7" cy="53.3" r="0.61" fill="#4a4ab8" opacity="0.41" />
<circle cx="465.5" cy="76.5" r="1.05" fill="#2c3cb0" opacity="0.46" />
<circle cx="474.2" cy="31.5" r="0.80" fill="#2a3ab8" opacity="0.68" />
<circle cx="485.0" cy="78.1" r="0.64" fill="#3a50c0" opacity="0.77" />
<circle cx="497.4" cy="39.2" r="0.72" fill="#2a3ab8" opacity="0.60" />
<circle cx="479.0" cy="50.1" r="0.62" fill="#2430a0" opacity="0.59" />
<circle cx="489.5" cy="78.4" r="1.01" fill="#2430a0" opacity="0.54" />
<circle cx="478.9" cy="83.3" r="0.99" fill="#2c3cb0" opacity="0.63" />
<circle cx="463.1" cy="55.7" r="0.58" fill="#3a50c0" opacity="0.85" />
<circle cx="492.8" cy="54.5" r="0.65" fill="#2a3ab8" opacity="0.78" />
<circle cx="479.0" cy="50.2" r="0.58" fill="#2a3ab8" opacity="0.66" />
<circle cx="479.1" cy="32.3" r="0.78" fill="#2a3ab8" opacity="0.46" />
<circle cx="479.6" cy="63.2" r="0.60" fill="#2a3ab8" opacity="0.77" />
<circle cx="482.7" cy="76.5" r="0.83" fill="#3040c8" opacity="0.77" />
<circle cx="499.3" cy="63.6" r="1.02" fill="#2c3cb0" opacity="0.68" />
<circle cx="474.4" cy="74.0" r="1.02" fill="#2c3cb0" opacity="0.43" />
<circle cx="466.6" cy="34.9" r="0.72" fill="#2c3cb0" opacity="0.49" />
<circle cx="456.8" cy="55.3" r="0.67" fill="#2c3cb0" opacity="0.49" />
<circle cx="503.0" cy="58.9" r="0.91" fill="#2c3cb0" opacity="0.53" />
<circle cx="494.9" cy="41.4" r="0.98" fill="#4a4ab8" opacity="0.50" />
<circle cx="485.6" cy="34.7" r="0.83" fill="#2a3ab8" opacity="0.52" />
<circle cx="489.1" cy="43.7" r="0.61" fill="#2a3ab8" opacity="0.66" />
<circle cx="464.4" cy="62.2" r="1.00" fill="#3a50c0" opacity="0.52" />
<circle cx="470.4" cy="78.8" r="0.96" fill="#4a4ab8" opacity="0.84" />
<circle cx="481.8" cy="80.6" r="0.86" fill="#2c3cb0" opacity="0.68" />
<circle cx="460.6" cy="57.5" r="0.69" fill="#4a4ab8" opacity="0.58" />
<circle cx="490.5" cy="39.8" r="0.61" fill="#3040c8" opacity="0.78" />
<circle cx="482.6" cy="55.4" r="0.85" fill="#2c3cb0" opacity="0.42" />
<circle cx="462.5" cy="68.8" r="0.85" fill="#2430a0" opacity="0.46" />
<circle cx="474.4" cy="76.6" r="1.02" fill="#2430a0" opacity="0.41" />
<circle cx="472.0" cy="78.7" r="0.79" fill="#2c3cb0" opacity="0.44" />
<circle cx="469.4" cy="39.0" r="0.65" fill="#3040c8" opacity="0.70" />
<circle cx="463.4" cy="64.7" r="0.84" fill="#4a4ab8" opacity="0.67" />
<circle cx="486.6" cy="53.7" r="0.86" fill="#2430a0" opacity="0.63" />
<circle cx="481.5" cy="55.7" r="0.69" fill="#2a3ab8" opacity="0.66" />
<circle cx="502.1" cy="64.1" r="0.82" fill="#3040c8" opacity="0.53" />
<circle cx="475.0" cy="49.1" r="0.92" fill="#4a4ab8" opacity="0.65" />
<circle cx="476.6" cy="32.0" r="0.80" fill="#2c3cb0" opacity="0.85" />
<circle cx="487.2" cy="48.0" r="0.59" fill="#2a3ab8" opacity="0.54" />
<circle cx="489.6" cy="76.6" r="0.66" fill="#3a50c0" opacity="0.85" />
<circle cx="477.0" cy="74.0" r="0.89" fill="#2430a0" opacity="0.70" />
<circle cx="486.8" cy="30.1" r="0.89" fill="#4a4ab8" opacity="0.42" />
<circle cx="477.7" cy="67.4" r="0.92" fill="#3a50c0" opacity="0.63" />
<circle cx="476.5" cy="33.2" r="0.99" fill="#3040c8" opacity="0.76" />
<circle cx="464.8" cy="55.8" r="0.66" fill="#2430a0" opacity="0.44" />
<circle cx="476.9" cy="61.8" r="0.78" fill="#3040c8" opacity="0.78" />
<circle cx="476.1" cy="40.4" r="0.94" fill="#2c3cb0" opacity="0.64" />
<circle cx="478.7" cy="56.9" r="0.95" fill="#2c3cb0" opacity="0.59" />
<circle cx="490.5" cy="45.8" r="0.81" fill="#2c3cb0" opacity="0.42" />
<circle cx="487.6" cy="54.2" r="0.69" fill="#3040c8" opacity="0.60" />
<circle cx="468.9" cy="36.1" r="0.73" fill="#2430a0" opacity="0.61" />
<circle cx="485.9" cy="63.0" r="1.02" fill="#3040c8" opacity="0.51" />
<circle cx="502.8" cy="59.9" r="0.72" fill="#2430a0" opacity="0.60" />
<circle cx="503.7" cy="57.1" r="1.05" fill="#2c3cb0" opacity="0.79" />
<circle cx="466.2" cy="74.4" r="0.77" fill="#3a50c0" opacity="0.59" />
<circle cx="479.6" cy="37.8" r="0.63" fill="#3040c8" opacity="0.44" />
<circle cx="465.1" cy="51.6" r="0.97" fill="#2a3ab8" opacity="0.83" />
<circle cx="470.7" cy="63.8" r="0.75" fill="#3a50c0" opacity="0.62" />
<circle cx="501.5" cy="65.9" r="0.98" fill="#2c3cb0" opacity="0.45" />
<circle cx="457.5" cy="56.8" r="0.79" fill="#2430a0" opacity="0.62" />
<circle cx="482.2" cy="36.1" r="0.80" fill="#3a50c0" opacity="0.52" />
<circle cx="488.1" cy="30.3" r="0.67" fill="#3040c8" opacity="0.55" />
<circle cx="479.0" cy="29.7" r="0.56" fill="#2c3cb0" opacity="0.52" />
<circle cx="468.3" cy="51.2" r="0.65" fill="#4a4ab8" opacity="0.48" />
<circle cx="459.6" cy="59.9" r="0.60" fill="#2a3ab8" opacity="0.45" />
<circle cx="496.7" cy="74.1" r="0.84" fill="#2430a0" opacity="0.47" />
<circle cx="486.8" cy="51.6" r="0.82" fill="#4a4ab8" opacity="0.74" />
<circle cx="476.9" cy="55.3" r="0.56" fill="#2a3ab8" opacity="0.79" />
<circle cx="488.5" cy="40.2" r="0.55" fill="#2430a0" opacity="0.59" />
<circle cx="476.0" cy="69.6" r="0.80" fill="#3a50c0" opacity="0.52" />
<circle cx="473.7" cy="69.5" r="0.71" fill="#3a50c0" opacity="0.54" />
<circle cx="482.9" cy="45.6" r="0.75" fill="#2430a0" opacity="0.40" />
<circle cx="479.5" cy="54.6" r="0.62" fill="#4a4ab8" opacity="0.66" />
<circle cx="471.7" cy="54.0" r="0.91" fill="#2c3cb0" opacity="0.59" />
<circle cx="493.6" cy="58.9" r="0.60" fill="#3a50c0" opacity="0.67" />
<circle cx="493.2" cy="51.5" r="0.85" fill="#2a3ab8" opacity="0.73" />
<circle cx="463.1" cy="59.4" r="0.61" fill="#3040c8" opacity="0.78" />
<circle cx="495.4" cy="34.1" r="0.83" fill="#2430a0" opacity="0.57" />
<circle cx="492.0" cy="28.1" r="0.93" fill="#2a3ab8" opacity="0.60" />
<circle cx="457.6" cy="51.1" r="0.95" fill="#3a50c0" opacity="0.63" />
<circle cx="493.9" cy="62.2" r="0.81" fill="#3040c8" opacity="0.50" />
<circle cx="495.1" cy="43.2" r="0.94" fill="#3a50c0" opacity="0.61" />
<circle cx="486.4" cy="58.7" r="0.87" fill="#3a50c0" opacity="0.61" />
<circle cx="497.3" cy="48.2" r="0.65" fill="#2a3ab8" opacity="0.77" />
<circle cx="491.8" cy="67.1" r="0.83" fill="#3040c8" opacity="0.66" />
<circle cx="461.8" cy="38.5" r="0.87" fill="#3040c8" opacity="0.65" />
<circle cx="486.2" cy="50.5" r="0.67" fill="#2430a0" opacity="0.81" />
<circle cx="478.9" cy="54.2" r="0.58" fill="#2c3cb0" opacity="0.68" />
<circle cx="490.4" cy="71.6" r="0.95" fill="#4a4ab8" opacity="0.66" />
<circle cx="474.6" cy="63.9" r="0.81" fill="#2430a0" opacity="0.54" />
<circle cx="496.8" cy="51.3" r="0.83" fill="#2c3cb0" opacity="0.59" />
<circle cx="467.5" cy="71.0" r="0.88" fill="#2c3cb0" opacity="0.83" />
<circle cx="467.2" cy="78.7" r="0.89" fill="#2c3cb0" opacity="0.78" />
<circle cx="465.2" cy="52.1" r="0.60" fill="#3a50c0" opacity="0.50" />
<circle cx="470.6" cy="67.1" r="0.88" fill="#3040c8" opacity="0.60" />
<circle cx="484.0" cy="64.0" r="0.84" fill="#3a50c0" opacity="0.82" />
<circle cx="490.5" cy="59.5" r="0.99" fill="#3040c8" opacity="0.63" />
<circle cx="499.1" cy="48.6" r="0.80" fill="#2430a0" opacity="0.61" />
<circle cx="464.3" cy="67.6" r="0.86" fill="#2c3cb0" opacity="0.65" />
<circle cx="469.1" cy="50.6" r="0.78" fill="#2430a0" opacity="0.65" />
<circle cx="474.6" cy="68.2" r="0.65" fill="#3a50c0" opacity="0.41" />
<circle cx="479.7" cy="68.3" r="0.75" fill="#3040c8" opacity="0.67" />
<circle cx="489.8" cy="42.4" r="1.00" fill="#2430a0" opacity="0.73" />
<circle cx="493.0" cy="37.3" r="0.77" fill="#3a50c0" opacity="0.48" />
<circle cx="494.4" cy="35.1" r="0.74" fill="#3a50c0" opacity="0.51" />
<circle cx="473.3" cy="37.4" r="0.63" fill="#4a4ab8" opacity="0.44" />
<circle cx="495.8" cy="47.3" r="0.91" fill="#3a50c0" opacity="0.82" />
<circle cx="469.9" cy="28.5" r="0.80" fill="#2430a0" opacity="0.81" />
<circle cx="501.7" cy="51.7" r="0.85" fill="#2a3ab8" opacity="0.41" />
<circle cx="484.5" cy="48.5" r="0.73" fill="#3a50c0" opacity="0.43" />
<circle cx="477.0" cy="52.6" r="0.97" fill="#4a4ab8" opacity="0.44" />
<circle cx="502.7" cy="46.2" r="0.89" fill="#3040c8" opacity="0.59" />
<circle cx="502.6" cy="54.0" r="0.69" fill="#2430a0" opacity="0.78" />
<circle cx="474.0" cy="42.4" r="0.58" fill="#4a4ab8" opacity="0.70" />
<circle cx="470.5" cy="66.1" r="0.80" fill="#4a4ab8" opacity="0.72" />
<circle cx="495.9" cy="63.6" r="0.86" fill="#3a50c0" opacity="0.54" />
<circle cx="467.2" cy="39.2" r="0.61" fill="#2a3ab8" opacity="0.71" />
<circle cx="489.1" cy="80.6" r="0.89" fill="#4a4ab8" opacity="0.62" />
<circle cx="480.6" cy="64.7" r="0.63" fill="#3a50c0" opacity="0.75" />
<circle cx="480.6" cy="55.4" r="0.74" fill="#2a3ab8" opacity="0.71" />
<circle cx="501.2" cy="66.3" r="0.81" fill="#3040c8" opacity="0.72" />
<circle cx="475.5" cy="74.3" r="0.68" fill="#3a50c0" opacity="0.64" />
<circle cx="490.7" cy="61.6" r="0.79" fill="#3040c8" opacity="0.82" />
<circle cx="486.2" cy="25.0" r="0.84" fill="#3a50c0" opacity="0.62" />
<circle cx="468.0" cy="69.3" r="0.81" fill="#2430a0" opacity="0.55" />
<circle cx="480.1" cy="45.8" r="0.90" fill="#3a50c0" opacity="0.83" />
<circle cx="498.1" cy="59.2" r="1.02" fill="#2c3cb0" opacity="0.76" />
<circle cx="497.8" cy="61.2" r="0.95" fill="#4a4ab8" opacity="0.58" />
<circle cx="489.1" cy="45.7" r="0.88" fill="#3040c8" opacity="0.77" />
<circle cx="482.2" cy="38.1" r="0.97" fill="#4a4ab8" opacity="0.51" />
<circle cx="493.5" cy="35.6" r="0.79" fill="#2c3cb0" opacity="0.55" />
<circle cx="481.1" cy="54.8" r="0.92" fill="#3a50c0" opacity="0.58" />
<circle cx="480.9" cy="40.2" r="0.83" fill="#4a4ab8" opacity="0.47" />
<circle cx="459.7" cy="58.1" r="0.78" fill="#4a4ab8" opacity="0.42" />
<circle cx="492.8" cy="73.0" r="0.69" fill="#2a3ab8" opacity="0.59" />
<circle cx="467.8" cy="33.9" r="0.95" fill="#2c3cb0" opacity="0.83" />
<circle cx="495.1" cy="68.8" r="0.75" fill="#3040c8" opacity="0.61" />
<circle cx="467.3" cy="34.6" r="0.78" fill="#3a50c0" opacity="0.48" />
<circle cx="486.0" cy="64.9" r="0.68" fill="#4a4ab8" opacity="0.59" />
<circle cx="474.9" cy="79.1" r="0.87" fill="#3a50c0" opacity="0.83" />
<circle cx="487.4" cy="73.6" r="1.03" fill="#2430a0" opacity="0.73" />
<circle cx="491.4" cy="61.6" r="0.61" fill="#4a4ab8" opacity="0.53" />
<circle cx="463.2" cy="66.8" r="1.04" fill="#4a4ab8" opacity="0.73" />
<circle cx="473.4" cy="74.4" r="0.86" fill="#3040c8" opacity="0.52" />
<circle cx="490.2" cy="77.4" r="0.74" fill="#3040c8" opacity="0.58" />
<circle cx="476.8" cy="73.7" r="1.02" fill="#2a3ab8" opacity="0.73" />
<circle cx="476.9" cy="36.7" r="0.77" fill="#3040c8" opacity="0.43" />
<circle cx="499.4" cy="60.7" r="0.59" fill="#4a4ab8" opacity="0.74" />
<circle cx="480.7" cy="75.1" r="0.77" fill="#3a50c0" opacity="0.84" />
<circle cx="479.1" cy="50.5" r="0.87" fill="#2430a0" opacity="0.66" />
<circle cx="503.4" cy="43.4" r="1.00" fill="#2430a0" opacity="0.75" />
<circle cx="471.2" cy="50.4" r="1.01" fill="#4a4ab8" opacity="0.65" />
<circle cx="489.0" cy="70.9" r="0.63" fill="#4a4ab8" opacity="0.72" />
<circle cx="474.0" cy="27.8" r="1.02" fill="#4a4ab8" opacity="0.74" />
<circle cx="494.1" cy="73.3" r="0.58" fill="#2430a0" opacity="0.83" />
<circle cx="458.1" cy="49.5" r="0.98" fill="#4a4ab8" opacity="0.41" />
<circle cx="481.9" cy="27.0" r="0.56" fill="#2c3cb0" opacity="0.68" />
<circle cx="478.3" cy="83.4" r="0.79" fill="#3a50c0" opacity="0.64" />
<circle cx="473.5" cy="36.2" r="0.63" fill="#3a50c0" opacity="0.52" />
<circle cx="475.4" cy="83.0" r="1.04" fill="#3040c8" opacity="0.67" />
<circle cx="467.0" cy="67.0" r="0.65" fill="#2c3cb0" opacity="0.63" />
<circle cx="473.5" cy="60.9" r="0.86" fill="#2430a0" opacity="0.76" />
<circle cx="475.7" cy="39.2" r="0.86" fill="#3040c8" opacity="0.84" />
<circle cx="498.9" cy="67.1" r="1.03" fill="#2c3cb0" opacity="0.76" />
<circle cx="483.3" cy="44.7" r="0.71" fill="#2a3ab8" opacity="0.51" />
<circle cx="476.3" cy="42.7" r="0.84" fill="#3a50c0" opacity="0.84" />
<circle cx="472.5" cy="69.5" r="0.78" fill="#2a3ab8" opacity="0.53" />
<circle cx="461.2" cy="38.3" r="1.03" fill="#2430a0" opacity="0.44" />
<circle cx="485.0" cy="62.4" r="0.92" fill="#3a50c0" opacity="0.75" />
<circle cx="485.4" cy="29.9" r="0.94" fill="#2c3cb0" opacity="0.43" />
<circle cx="467.1" cy="50.7" r="0.98" fill="#2c3cb0" opacity="0.46" />
<circle cx="461.2" cy="47.2" r="0.69" fill="#2c3cb0" opacity="0.42" />
<circle cx="496.0" cy="33.1" r="0.60" fill="#3a50c0" opacity="0.50" />
<circle cx="484.3" cy="59.7" r="0.75" fill="#2430a0" opacity="0.75" />
<circle cx="479.6" cy="80.7" r="0.56" fill="#3a50c0" opacity="0.77" />
<circle cx="461.0" cy="46.6" r="0.73" fill="#2c3cb0" opacity="0.68" />
<circle cx="466.4" cy="49.5" r="0.56" fill="#2c3cb0" opacity="0.56" />
<circle cx="472.6" cy="46.7" r="0.90" fill="#2c3cb0" opacity="0.50" />
<circle cx="486.0" cy="43.4" r="0.90" fill="#2a3ab8" opacity="0.62" />
<circle cx="488.1" cy="33.5" r="0.75" fill="#4a4ab8" opacity="0.42" />
<circle cx="487.9" cy="50.9" r="0.90" fill="#2a3ab8" opacity="0.69" />
<circle cx="464.4" cy="58.5" r="0.79" fill="#2c3cb0" opacity="0.51" />
<circle cx="486.1" cy="59.3" r="0.55" fill="#3040c8" opacity="0.51" />
<circle cx="495.5" cy="74.7" r="0.98" fill="#3040c8" opacity="0.76" />
<circle cx="488.6" cy="58.8" r="0.80" fill="#2430a0" opacity="0.65" />
<circle cx="470.0" cy="36.7" r="0.59" fill="#2a3ab8" opacity="0.53" />
<circle cx="477.7" cy="62.5" r="0.62" fill="#2430a0" opacity="0.47" />
<circle cx="501.6" cy="64.5" r="0.55" fill="#3a50c0" opacity="0.59" />
<circle cx="463.1" cy="67.9" r="0.97" fill="#3a50c0" opacity="0.41" />
<circle cx="478.2" cy="52.6" r="0.67" fill="#3a50c0" opacity="0.80" />
<circle cx="478.0" cy="71.9" r="0.73" fill="#2430a0" opacity="0.75" />
<circle cx="471.5" cy="67.3" r="0.73" fill="#3040c8" opacity="0.77" />
<circle cx="478.8" cy="41.2" r="0.57" fill="#3a50c0" opacity="0.62" />
<circle cx="494.4" cy="61.9" r="1.00" fill="#4a4ab8" opacity="0.57" />
<circle cx="483.2" cy="24.7" r="0.79" fill="#2c3cb0" opacity="0.77" />
<circle cx="501.1" cy="54.3" r="0.73" fill="#2c3cb0" opacity="0.54" />
<circle cx="465.8" cy="52.0" r="0.71" fill="#4a4ab8" opacity="0.56" />
<circle cx="481.8" cy="43.3" r="0.64" fill="#3a50c0" opacity="0.62" />
<circle cx="492.3" cy="46.4" r="1.02" fill="#3a50c0" opacity="0.84" />
<circle cx="460.1" cy="58.2" r="0.86" fill="#2c3cb0" opacity="0.47" />
<circle cx="488.6" cy="40.7" r="0.90" fill="#3a50c0" opacity="0.52" />
<circle cx="497.4" cy="54.7" r="1.02" fill="#2a3ab8" opacity="0.84" />
<circle cx="459.5" cy="43.6" r="0.85" fill="#3040c8" opacity="0.67" />
<circle cx="464.1" cy="74.5" r="0.88" fill="#4a4ab8" opacity="0.44" />
<circle cx="483.8" cy="69.8" r="0.70" fill="#2430a0" opacity="0.54" />
<circle cx="466.7" cy="32.3" r="0.81" fill="#4a4ab8" opacity="0.54" />
<circle cx="469.7" cy="53.6" r="0.93" fill="#2430a0" opacity="0.45" />
<circle cx="467.0" cy="37.5" r="0.84" fill="#2430a0" opacity="0.57" />
<circle cx="460.5" cy="44.3" r="0.78" fill="#3040c8" opacity="0.46" />
<circle cx="477.1" cy="82.6" r="0.73" fill="#2c3cb0" opacity="0.70" />
<circle cx="458.8" cy="66.0" r="0.82" fill="#2c3cb0" opacity="0.73" />
<circle cx="473.1" cy="52.5" r="1.02" fill="#2a3ab8" opacity="0.63" />
<circle cx="497.0" cy="59.0" r="1.05" fill="#2a3ab8" opacity="0.76" />
<circle cx="482.2" cy="63.9" r="0.58" fill="#3040c8" opacity="0.44" />
<circle cx="470.4" cy="63.9" r="0.99" fill="#2a3ab8" opacity="0.54" />
<circle cx="477.8" cy="43.5" r="0.64" fill="#2a3ab8" opacity="0.40" />
<circle cx="479.5" cy="65.9" r="0.64" fill="#2c3cb0" opacity="0.78" />
<circle cx="499.7" cy="35.8" r="0.89" fill="#3040c8" opacity="0.60" />
<circle cx="460.3" cy="54.8" r="0.66" fill="#4a4ab8" opacity="0.78" />
<circle cx="488.1" cy="50.2" r="0.84" fill="#2a3ab8" opacity="0.52" />
<circle cx="485.2" cy="27.8" r="0.94" fill="#4a4ab8" opacity="0.85" />
<circle cx="460.1" cy="52.8" r="0.58" fill="#3a50c0" opacity="0.64" />
<circle cx="475.0" cy="74.6" r="0.75" fill="#2430a0" opacity="0.63" />
<circle cx="465.7" cy="69.3" r="0.57" fill="#2a3ab8" opacity="0.49" />
<circle cx="473.9" cy="73.5" r="0.77" fill="#3040c8" opacity="0.61" />
<circle cx="486.4" cy="40.0" r="0.75" fill="#4a4ab8" opacity="0.51" />
<circle cx="493.4" cy="38.3" r="0.60" fill="#2a3ab8" opacity="0.55" />
<circle cx="465.5" cy="56.5" r="0.57" fill="#3040c8" opacity="0.78" />
<circle cx="486.9" cy="70.6" r="0.63" fill="#2a3ab8" opacity="0.46" />
<circle cx="467.2" cy="40.8" r="0.80" fill="#3040c8" opacity="0.78" />
<circle cx="481.2" cy="24.2" r="0.73" fill="#3040c8" opacity="0.41" />
<circle cx="484.6" cy="49.2" r="0.58" fill="#2c3cb0" opacity="0.78" />
<circle cx="462.6" cy="47.8" r="0.66" fill="#3040c8" opacity="0.44" />
<circle cx="464.2" cy="40.7" r="0.93" fill="#2a3ab8" opacity="0.84" />
<circle cx="501.5" cy="65.2" r="0.66" fill="#2a3ab8" opacity="0.58" />
<circle cx="463.8" cy="38.2" r="0.64" fill="#4a4ab8" opacity="0.77" />
<circle cx="489.7" cy="27.3" r="0.65" fill="#4a4ab8" opacity="0.73" />
<circle cx="502.9" cy="44.9" r="0.94" fill="#2c3cb0" opacity="0.62" />
<circle cx="488.0" cy="39.8" r="1.01" fill="#4a4ab8" opacity="0.54" />
<circle cx="459.8" cy="45.1" r="0.55" fill="#3a50c0" opacity="0.77" />
<circle cx="483.2" cy="27.8" r="0.68" fill="#2430a0" opacity="0.80" />
<circle cx="472.2" cy="80.8" r="0.86" fill="#2c3cb0" opacity="0.57" />
<circle cx="481.1" cy="68.9" r="0.75" fill="#2430a0" opacity="0.71" />
<circle cx="479.5" cy="71.8" r="0.68" fill="#3040c8" opacity="0.56" />
<circle cx="487.2" cy="36.5" r="0.79" fill="#4a4ab8" opacity="0.83" />
<circle cx="471.2" cy="70.3" r="0.91" fill="#2c3cb0" opacity="0.66" />
<circle cx="490.5" cy="47.6" r="0.73" fill="#3040c8" opacity="0.83" />
<circle cx="459.4" cy="55.3" r="0.90" fill="#3040c8" opacity="0.47" />
<circle cx="462.5" cy="39.2" r="0.68" fill="#2430a0" opacity="0.66" />
<circle cx="463.0" cy="47.7" r="0.74" fill="#2430a0" opacity="0.68" />
<circle cx="501.3" cy="38.4" r="0.75" fill="#2430a0" opacity="0.69" />
<circle cx="489.2" cy="60.3" r="0.84" fill="#3040c8" opacity="0.78" />
<circle cx="495.2" cy="31.3" r="0.75" fill="#3a50c0" opacity="0.74" />
<circle cx="477.2" cy="27.9" r="0.61" fill="#3040c8" opacity="0.60" />
<circle cx="461.9" cy="41.4" r="0.95" fill="#3040c8" opacity="0.63" />
<circle cx="472.9" cy="77.5" r="0.58" fill="#3040c8" opacity="0.61" />
<circle cx="491.9" cy="74.3" r="0.59" fill="#4a4ab8" opacity="0.53" />
<circle cx="496.2" cy="31.7" r="0.83" fill="#4a4ab8" opacity="0.81" />
<circle cx="491.0" cy="40.1" r="0.91" fill="#2c3cb0" opacity="0.45" />
<circle cx="471.3" cy="56.4" r="0.86" fill="#3a50c0" opacity="0.69" />
<circle cx="471.2" cy="81.7" r="1.00" fill="#3040c8" opacity="0.65" />
<circle cx="489.8" cy="53.4" r="0.70" fill="#2c3cb0" opacity="0.79" />
<circle cx="499.0" cy="42.6" r="0.74" fill="#3a50c0" opacity="0.82" />
<circle cx="486.1" cy="62.7" r="0.72" fill="#2a3ab8" opacity="0.83" />
<circle cx="458.9" cy="57.0" r="1.02" fill="#2430a0" opacity="0.68" />
<circle cx="469.9" cy="28.3" r="0.73" fill="#3a50c0" opacity="0.69" />
<circle cx="485.7" cy="80.2" r="0.62" fill="#2430a0" opacity="0.51" />
<circle cx="470.2" cy="80.9" r="0.56" fill="#4a4ab8" opacity="0.56" />
<circle cx="483.1" cy="66.3" r="0.79" fill="#2c3cb0" opacity="0.57" />
<circle cx="465.9" cy="72.6" r="1.01" fill="#4a4ab8" opacity="0.55" />
<circle cx="476.9" cy="77.0" r="0.80" fill="#2c3cb0" opacity="0.70" />
<circle cx="494.4" cy="38.2" r="0.81" fill="#2a3ab8" opacity="0.76" />
<circle cx="492.3" cy="75.6" r="0.78" fill="#2a3ab8" opacity="0.56" />
<circle cx="481.7" cy="37.1" r="0.59" fill="#2a3ab8" opacity="0.40" />
<circle cx="466.3" cy="60.5" r="0.93" fill="#2c3cb0" opacity="0.49" />
<circle cx="462.6" cy="60.5" r="1.03" fill="#2c3cb0" opacity="0.78" />
<circle cx="469.9" cy="66.7" r="1.02" fill="#2a3ab8" opacity="0.84" />
<circle cx="490.6" cy="72.8" r="0.90" fill="#3a50c0" opacity="0.74" />
<circle cx="504.0" cy="53.7" r="0.57" fill="#3040c8" opacity="0.60" />
<circle cx="496.4" cy="68.9" r="0.79" fill="#3a50c0" opacity="0.74" />
<circle cx="465.7" cy="64.1" r="0.98" fill="#2a3ab8" opacity="0.60" />
<circle cx="489.6" cy="37.5" r="0.86" fill="#3040c8" opacity="0.76" />
<circle cx="484.2" cy="79.4" r="0.61" fill="#2430a0" opacity="0.79" />
<circle cx="480.8" cy="69.1" r="0.76" fill="#2a3ab8" opacity="0.79" />
<circle cx="479.9" cy="68.4" r="0.96" fill="#2c3cb0" opacity="0.72" />
<circle cx="471.0" cy="33.6" r="0.96" fill="#2430a0" opacity="0.47" />
<circle cx="462.8" cy="61.1" r="0.86" fill="#3040c8" opacity="0.62" />
<circle cx="502.9" cy="56.8" r="0.87" fill="#2a3ab8" opacity="0.45" />
<circle cx="489.6" cy="58.3" r="1.01" fill="#3a50c0" opacity="0.69" />
<circle cx="460.9" cy="58.3" r="0.86" fill="#2a3ab8" opacity="0.41" />
<circle cx="471.3" cy="58.2" r="0.76" fill="#2a3ab8" opacity="0.65" />
<circle cx="476.8" cy="72.3" r="0.72" fill="#3a50c0" opacity="0.47" />
<circle cx="465.0" cy="71.0" r="0.56" fill="#2a3ab8" opacity="0.61" />
<circle cx="461.1" cy="58.6" r="0.61" fill="#3040c8" opacity="0.51" />
<circle cx="493.2" cy="47.1" r="0.93" fill="#4a4ab8" opacity="0.69" />
<circle cx="460.2" cy="58.7" r="0.89" fill="#2430a0" opacity="0.65" />
<circle cx="490.4" cy="49.5" r="0.81" fill="#2a3ab8" opacity="0.71" />
<circle cx="468.9" cy="30.4" r="0.69" fill="#3a50c0" opacity="0.67" />
<circle cx="479.8" cy="51.2" r="1.00" fill="#3040c8" opacity="0.74" />
<circle cx="476.8" cy="80.9" r="0.80" fill="#4a4ab8" opacity="0.78" />
<circle cx="494.5" cy="76.6" r="0.98" fill="#3040c8" opacity="0.59" />
<circle cx="486.8" cy="71.5" r="0.65" fill="#2430a0" opacity="0.41" />
<circle cx="479.6" cy="81.9" r="0.68" fill="#2430a0" opacity="0.83" />
<circle cx="490.9" cy="77.2" r="0.80" fill="#3040c8" opacity="0.60" />
<circle cx="478.5" cy="53.0" r="0.56" fill="#3a50c0" opacity="0.58" />
<circle cx="476.1" cy="28.6" r="0.72" fill="#4a4ab8" opacity="0.71" />
<circle cx="482.0" cy="48.7" r="0.80" fill="#3a50c0" opacity="0.63" />
<circle cx="466.1" cy="54.3" r="0.97" fill="#3040c8" opacity="0.61" />
<circle cx="491.0" cy="62.6" r="0.80" fill="#2a3ab8" opacity="0.67" />
<circle cx="476.8" cy="65.9" r="0.76" fill="#2a3ab8" opacity="0.52" />
<circle cx="497.4" cy="59.2" r="1.04" fill="#2a3ab8" opacity="0.53" />
<circle cx="479.8" cy="56.9" r="0.62" fill="#2c3cb0" opacity="0.61" />
<circle cx="481.8" cy="62.0" r="0.87" fill="#4a4ab8" opacity="0.81" />
<circle cx="478.9" cy="78.6" r="0.98" fill="#3a50c0" opacity="0.67" />
<circle cx="482.8" cy="41.6" r="0.63" fill="#3a50c0" opacity="0.55" />
<circle cx="474.2" cy="34.4" r="1.04" fill="#2c3cb0" opacity="0.54" />
<circle cx="485.2" cy="45.3" r="0.93" fill="#3040c8" opacity="0.75" />
<circle cx="497.8" cy="56.2" r="0.83" fill="#2430a0" opacity="0.59" />
<circle cx="489.7" cy="55.6" r="0.87" fill="#2430a0" opacity="0.80" />
<circle cx="480.5" cy="47.2" r="0.91" fill="#4a4ab8" opacity="0.44" />
<circle cx="480.1" cy="67.6" r="0.76" fill="#2a3ab8" opacity="0.48" />
<circle cx="473.0" cy="37.9" r="0.69" fill="#2c3cb0" opacity="0.74" />
<circle cx="478.3" cy="25.7" r="0.82" fill="#3040c8" opacity="0.58" />
<circle cx="475.8" cy="62.5" r="0.65" fill="#2c3cb0" opacity="0.81" />
<circle cx="498.1" cy="42.5" r="0.55" fill="#40b8b0" opacity="0.64" />
<circle cx="467.7" cy="57.7" r="0.71" fill="#38b0a0" opacity="0.75" />
<circle cx="489.4" cy="66.4" r="0.78" fill="#40b8b0" opacity="0.62" />
<circle cx="472.0" cy="52.2" r="0.53" fill="#2fa0a8" opacity="0.77" />
<circle cx="472.6" cy="52.5" r="0.69" fill="#38b0a0" opacity="0.56" />
<circle cx="470.2" cy="59.3" r="0.64" fill="#2a90b0" opacity="0.69" />
<circle cx="491.4" cy="64.3" r="0.61" fill="#2fa0a8" opacity="0.60" />
<circle cx="491.0" cy="33.5" r="0.71" fill="#2a90b0" opacity="0.59" />
<circle cx="492.1" cy="62.5" r="0.81" fill="#38b0a0" opacity="0.70" />
<circle cx="478.3" cy="39.5" r="0.64" fill="#38b0a0" opacity="0.65" />
<circle cx="482.4" cy="48.3" r="0.62" fill="#40b8b0" opacity="0.85" />
<circle cx="464.6" cy="44.2" r="0.55" fill="#38b0a0" opacity="0.80" />
<circle cx="480.7" cy="39.5" r="0.88" fill="#2fa0a8" opacity="0.65" />
<circle cx="467.1" cy="60.3" r="0.73" fill="#2fa0a8" opacity="0.74" />
<circle cx="467.1" cy="48.6" r="0.55" fill="#40b8b0" opacity="0.84" />
<circle cx="477.8" cy="62.0" r="0.65" fill="#40b8b0" opacity="0.70" />
<circle cx="474.9" cy="63.1" r="0.84" fill="#40b8b0" opacity="0.81" />
<circle cx="474.5" cy="35.5" r="0.55" fill="#2fa0a8" opacity="0.64" />
<circle cx="481.9" cy="29.6" r="0.86" fill="#38b0a0" opacity="0.81" />
<circle cx="463.1" cy="51.6" r="0.62" fill="#40b8b0" opacity="0.67" />
<circle cx="463.8" cy="64.1" r="0.58" fill="#2a90b0" opacity="0.63" />
<circle cx="477.5" cy="64.9" r="0.86" fill="#2a90b0" opacity="0.70" />
<circle cx="472.9" cy="42.6" r="0.71" fill="#2fa0a8" opacity="0.87" />
<circle cx="483.1" cy="53.1" r="0.68" fill="#38b0a0" opacity="0.65" />
<circle cx="469.1" cy="64.4" r="0.80" fill="#2a90b0" opacity="0.75" />
<circle cx="477.7" cy="32.8" r="0.84" fill="#2a90b0" opacity="0.82" />
<circle cx="470.5" cy="72.9" r="0.75" fill="#38b0a0" opacity="0.69" />
<circle cx="469.8" cy="70.2" r="0.75" fill="#2a90b0" opacity="0.62" />
<circle cx="469.4" cy="66.1" r="0.76" fill="#38b0a0" opacity="0.74" />
<circle cx="465.2" cy="63.6" r="0.86" fill="#38b0a0" opacity="0.72" />
<circle cx="481.4" cy="49.4" r="0.73" fill="#40b8b0" opacity="0.74" />
<circle cx="490.0" cy="53.6" r="0.85" fill="#2a90b0" opacity="0.54" />
<circle cx="489.8" cy="63.0" r="0.77" fill="#38b0a0" opacity="0.71" />
<circle cx="477.1" cy="58.5" r="0.61" fill="#2a90b0" opacity="0.69" />
<circle cx="494.5" cy="43.8" r="0.86" fill="#2a90b0" opacity="0.67" />
<circle cx="496.7" cy="59.4" r="0.71" fill="#2a90b0" opacity="0.69" />
<circle cx="493.6" cy="69.1" r="0.61" fill="#2fa0a8" opacity="0.82" />
<circle cx="475.5" cy="58.0" r="0.62" fill="#2a90b0" opacity="0.76" />
<circle cx="491.9" cy="44.9" r="0.51" fill="#40b8b0" opacity="0.87" />
<circle cx="493.6" cy="65.3" r="0.61" fill="#2a90b0" opacity="0.71" />
<circle cx="466.0" cy="53.3" r="0.63" fill="#38b0a0" opacity="0.84" />
<circle cx="470.8" cy="56.2" r="0.73" fill="#2fa0a8" opacity="0.69" />
<circle cx="477.7" cy="48.9" r="0.89" fill="#40b8b0" opacity="0.71" />
<circle cx="488.1" cy="43.0" r="0.65" fill="#2fa0a8" opacity="0.90" />
<circle cx="484.5" cy="68.3" r="0.79" fill="#2a90b0" opacity="0.56" />
<circle cx="492.9" cy="50.8" r="0.88" fill="#38b0a0" opacity="0.73" />
<circle cx="487.2" cy="67.6" r="0.67" fill="#38b0a0" opacity="0.58" />
<circle cx="493.7" cy="57.7" r="0.51" fill="#40b8b0" opacity="0.89" />
<circle cx="489.2" cy="58.7" r="0.52" fill="#2fa0a8" opacity="0.50" />
<circle cx="498.6" cy="44.6" r="0.76" fill="#38b0a0" opacity="0.72" />
<circle cx="467.8" cy="39.4" r="0.62" fill="#a04080" opacity="0.74" />
<circle cx="495.0" cy="47.8" r="0.67" fill="#8a3a90" opacity="0.70" />
<circle cx="472.8" cy="67.5" r="0.51" fill="#b04870" opacity="0.55" />
<circle cx="482.6" cy="51.6" r="0.44" fill="#a04080" opacity="0.60" />
<circle cx="487.8" cy="32.8" r="0.69" fill="#8a3a90" opacity="0.73" />
<circle cx="475.8" cy="36.6" r="0.55" fill="#b04870" opacity="0.57" />
<circle cx="465.0" cy="69.2" r="0.58" fill="#8a3a90" opacity="0.67" />
<circle cx="489.5" cy="58.0" r="0.63" fill="#8a3a90" opacity="0.66" />
<circle cx="492.3" cy="71.6" r="0.53" fill="#b04870" opacity="0.52" />
<circle cx="462.8" cy="47.7" r="0.51" fill="#8a3a90" opacity="0.51" />
<circle cx="493.9" cy="48.7" r="0.47" fill="#8a3a90" opacity="0.61" />
<circle cx="488.6" cy="64.0" r="0.66" fill="#8a3a90" opacity="0.72" />
<circle cx="491.7" cy="47.6" r="0.55" fill="#b04870" opacity="0.79" />
<circle cx="486.8" cy="72.9" r="0.46" fill="#b04870" opacity="0.77" />
<circle cx="476.5" cy="69.2" r="0.56" fill="#b04870" opacity="0.62" />
<circle cx="468.0" cy="67.7" r="0.45" fill="#b04870" opacity="0.53" />
<circle cx="492.1" cy="66.8" r="0.61" fill="#b04870" opacity="0.62" />
<circle cx="493.1" cy="70.0" r="0.44" fill="#b04870" opacity="0.62" />
<circle cx="488.2" cy="65.0" r="0.55" fill="#b04870" opacity="0.65" />
<circle cx="466.1" cy="53.1" r="0.63" fill="#a04080" opacity="0.77" />
<circle cx="463.9" cy="63.6" r="0.50" fill="#8a3a90" opacity="0.61" />
<circle cx="474.0" cy="63.1" r="0.57" fill="#b04870" opacity="0.71" />
<circle cx="493.5" cy="69.7" r="0.69" fill="#a04080" opacity="0.72" />
<circle cx="486.6" cy="64.3" r="0.67" fill="#a04080" opacity="0.55" />
<circle cx="495.3" cy="63.0" r="0.69" fill="#8a3a90" opacity="0.52" />
<circle cx="483.0" cy="71.3" r="1.30" fill="#48c8b0" opacity="0.90" />
<circle cx="484.7" cy="72.4" r="1.00" fill="#48c8b0" opacity="0.90" />
<circle cx="483.8" cy="41.4" r="1.10" fill="#48c8b0" opacity="0.90" />
<circle cx="477.2" cy="55.5" r="1.00" fill="#48c8b0" opacity="0.90" />
<circle cx="487.5" cy="52.5" r="0.90" fill="#48c8b0" opacity="0.90" />
<circle cx="481.3" cy="68.8" r="0.90" fill="#48c8b0" opacity="0.90" />
<circle cx="488.8" cy="43.9" r="0.90" fill="#48c8b0" opacity="0.90" />
</g></g>
<circle cx="476.4" cy="62.0" r="2.0" fill="#f02838" filter="url(#b1)"/>
<circle cx="478.0" cy="59.8" r="1.0" fill="#e02838" filter="url(#b1)"/>
<rect x="501.30" y="81.20" width="10.00" height="1.60" fill="#fff" />
</g>
<rect x="382.80" y="89.90" width="65.30" height="67.50" fill="#040307" />
<g clip-path="url(#cdbl)"><g filter="url(#b1)">
</g><g filter="url(#b2)">
<ellipse cx="415.0" cy="102.6" rx="4.6" ry="5.0" fill="#3c1c58" opacity="0.4"/>
<ellipse cx="417.5" cy="100.5" rx="2.5" ry="2.5" fill="#5a2a70" opacity="0.6"/>
<ellipse cx="432.6" cy="95.6" rx="3.6" ry="3.4" fill="#4a2266" opacity="0.4"/>
<ellipse cx="400.6" cy="130.6" rx="3.6" ry="2.2" fill="#5a2c84" opacity="0.6"/>
<ellipse cx="409.3" cy="150.8" rx="3.0" ry="3.4" fill="#a02870" opacity="0.9"/>
</g><g filter="url(#b1)">
<circle cx="411.6" cy="103.1" r="1.18" fill="#42206a" opacity="0.44" />
<circle cx="418.5" cy="102.9" r="1.41" fill="#5a2a70" opacity="0.42" />
<circle cx="418.4" cy="109.7" r="1.42" fill="#5a2a70" opacity="0.63" />
<circle cx="415.6" cy="101.7" r="1.37" fill="#42206a" opacity="0.59" />
<circle cx="420.6" cy="107.9" r="1.00" fill="#42206a" opacity="0.61" />
<circle cx="411.4" cy="97.9" r="1.29" fill="#4a2468" opacity="0.66" />
<circle cx="417.2" cy="107.0" r="1.16" fill="#4a2468" opacity="0.67" />
<circle cx="415.3" cy="101.6" r="1.39" fill="#5a2a70" opacity="0.68" />
<circle cx="416.3" cy="104.4" r="1.12" fill="#5a2a70" opacity="0.61" />
<circle cx="418.0" cy="99.4" r="1.03" fill="#42206a" opacity="0.40" />
<circle cx="414.3" cy="105.0" r="1.18" fill="#42206a" opacity="0.61" />
<circle cx="407.1" cy="106.8" r="1.05" fill="#4a2468" opacity="0.41" />
<circle cx="413.8" cy="100.1" r="1.21" fill="#42206a" opacity="0.60" />
<circle cx="411.7" cy="109.7" r="1.34" fill="#42206a" opacity="0.59" />
<circle cx="418.2" cy="105.3" r="0.59" fill="#7a3898" opacity="0.54" />
<circle cx="411.5" cy="101.8" r="0.64" fill="#b84078" opacity="0.74" />
<circle cx="416.7" cy="106.3" r="0.76" fill="#d05078" opacity="0.84" />
<circle cx="417.7" cy="103.8" r="0.55" fill="#c84870" opacity="0.44" />
<circle cx="413.3" cy="104.7" r="0.59" fill="#a03c80" opacity="0.47" />
<circle cx="419.7" cy="103.6" r="0.58" fill="#c84870" opacity="0.60" />
<circle cx="413.0" cy="105.4" r="0.51" fill="#d05078" opacity="0.50" />
<circle cx="415.4" cy="106.7" r="0.71" fill="#b84078" opacity="0.64" />
<circle cx="410.7" cy="101.6" r="0.58" fill="#a03c80" opacity="0.75" />
<circle cx="415.8" cy="101.9" r="0.51" fill="#b84078" opacity="0.77" />
<circle cx="418.8" cy="103.5" r="0.51" fill="#8a3890" opacity="0.46" />
<circle cx="418.2" cy="102.3" r="0.52" fill="#8a3890" opacity="0.63" />
<circle cx="416.1" cy="102.7" r="0.48" fill="#b84078" opacity="0.45" />
<circle cx="413.7" cy="107.5" r="0.52" fill="#c84870" opacity="0.56" />
<circle cx="428.9" cy="96.1" r="0.99" fill="#42206a" opacity="0.56" />
<circle cx="432.4" cy="91.0" r="1.33" fill="#5a2a70" opacity="0.46" />
<circle cx="431.0" cy="93.6" r="1.15" fill="#42206a" opacity="0.42" />
<circle cx="431.2" cy="94.0" r="1.22" fill="#42206a" opacity="0.63" />
<circle cx="431.1" cy="91.9" r="1.00" fill="#4a2468" opacity="0.47" />
<circle cx="435.2" cy="97.1" r="1.34" fill="#5a2a70" opacity="0.40" />
<circle cx="432.1" cy="100.6" r="0.99" fill="#5a2a70" opacity="0.55" />
<circle cx="431.8" cy="97.4" r="1.08" fill="#5a2a70" opacity="0.60" />
<circle cx="433.7" cy="98.8" r="0.51" fill="#b84078" opacity="0.71" />
<circle cx="429.4" cy="96.1" r="0.78" fill="#c84870" opacity="0.66" />
<circle cx="433.8" cy="97.5" r="0.79" fill="#c84870" opacity="0.62" />
<circle cx="430.5" cy="93.6" r="0.60" fill="#c84870" opacity="0.68" />
<circle cx="433.6" cy="96.8" r="0.50" fill="#d05078" opacity="0.80" />
<circle cx="433.5" cy="92.7" r="0.76" fill="#c84870" opacity="0.65" />
<circle cx="431.7" cy="95.1" r="0.50" fill="#d05078" opacity="0.58" />
<circle cx="432.6" cy="100.8" r="0.75" fill="#8a3890" opacity="0.43" />
<circle cx="434.5" cy="93.4" r="0.46" fill="#8a3890" opacity="0.45" />
<circle cx="401.0" cy="130.4" r="0.89" fill="#4a2878" opacity="0.72" />
<circle cx="403.0" cy="130.9" r="1.30" fill="#5a2c84" opacity="0.44" />
<circle cx="404.2" cy="131.6" r="1.27" fill="#6a3090" opacity="0.66" />
<circle cx="401.2" cy="130.6" r="1.22" fill="#6a3090" opacity="0.51" />
<circle cx="403.8" cy="129.5" r="0.85" fill="#5a2c84" opacity="0.65" />
<circle cx="399.2" cy="133.3" r="1.21" fill="#5a2c84" opacity="0.42" />
<circle cx="401.8" cy="130.3" r="1.14" fill="#6a3090" opacity="0.69" />
<circle cx="401.2" cy="130.8" r="0.77" fill="#a03c80" opacity="0.72" />
<circle cx="399.3" cy="130.7" r="0.73" fill="#d05078" opacity="0.80" />
<circle cx="402.4" cy="131.8" r="0.67" fill="#b84078" opacity="0.86" />
<circle cx="401.8" cy="128.4" r="0.61" fill="#7a3898" opacity="0.90" />
<circle cx="398.5" cy="128.9" r="0.54" fill="#6040b0" opacity="0.87" />
<circle cx="400.5" cy="128.6" r="0.46" fill="#c84870" opacity="0.60" />
<circle cx="401.7" cy="130.7" r="0.63" fill="#d05078" opacity="0.76" />
<circle cx="403.7" cy="129.2" r="0.57" fill="#c84870" opacity="0.57" />
<circle cx="400.4" cy="132.0" r="0.69" fill="#a03c80" opacity="0.67" />
<circle cx="410.3" cy="150.8" r="0.85" fill="#d04080" opacity="0.83" />
<circle cx="406.1" cy="148.9" r="0.88" fill="#d04080" opacity="0.87" />
<circle cx="412.2" cy="150.4" r="0.84" fill="#e05090" opacity="0.83" />
<circle cx="409.2" cy="151.8" r="0.90" fill="#e05090" opacity="0.69" />
<circle cx="409.4" cy="151.2" r="0.55" fill="#f070a0" opacity="0.75" />
<circle cx="410.3" cy="150.8" r="0.81" fill="#d04080" opacity="0.69" />
<circle cx="412.2" cy="152.8" r="0.72" fill="#f070a0" opacity="0.69" />
<circle cx="410.8" cy="149.6" r="0.87" fill="#f070a0" opacity="0.71" />
<circle cx="407.3" cy="155.8" r="0.68" fill="#c03878" opacity="0.69" />
<circle cx="410.3" cy="152.0" r="0.68" fill="#f070a0" opacity="0.84" />
<circle cx="408.8" cy="151.6" r="0.52" fill="#c03878" opacity="0.78" />
<circle cx="409.3" cy="151.3" r="0.80" fill="#e05090" opacity="0.62" />
<circle cx="409.0" cy="149.6" r="0.90" fill="#ffd0e0" opacity="0.95" />
<circle cx="410.6" cy="150.6" r="0.70" fill="#ffe0e8" opacity="0.90" />
<circle cx="416.2" cy="136.4" r="0.70" fill="#5a3070" opacity="0.70" />
<circle cx="424.0" cy="133.8" r="0.70" fill="#5a3070" opacity="0.70" />
<circle cx="413.6" cy="138.1" r="0.70" fill="#5a3070" opacity="0.70" />
<circle cx="437.1" cy="101.5" r="0.70" fill="#5a3070" opacity="0.70" />
<circle cx="411.8" cy="108.5" r="0.70" fill="#5a3070" opacity="0.70" />
</g>
<rect x="431.90" y="150.10" width="11.90" height="1.70" fill="#fff" />
</g>
<rect x="451.00" y="89.90" width="64.20" height="67.50" fill="#030307" />
<g clip-path="url(#cdbr)"><g filter="url(#b1)">
<circle cx="468.5" cy="113.9" r="0.51" fill="#625cc8" opacity="0.74" />
<circle cx="463.9" cy="127.0" r="0.61" fill="#a098e0" opacity="0.60" />
<circle cx="468.0" cy="123.9" r="0.94" fill="#5a58c0" opacity="0.82" />
<circle cx="465.9" cy="122.6" r="0.79" fill="#7268d0" opacity="0.93" />
<circle cx="469.0" cy="122.5" r="0.80" fill="#7268d0" opacity="0.86" />
<circle cx="464.7" cy="115.2" r="0.75" fill="#5a58c0" opacity="0.74" />
<circle cx="466.0" cy="118.1" r="0.78" fill="#8278d8" opacity="0.65" />
<circle cx="469.0" cy="118.9" r="0.56" fill="#5a58c0" opacity="0.94" />
<circle cx="468.2" cy="114.1" r="0.66" fill="#7268d0" opacity="0.71" />
<circle cx="469.3" cy="122.6" r="0.89" fill="#625cc8" opacity="0.95" />
<circle cx="465.0" cy="119.8" r="0.51" fill="#8278d8" opacity="0.53" />
<circle cx="466.5" cy="120.4" r="0.87" fill="#8278d8" opacity="0.83" />
<circle cx="467.2" cy="120.3" r="0.51" fill="#7268d0" opacity="0.64" />
<circle cx="466.8" cy="116.6" r="0.86" fill="#c0bce8" opacity="0.89" />
<circle cx="461.9" cy="121.0" r="0.51" fill="#a098e0" opacity="0.93" />
<circle cx="466.7" cy="124.2" r="0.84" fill="#c0bce8" opacity="0.68" />
<circle cx="464.0" cy="118.9" r="0.90" fill="#625cc8" opacity="0.66" />
<circle cx="467.3" cy="122.9" r="0.69" fill="#9280d0" opacity="0.83" />
<circle cx="467.3" cy="117.2" r="0.69" fill="#c0bce8" opacity="0.52" />
<circle cx="468.0" cy="123.8" r="0.54" fill="#c0bce8" opacity="0.71" />
<circle cx="466.2" cy="123.2" r="0.73" fill="#a098e0" opacity="0.94" />
<circle cx="464.3" cy="119.1" r="0.90" fill="#625cc8" opacity="0.52" />
<circle cx="466.9" cy="122.0" r="0.84" fill="#c0bce8" opacity="0.60" />
<circle cx="467.1" cy="116.0" r="0.50" fill="#625cc8" opacity="0.75" />
<circle cx="464.5" cy="114.4" r="0.68" fill="#9280d0" opacity="0.79" />
<circle cx="467.8" cy="120.0" r="0.71" fill="#8278d8" opacity="0.52" />
<circle cx="466.6" cy="116.9" r="0.89" fill="#c0bce8" opacity="0.86" />
<circle cx="465.3" cy="120.1" r="0.90" fill="#9280d0" opacity="0.94" />
<circle cx="466.7" cy="118.3" r="0.50" fill="#a098e0" opacity="0.77" />
<circle cx="461.0" cy="119.6" r="0.89" fill="#8278d8" opacity="0.56" />
<circle cx="468.2" cy="132.3" r="0.71" fill="#8278d8" opacity="0.83" />
<circle cx="463.8" cy="131.9" r="0.52" fill="#5a58c0" opacity="0.62" />
<circle cx="465.9" cy="134.4" r="0.53" fill="#7268d0" opacity="0.70" />
<circle cx="465.0" cy="133.5" r="0.94" fill="#7268d0" opacity="0.68" />
<circle cx="465.4" cy="135.3" r="0.68" fill="#625cc8" opacity="0.70" />
<circle cx="465.3" cy="129.3" r="0.82" fill="#7268d0" opacity="0.95" />
<circle cx="467.7" cy="137.9" r="0.59" fill="#7268d0" opacity="0.72" />
<circle cx="467.8" cy="130.5" r="0.79" fill="#9280d0" opacity="0.93" />
<circle cx="464.9" cy="131.9" r="0.77" fill="#9280d0" opacity="0.63" />
<circle cx="463.9" cy="133.2" r="0.86" fill="#9280d0" opacity="0.52" />
<circle cx="466.2" cy="139.8" r="0.72" fill="#5a58c0" opacity="0.53" />
<circle cx="466.0" cy="134.6" r="0.50" fill="#625cc8" opacity="0.74" />
<circle cx="468.2" cy="129.2" r="0.53" fill="#7268d0" opacity="0.72" />
<circle cx="461.7" cy="131.7" r="0.89" fill="#c0bce8" opacity="0.70" />
<circle cx="464.9" cy="138.6" r="0.55" fill="#9280d0" opacity="0.58" />
<circle cx="467.5" cy="127.2" r="0.55" fill="#7268d0" opacity="0.58" />
<circle cx="467.6" cy="129.0" r="0.75" fill="#9280d0" opacity="0.55" />
<circle cx="467.0" cy="132.4" r="0.84" fill="#a098e0" opacity="0.67" />
<circle cx="463.9" cy="132.2" r="0.91" fill="#c0bce8" opacity="0.81" />
<circle cx="468.0" cy="134.6" r="0.61" fill="#7268d0" opacity="0.80" />
<circle cx="464.2" cy="130.5" r="0.80" fill="#7268d0" opacity="0.67" />
<circle cx="466.3" cy="130.1" r="0.65" fill="#c0bce8" opacity="0.60" />
<circle cx="466.1" cy="139.2" r="0.78" fill="#c0bce8" opacity="0.93" />
<circle cx="462.1" cy="142.3" r="0.64" fill="#625cc8" opacity="0.90" />
<circle cx="459.6" cy="143.8" r="0.87" fill="#7268d0" opacity="0.67" />
<circle cx="461.2" cy="143.2" r="0.84" fill="#625cc8" opacity="0.89" />
<circle cx="461.9" cy="141.2" r="0.89" fill="#9280d0" opacity="0.53" />
<circle cx="463.9" cy="141.7" r="0.79" fill="#7268d0" opacity="0.94" />
<circle cx="461.4" cy="139.7" r="0.58" fill="#a098e0" opacity="0.64" />
<circle cx="461.3" cy="140.6" r="0.70" fill="#a098e0" opacity="0.57" />
<circle cx="462.1" cy="142.3" r="0.71" fill="#9280d0" opacity="0.62" />
<circle cx="462.4" cy="143.4" r="0.92" fill="#8278d8" opacity="0.64" />
<circle cx="463.0" cy="143.7" r="0.91" fill="#8278d8" opacity="0.75" />
<circle cx="462.0" cy="142.1" r="0.86" fill="#9280d0" opacity="0.52" />
<circle cx="487.0" cy="118.0" r="0.81" fill="#625cc8" opacity="0.89" />
<circle cx="487.0" cy="117.8" r="0.51" fill="#7268d0" opacity="0.81" />
<circle cx="483.7" cy="116.3" r="0.50" fill="#625cc8" opacity="0.82" />
<circle cx="485.4" cy="115.3" r="0.72" fill="#5a58c0" opacity="0.54" />
<circle cx="482.0" cy="116.1" r="0.63" fill="#625cc8" opacity="0.69" />
<circle cx="486.0" cy="116.5" r="0.63" fill="#a098e0" opacity="0.85" />
<circle cx="483.6" cy="117.0" r="0.81" fill="#9280d0" opacity="0.87" />
<circle cx="488.2" cy="117.3" r="0.72" fill="#5a58c0" opacity="0.66" />
<circle cx="484.8" cy="116.4" r="0.59" fill="#5a58c0" opacity="0.64" />
<circle cx="486.0" cy="117.4" r="0.66" fill="#7268d0" opacity="0.77" />
<circle cx="494.4" cy="115.4" r="0.89" fill="#9280d0" opacity="0.65" />
<circle cx="491.5" cy="121.9" r="0.62" fill="#9280d0" opacity="0.66" />
<circle cx="497.3" cy="117.2" r="0.88" fill="#a098e0" opacity="0.72" />
<circle cx="494.2" cy="114.9" r="0.82" fill="#9280d0" opacity="0.85" />
<circle cx="497.5" cy="116.2" r="0.74" fill="#5a58c0" opacity="0.78" />
<circle cx="498.7" cy="115.5" r="0.52" fill="#625cc8" opacity="0.58" />
<circle cx="494.8" cy="114.2" r="0.63" fill="#c0bce8" opacity="0.77" />
<circle cx="492.9" cy="115.2" r="0.72" fill="#c0bce8" opacity="0.88" />
<circle cx="498.1" cy="116.7" r="0.61" fill="#9280d0" opacity="0.72" />
<circle cx="496.2" cy="115.6" r="0.79" fill="#5a58c0" opacity="0.85" />
<circle cx="495.2" cy="113.9" r="0.88" fill="#625cc8" opacity="0.69" />
<circle cx="493.5" cy="117.0" r="0.64" fill="#c0bce8" opacity="0.68" />
<circle cx="496.1" cy="117.6" r="0.64" fill="#5a58c0" opacity="0.83" />
<circle cx="496.7" cy="113.1" r="0.60" fill="#7268d0" opacity="0.52" />
<circle cx="496.2" cy="115.0" r="0.61" fill="#9280d0" opacity="0.67" />
<circle cx="495.7" cy="117.0" r="0.66" fill="#c0bce8" opacity="0.69" />
<circle cx="500.1" cy="108.2" r="0.70" fill="#c05080" opacity="0.87" />
<circle cx="499.3" cy="111.2" r="0.54" fill="#a04890" opacity="0.59" />
<circle cx="500.4" cy="111.6" r="0.70" fill="#c05080" opacity="0.90" />
<circle cx="499.8" cy="106.4" r="0.84" fill="#c05080" opacity="0.54" />
<circle cx="500.8" cy="106.0" r="0.52" fill="#a04890" opacity="0.62" />
<circle cx="500.4" cy="105.8" r="0.53" fill="#d06088" opacity="0.63" />
<circle cx="501.0" cy="109.6" r="0.55" fill="#d06088" opacity="0.75" />
<circle cx="501.4" cy="108.0" r="0.55" fill="#d06088" opacity="0.52" />
<circle cx="501.5" cy="106.0" r="0.79" fill="#c05080" opacity="0.63" />
</g>
<rect x="498.80" y="150.40" width="12.80" height="1.70" fill="#fff" />
</g>
</g>
<g id="panelE">
<text x="5.60" y="184.00" font-size="12" font-weight="bold" fill="#000">E</text>
<rect x="15.20" y="186.40" width="5.20" height="5.20" fill="#fff" stroke="#111" stroke-width="0.6" />
<text x="22.80" y="191.56" font-size="7.4" fill="#111" stroke="#111" stroke-width="0.15">Ctrl</text>
<rect x="37.50" y="186.20" width="5.40" height="5.60" fill="#000" />
<text x="43.80" y="191.56" font-size="7.4" fill="#111" stroke="#111" stroke-width="0.15">KD</text>
<rect x="84.70" y="186.40" width="5.20" height="5.20" fill="#fff" stroke="#111" stroke-width="0.6" />
<text x="92.30" y="191.56" font-size="7.4" fill="#111" stroke="#111" stroke-width="0.15">Ctrl</text>
<rect x="107.00" y="186.20" width="5.40" height="5.60" fill="#000" />
<text x="113.30" y="191.56" font-size="7.4" fill="#111" stroke="#111" stroke-width="0.15">KD</text>
<text x="40.40" y="208.98" font-size="6.6" text-anchor="middle" fill="#111" stroke="#111" stroke-width="0.15">SOX2</text>
<text x="111.00" y="207.98" font-size="6.6" text-anchor="middle" fill="#111" stroke="#111" stroke-width="0.15">CASPASE 3</text>
<line x1="22.50" y1="221.70" x2="22.50" y2="285.30" stroke="#111" stroke-width="0.8" />
<line x1="22.10" y1="285.30" x2="65.40" y2="285.30" stroke="#111" stroke-width="0.8" />
<line x1="20.20" y1="285.30" x2="22.50" y2="285.30" stroke="#111" stroke-width="0.6" />
<text x="19.30" y="287.10" font-size="5.0" text-anchor="end" fill="#111" stroke="#111" stroke-width="0.22">0</text>
<line x1="20.20" y1="272.64" x2="22.50" y2="272.64" stroke="#111" stroke-width="0.6" />
<text x="19.30" y="274.44" font-size="5.0" text-anchor="end" fill="#111" stroke="#111" stroke-width="0.22">20</text>
<line x1="20.20" y1="259.98" x2="22.50" y2="259.98" stroke="#111" stroke-width="0.6" />
<text x="19.30" y="261.78" font-size="5.0" text-anchor="end" fill="#111" stroke="#111" stroke-width="0.22">40</text>
<line x1="20.20" y1="247.32" x2="22.50" y2="247.32" stroke="#111" stroke-width="0.6" />
<text x="19.30" y="249.12" font-size="5.0" text-anchor="end" fill="#111" stroke="#111" stroke-width="0.22">60</text>
<line x1="20.20" y1="234.66" x2="22.50" y2="234.66" stroke="#111" stroke-width="0.6" />
<text x="19.30" y="236.46" font-size="5.0" text-anchor="end" fill="#111" stroke="#111" stroke-width="0.22">80</text>
<line x1="20.20" y1="222.00" x2="22.50" y2="222.00" stroke="#111" stroke-width="0.6" />
<text x="19.30" y="223.80" font-size="5.0" text-anchor="end" fill="#111" stroke="#111" stroke-width="0.22">100</text>
<text x="7.80" y="253.00" font-size="6.4" text-anchor="middle" fill="#111" stroke="#111" stroke-width="0.22" transform="rotate(-90 7.80 253.00)" textLength="68.5" lengthAdjust="spacingAndGlyphs">Percentage of SOX2+ cells</text>
<line x1="27.10" y1="230.86" x2="27.10" y2="227.06" stroke="#111" stroke-width="0.7" />
<line x1="27.10" y1="227.06" x2="27.10" y2="227.06" stroke="#111" stroke-width="0.7" />
<rect x="23.10" y="230.86" width="8.00" height="54.44" fill="#fff" stroke="#111" stroke-width="0.8" />
<line x1="37.20" y1="279.60" x2="37.20" y2="278.34" stroke="#111" stroke-width="0.7" />
<line x1="37.20" y1="278.34" x2="37.20" y2="278.34" stroke="#111" stroke-width="0.7" />
<rect x="33.20" y="279.60" width="8.00" height="5.70" fill="#000" />
<line x1="48.80" y1="249.85" x2="48.80" y2="239.72" stroke="#111" stroke-width="0.7" />
<line x1="48.80" y1="239.72" x2="48.80" y2="239.72" stroke="#111" stroke-width="0.7" />
<rect x="44.80" y="249.85" width="8.00" height="35.45" fill="#fff" stroke="#111" stroke-width="0.8" />
<line x1="58.90" y1="265.04" x2="58.90" y2="260.93" stroke="#111" stroke-width="0.7" />
<line x1="58.90" y1="260.93" x2="58.90" y2="260.93" stroke="#111" stroke-width="0.7" />
<rect x="54.90" y="265.04" width="8.00" height="20.26" fill="#000" />
<line x1="25.40" y1="225.40" x2="36.20" y2="225.40" stroke="#111" stroke-width="0.9" />
<text x="30.60" y="225.00" font-size="7" text-anchor="middle" font-weight="bold" fill="#111" stroke="#111" stroke-width="0.3">***</text>
<line x1="48.50" y1="237.80" x2="59.20" y2="237.80" stroke="#111" stroke-width="0.9" />
<text x="53.60" y="237.60" font-size="7" text-anchor="middle" font-weight="bold" fill="#111" stroke="#111" stroke-width="0.3">*</text>
<text x="28.60" y="295.33" font-size="7.3" text-anchor="middle" fill="#111" stroke="#111" stroke-width="0.15" textLength="16" lengthAdjust="spacingAndGlyphs">PPO1</text>
<text x="60.40" y="295.33" font-size="7.3" text-anchor="middle" fill="#111" stroke="#111" stroke-width="0.15" textLength="16" lengthAdjust="spacingAndGlyphs">PPO2</text>
<line x1="92.00" y1="221.00" x2="92.00" y2="284.80" stroke="#111" stroke-width="0.8" />
<line x1="91.90" y1="284.80" x2="140.00" y2="284.80" stroke="#111" stroke-width="0.8" />
<line x1="90.80" y1="284.80" x2="92.30" y2="284.80" stroke="#111" stroke-width="0.6" />
<text x="90.00" y="286.67" font-size="5.2" text-anchor="end" fill="#111" stroke="#111" stroke-width="0.22">0</text>
<line x1="90.80" y1="272.10" x2="92.30" y2="272.10" stroke="#111" stroke-width="0.6" />
<text x="90.00" y="273.97" font-size="5.2" text-anchor="end" fill="#111" stroke="#111" stroke-width="0.22">5</text>
<line x1="90.80" y1="259.40" x2="92.30" y2="259.40" stroke="#111" stroke-width="0.6" />
<text x="90.00" y="261.27" font-size="5.2" text-anchor="end" fill="#111" stroke="#111" stroke-width="0.22">10</text>
<line x1="90.80" y1="246.70" x2="92.30" y2="246.70" stroke="#111" stroke-width="0.6" />
<text x="90.00" y="248.57" font-size="5.2" text-anchor="end" fill="#111" stroke="#111" stroke-width="0.22">15</text>
<line x1="90.80" y1="234.00" x2="92.30" y2="234.00" stroke="#111" stroke-width="0.6" />
<text x="90.00" y="235.87" font-size="5.2" text-anchor="end" fill="#111" stroke="#111" stroke-width="0.22">20</text>
<line x1="90.80" y1="221.30" x2="92.30" y2="221.30" stroke="#111" stroke-width="0.6" />
<text x="90.00" y="223.17" font-size="5.2" text-anchor="end" fill="#111" stroke="#111" stroke-width="0.22">25</text>
<text x="81.10" y="251.40" font-size="6.4" text-anchor="middle" fill="#111" stroke="#111" stroke-width="0.22" transform="rotate(-90 81.10 251.40)" textLength="85" lengthAdjust="spacingAndGlyphs">Percentage of CASPASE3+ cells</text>
<line x1="98.40" y1="282.26" x2="98.40" y2="281.50" stroke="#111" stroke-width="0.7" />
<line x1="98.40" y1="281.50" x2="98.40" y2="281.50" stroke="#111" stroke-width="0.7" />
<rect x="93.80" y="282.26" width="9.20" height="2.54" fill="#fff" stroke="#111" stroke-width="0.8" />
<line x1="109.90" y1="275.91" x2="109.90" y2="273.12" stroke="#111" stroke-width="0.7" />
<line x1="109.90" y1="273.12" x2="109.90" y2="273.12" stroke="#111" stroke-width="0.7" />
<rect x="105.30" y="275.91" width="9.20" height="8.89" fill="#000" />
<line x1="122.30" y1="282.77" x2="122.30" y2="282.26" stroke="#111" stroke-width="0.7" />
<line x1="122.30" y1="282.26" x2="122.30" y2="282.26" stroke="#111" stroke-width="0.7" />
<rect x="117.70" y="282.77" width="9.20" height="2.03" fill="#fff" stroke="#111" stroke-width="0.8" />
<line x1="133.40" y1="239.08" x2="133.40" y2="225.87" stroke="#111" stroke-width="0.7" />
<line x1="133.40" y1="225.87" x2="133.40" y2="225.87" stroke="#111" stroke-width="0.7" />
<rect x="128.90" y="239.08" width="9.00" height="45.72" fill="#000" />
<line x1="97.60" y1="265.80" x2="109.80" y2="265.80" stroke="#111" stroke-width="0.9" />
<text x="103.40" y="265.60" font-size="7" text-anchor="middle" font-weight="bold" fill="#111" stroke="#111" stroke-width="0.3">**</text>
<line x1="123.00" y1="224.50" x2="135.00" y2="224.50" stroke="#111" stroke-width="0.9" />
<text x="129.20" y="224.60" font-size="7" text-anchor="middle" font-weight="bold" fill="#111" stroke="#111" stroke-width="0.3">**</text>
<text x="103.40" y="293.72" font-size="7.0" text-anchor="middle" fill="#111" stroke="#111" stroke-width="0.15" textLength="15.8" lengthAdjust="spacingAndGlyphs">PPO1</text>
<text x="131.60" y="293.72" font-size="7.0" text-anchor="middle" fill="#111" stroke="#111" stroke-width="0.15" textLength="15.8" lengthAdjust="spacingAndGlyphs">PPO2</text>
</g>
<g id="panelF">
<text x="160.60" y="184.00" font-size="12" font-weight="bold" fill="#000">F</text>
<text x="229.8" y="186.50" font-size="6.4" text-anchor="middle" stroke="#111" stroke-width="0.3">IC<tspan font-size="4.6" dy="1.7">50</tspan></text>
<circle cx="203.6" cy="193.4" r="1.10" fill="#2a3a9a" />
<text x="208.60" y="195.80" font-size="6.4" fill="#111" stroke="#111" stroke-width="0.22" textLength="56" lengthAdjust="spacingAndGlyphs">PPO1 (87.94 nmol/L)</text>
<rect x="202.50" y="201.20" width="2.20" height="2.20" fill="#e02a2a" />
<text x="208.60" y="204.70" font-size="6.4" fill="#111" stroke="#111" stroke-width="0.22" textLength="53" lengthAdjust="spacingAndGlyphs">PPO2 (71.3 nmol/L)</text>
<line x1="178.25" y1="211.00" x2="178.25" y2="282.20" stroke="#111" stroke-width="0.8" />
<line x1="177.85" y1="282.20" x2="260.80" y2="282.20" stroke="#111" stroke-width="0.8" />
<line x1="176.75" y1="282.20" x2="178.25" y2="282.20" stroke="#111" stroke-width="0.6" />
<text x="175.85" y="283.89" font-size="4.7" text-anchor="end" fill="#111" stroke="#111" stroke-width="0.22">0</text>
<line x1="176.75" y1="269.42" x2="178.25" y2="269.42" stroke="#111" stroke-width="0.6" />
<text x="175.85" y="271.11" font-size="4.7" text-anchor="end" fill="#111" stroke="#111" stroke-width="0.22">20</text>
<line x1="176.75" y1="256.64" x2="178.25" y2="256.64" stroke="#111" stroke-width="0.6" />
<text x="175.85" y="258.33" font-size="4.7" text-anchor="end" fill="#111" stroke="#111" stroke-width="0.22">40</text>
<line x1="176.75" y1="243.86" x2="178.25" y2="243.86" stroke="#111" stroke-width="0.6" />
<text x="175.85" y="245.55" font-size="4.7" text-anchor="end" fill="#111" stroke="#111" stroke-width="0.22">60</text>
<line x1="176.75" y1="231.08" x2="178.25" y2="231.08" stroke="#111" stroke-width="0.6" />
<text x="175.85" y="232.77" font-size="4.7" text-anchor="end" fill="#111" stroke="#111" stroke-width="0.22">80</text>
<line x1="176.75" y1="218.30" x2="178.25" y2="218.30" stroke="#111" stroke-width="0.6" />
<text x="175.85" y="219.99" font-size="4.7" text-anchor="end" fill="#111" stroke="#111" stroke-width="0.22">100</text>
<line x1="178.25" y1="282.20" x2="178.25" y2="283.30" stroke="#111" stroke-width="0.6" />
<text x="178.25" y="289.18" font-size="4.4" text-anchor="middle" fill="#111" stroke="#111" stroke-width="0.28">−9.0</text>
<line x1="190.03" y1="282.20" x2="190.03" y2="283.30" stroke="#111" stroke-width="0.6" />
<text x="190.03" y="289.18" font-size="4.4" text-anchor="middle" fill="#111" stroke="#111" stroke-width="0.28">−8.5</text>
<line x1="201.80" y1="282.20" x2="201.80" y2="283.30" stroke="#111" stroke-width="0.6" />
<text x="201.80" y="289.18" font-size="4.4" text-anchor="middle" fill="#111" stroke="#111" stroke-width="0.28">−8.0</text>
<line x1="213.57" y1="282.20" x2="213.57" y2="283.30" stroke="#111" stroke-width="0.6" />
<text x="213.57" y="289.18" font-size="4.4" text-anchor="middle" fill="#111" stroke="#111" stroke-width="0.28">−7.5</text>
<line x1="225.35" y1="282.20" x2="225.35" y2="283.30" stroke="#111" stroke-width="0.6" />
<text x="225.35" y="289.18" font-size="4.4" text-anchor="middle" fill="#111" stroke="#111" stroke-width="0.28">−7.0</text>
<line x1="237.12" y1="282.20" x2="237.12" y2="283.30" stroke="#111" stroke-width="0.6" />
<text x="237.12" y="289.18" font-size="4.4" text-anchor="middle" fill="#111" stroke="#111" stroke-width="0.28">−6.5</text>
<line x1="248.90" y1="282.20" x2="248.90" y2="283.30" stroke="#111" stroke-width="0.6" />
<text x="248.90" y="289.18" font-size="4.4" text-anchor="middle" fill="#111" stroke="#111" stroke-width="0.28">−6.0</text>
<line x1="260.68" y1="282.20" x2="260.68" y2="283.30" stroke="#111" stroke-width="0.6" />
<text x="260.68" y="289.18" font-size="4.4" text-anchor="middle" fill="#111" stroke="#111" stroke-width="0.28">−5.5</text>
<line x1="178.25" y1="250.25" x2="260.50" y2="250.25" stroke="#333" stroke-width="0.6" stroke-dasharray="0.9 0.7"/>
<path d="M178.25,218.74 L179.90,218.92 L181.55,219.13 L183.20,219.38 L184.84,219.67 L186.49,220.01 L188.14,220.40 L189.79,220.85 L191.44,221.37 L193.09,221.97 L194.73,222.66 L196.38,223.44 L198.03,224.33 L199.68,225.33 L201.33,226.46 L202.98,227.71 L204.63,229.11 L206.27,230.63 L207.92,232.30 L209.57,234.09 L211.22,236.01 L212.87,238.03 L214.52,240.13 L216.17,242.30 L217.81,244.51 L219.46,246.72 L221.11,248.91 L222.76,251.05 L224.41,253.13 L226.06,255.10 L227.70,256.97 L229.35,258.71 L231.00,260.31 L232.65,261.78 L234.30,263.12 L235.95,264.32 L237.60,265.39 L239.24,266.34 L240.89,267.18 L242.54,267.92 L244.19,268.57 L245.84,269.13 L247.49,269.62 L249.14,270.05 L250.78,270.42 L252.43,270.73 L254.08,271.00 L255.73,271.24 L257.38,271.44" stroke="#2a3a9a" stroke-width="1.05" fill="none" />
<path d="M178.25,223.87 L179.90,223.95 L181.55,224.05 L183.20,224.15 L184.84,224.28 L186.49,224.43 L188.14,224.60 L189.79,224.80 L191.44,225.03 L193.09,225.30 L194.73,225.61 L196.38,225.97 L198.03,226.38 L199.68,226.85 L201.33,227.39 L202.98,228.00 L204.63,228.69 L206.27,229.46 L207.92,230.32 L209.57,231.27 L211.22,232.32 L212.87,233.45 L214.52,234.67 L216.17,235.98 L217.81,237.35 L219.46,238.77 L221.11,240.24 L222.76,241.73 L224.41,243.22 L226.06,244.70 L227.70,246.14 L229.35,247.52 L231.00,248.85 L232.65,250.09 L234.30,251.25 L235.95,252.33 L237.60,253.30 L239.24,254.19 L240.89,254.99 L242.54,255.70 L244.19,256.33 L245.84,256.89 L247.49,257.38 L249.14,257.80 L250.78,258.18 L252.43,258.50 L254.08,258.78 L255.73,259.02 L257.38,259.23" stroke="#e02a2a" stroke-width="1.05" fill="none" />
<line x1="201.80" y1="223.38" x2="201.80" y2="232.38" stroke="#2a3a9a" stroke-width="0.6" />
<line x1="200.90" y1="223.38" x2="202.70" y2="223.38" stroke="#2a3a9a" stroke-width="0.5" />
<line x1="200.90" y1="232.38" x2="202.70" y2="232.38" stroke="#2a3a9a" stroke-width="0.5" />
<circle cx="201.8" cy="227.9" r="1.15" fill="#2a3a9a" />
<line x1="218.99" y1="226.77" x2="218.99" y2="241.77" stroke="#2a3a9a" stroke-width="0.6" />
<line x1="218.09" y1="226.77" x2="219.89" y2="226.77" stroke="#2a3a9a" stroke-width="0.5" />
<line x1="218.09" y1="241.77" x2="219.89" y2="241.77" stroke="#2a3a9a" stroke-width="0.5" />
<circle cx="219.0" cy="234.3" r="1.15" fill="#2a3a9a" />
<line x1="225.82" y1="256.03" x2="225.82" y2="270.03" stroke="#2a3a9a" stroke-width="0.6" />
<line x1="224.92" y1="256.03" x2="226.72" y2="256.03" stroke="#2a3a9a" stroke-width="0.5" />
<line x1="224.92" y1="270.03" x2="226.72" y2="270.03" stroke="#2a3a9a" stroke-width="0.5" />
<circle cx="225.8" cy="263.0" r="1.15" fill="#2a3a9a" />
<line x1="233.36" y1="258.67" x2="233.36" y2="268.67" stroke="#2a3a9a" stroke-width="0.6" />
<line x1="232.46" y1="258.67" x2="234.26" y2="258.67" stroke="#2a3a9a" stroke-width="0.5" />
<line x1="232.46" y1="268.67" x2="234.26" y2="268.67" stroke="#2a3a9a" stroke-width="0.5" />
<circle cx="233.4" cy="263.7" r="1.15" fill="#2a3a9a" />
<line x1="242.78" y1="262.86" x2="242.78" y2="270.86" stroke="#2a3a9a" stroke-width="0.6" />
<line x1="241.88" y1="262.86" x2="243.68" y2="262.86" stroke="#2a3a9a" stroke-width="0.5" />
<line x1="241.88" y1="270.86" x2="243.68" y2="270.86" stroke="#2a3a9a" stroke-width="0.5" />
<circle cx="242.8" cy="266.9" r="1.15" fill="#2a3a9a" />
<line x1="249.84" y1="265.58" x2="249.84" y2="271.98" stroke="#2a3a9a" stroke-width="0.6" />
<line x1="248.94" y1="265.58" x2="250.74" y2="265.58" stroke="#2a3a9a" stroke-width="0.5" />
<line x1="248.94" y1="271.98" x2="250.74" y2="271.98" stroke="#2a3a9a" stroke-width="0.5" />
<circle cx="249.8" cy="268.8" r="1.15" fill="#2a3a9a" />
<line x1="257.14" y1="266.86" x2="257.14" y2="273.26" stroke="#2a3a9a" stroke-width="0.6" />
<line x1="256.24" y1="266.86" x2="258.04" y2="266.86" stroke="#2a3a9a" stroke-width="0.5" />
<line x1="256.24" y1="273.26" x2="258.04" y2="273.26" stroke="#2a3a9a" stroke-width="0.5" />
<circle cx="257.1" cy="270.1" r="1.15" fill="#2a3a9a" />
<line x1="201.80" y1="232.47" x2="201.80" y2="242.47" stroke="#e02a2a" stroke-width="0.6" />
<line x1="200.90" y1="232.47" x2="202.70" y2="232.47" stroke="#e02a2a" stroke-width="0.5" />
<line x1="200.90" y1="242.47" x2="202.70" y2="242.47" stroke="#e02a2a" stroke-width="0.5" />
<rect x="200.65" y="236.32" width="2.30" height="2.30" fill="#e02a2a" />
<line x1="218.99" y1="229.05" x2="218.99" y2="242.05" stroke="#e02a2a" stroke-width="0.6" />
<line x1="218.09" y1="229.05" x2="219.89" y2="229.05" stroke="#e02a2a" stroke-width="0.5" />
<line x1="218.09" y1="242.05" x2="219.89" y2="242.05" stroke="#e02a2a" stroke-width="0.5" />
<rect x="217.84" y="234.40" width="2.30" height="2.30" fill="#e02a2a" />
<line x1="225.82" y1="240.50" x2="225.82" y2="248.50" stroke="#e02a2a" stroke-width="0.6" />
<line x1="224.92" y1="240.50" x2="226.72" y2="240.50" stroke="#e02a2a" stroke-width="0.5" />
<line x1="224.92" y1="248.50" x2="226.72" y2="248.50" stroke="#e02a2a" stroke-width="0.5" />
<rect x="224.67" y="243.35" width="2.30" height="2.30" fill="#e02a2a" />
<line x1="233.36" y1="247.53" x2="233.36" y2="255.53" stroke="#e02a2a" stroke-width="0.6" />
<line x1="232.46" y1="247.53" x2="234.26" y2="247.53" stroke="#e02a2a" stroke-width="0.5" />
<line x1="232.46" y1="255.53" x2="234.26" y2="255.53" stroke="#e02a2a" stroke-width="0.5" />
<rect x="232.21" y="250.38" width="2.30" height="2.30" fill="#e02a2a" />
<line x1="242.78" y1="254.33" x2="242.78" y2="265.33" stroke="#e02a2a" stroke-width="0.6" />
<line x1="241.88" y1="254.33" x2="243.68" y2="254.33" stroke="#e02a2a" stroke-width="0.5" />
<line x1="241.88" y1="265.33" x2="243.68" y2="265.33" stroke="#e02a2a" stroke-width="0.5" />
<rect x="241.63" y="258.69" width="2.30" height="2.30" fill="#e02a2a" />
<line x1="249.84" y1="252.42" x2="249.84" y2="263.42" stroke="#e02a2a" stroke-width="0.6" />
<line x1="248.94" y1="252.42" x2="250.74" y2="252.42" stroke="#e02a2a" stroke-width="0.5" />
<line x1="248.94" y1="263.42" x2="250.74" y2="263.42" stroke="#e02a2a" stroke-width="0.5" />
<rect x="248.69" y="256.77" width="2.30" height="2.30" fill="#e02a2a" />
<line x1="257.14" y1="250.74" x2="257.14" y2="265.74" stroke="#e02a2a" stroke-width="0.6" />
<line x1="256.24" y1="250.74" x2="258.04" y2="250.74" stroke="#e02a2a" stroke-width="0.5" />
<line x1="256.24" y1="265.74" x2="258.04" y2="265.74" stroke="#e02a2a" stroke-width="0.5" />
<rect x="255.99" y="257.09" width="2.30" height="2.30" fill="#e02a2a" />
<text x="163.50" y="247.80" font-size="7.5" text-anchor="middle" fill="#111" stroke="#111" stroke-width="0.15" transform="rotate(-90 163.50 247.80)">WST absorbance (%)</text>
<text x="216.0" y="298.94" font-size="7.6" text-anchor="middle">log<tspan font-size="5.3" dy="1.6">10</tspan><tspan dy="-1.6"> [PX866] M</tspan></text>
<text x="327.8" y="183.90" font-size="6.4" text-anchor="middle" stroke="#111" stroke-width="0.3">IC<tspan font-size="4.6" dy="1.7">50</tspan></text>
<circle cx="301.6" cy="191.4" r="1.10" fill="#2a3a9a" />
<text x="306.60" y="194.10" font-size="6.4" fill="#111" stroke="#111" stroke-width="0.22" textLength="55" lengthAdjust="spacingAndGlyphs">PPO1 (115.3 nmol/L)</text>
<rect x="300.50" y="199.50" width="2.20" height="2.20" fill="#e02a2a" />
<text x="306.60" y="203.10" font-size="6.4" fill="#111" stroke="#111" stroke-width="0.22" textLength="52" lengthAdjust="spacingAndGlyphs">PPO2 (13.2 nmol/L)</text>
<line x1="290.40" y1="208.00" x2="290.40" y2="279.80" stroke="#111" stroke-width="0.8" />
<line x1="290.00" y1="279.80" x2="376.00" y2="279.80" stroke="#111" stroke-width="0.8" />
<line x1="288.90" y1="279.80" x2="290.40" y2="279.80" stroke="#111" stroke-width="0.6" />
<text x="288.00" y="281.49" font-size="4.7" text-anchor="end" fill="#111" stroke="#111" stroke-width="0.22">0</text>
<line x1="288.90" y1="267.00" x2="290.40" y2="267.00" stroke="#111" stroke-width="0.6" />
<text x="288.00" y="268.69" font-size="4.7" text-anchor="end" fill="#111" stroke="#111" stroke-width="0.22">20</text>
<line x1="288.90" y1="254.20" x2="290.40" y2="254.20" stroke="#111" stroke-width="0.6" />
<text x="288.00" y="255.89" font-size="4.7" text-anchor="end" fill="#111" stroke="#111" stroke-width="0.22">40</text>
<line x1="288.90" y1="241.40" x2="290.40" y2="241.40" stroke="#111" stroke-width="0.6" />
<text x="288.00" y="243.09" font-size="4.7" text-anchor="end" fill="#111" stroke="#111" stroke-width="0.22">60</text>
<line x1="288.90" y1="228.60" x2="290.40" y2="228.60" stroke="#111" stroke-width="0.6" />
<text x="288.00" y="230.29" font-size="4.7" text-anchor="end" fill="#111" stroke="#111" stroke-width="0.22">80</text>
<line x1="288.90" y1="215.80" x2="290.40" y2="215.80" stroke="#111" stroke-width="0.6" />
<text x="288.00" y="217.49" font-size="4.7" text-anchor="end" fill="#111" stroke="#111" stroke-width="0.22">100</text>
<line x1="290.40" y1="279.80" x2="290.40" y2="280.90" stroke="#111" stroke-width="0.6" />
<text x="290.40" y="287.18" font-size="4.4" text-anchor="middle" fill="#111" stroke="#111" stroke-width="0.28">−7.5</text>
<line x1="308.00" y1="279.80" x2="308.00" y2="280.90" stroke="#111" stroke-width="0.6" />
<text x="308.00" y="287.18" font-size="4.4" text-anchor="middle" fill="#111" stroke="#111" stroke-width="0.28">−7.0</text>
<line x1="330.80" y1="279.80" x2="330.80" y2="280.90" stroke="#111" stroke-width="0.6" />
<text x="330.80" y="287.18" font-size="4.4" text-anchor="middle" fill="#111" stroke="#111" stroke-width="0.28">−6.5</text>
<line x1="352.60" y1="279.80" x2="352.60" y2="280.90" stroke="#111" stroke-width="0.6" />
<text x="352.60" y="287.18" font-size="4.4" text-anchor="middle" fill="#111" stroke="#111" stroke-width="0.28">−6.0</text>
<line x1="374.40" y1="279.80" x2="374.40" y2="280.90" stroke="#111" stroke-width="0.6" />
<text x="374.40" y="287.18" font-size="4.4" text-anchor="middle" fill="#111" stroke="#111" stroke-width="0.28">−5.5</text>
<line x1="290.40" y1="247.70" x2="376.00" y2="247.70" stroke="#a8a8a8" stroke-width="1.4" />
<path d="M294.94,210.38 C297.19,211.93 303.90,215.91 308.43,219.71 C312.96,223.52 317.59,228.71 322.12,233.20 C326.66,237.70 331.91,243.16 335.61,246.69 C339.31,250.22 341.32,252.12 344.33,254.37 C347.34,256.62 349.86,258.59 353.67,260.18 C357.47,261.77 364.91,263.29 367.16,263.91" stroke="#2a3a9a" stroke-width="1.05" fill="none" />
<path d="M294.94,217.64 C295.91,219.54 298.50,225.59 300.75,229.05 C303.00,232.51 306.01,235.97 308.43,238.39 C310.85,240.81 312.99,242.09 315.28,243.58 C317.56,245.06 318.74,245.93 322.12,247.31 C325.51,248.70 331.05,250.70 335.61,251.88 C340.18,253.05 344.26,253.61 349.52,254.37 C354.77,255.13 364.22,256.10 367.16,256.44" stroke="#e02a2a" stroke-width="1.05" fill="none" />
<line x1="294.94" y1="214.56" x2="294.94" y2="216.56" stroke="#2a3a9a" stroke-width="0.6" />
<line x1="294.04" y1="214.56" x2="295.84" y2="214.56" stroke="#2a3a9a" stroke-width="0.5" />
<line x1="294.04" y1="216.56" x2="295.84" y2="216.56" stroke="#2a3a9a" stroke-width="0.5" />
<circle cx="294.9" cy="215.6" r="1.15" fill="#2a3a9a" />
<line x1="308.43" y1="214.44" x2="308.43" y2="220.84" stroke="#2a3a9a" stroke-width="0.6" />
<line x1="307.53" y1="214.44" x2="309.33" y2="214.44" stroke="#2a3a9a" stroke-width="0.5" />
<line x1="307.53" y1="220.84" x2="309.33" y2="220.84" stroke="#2a3a9a" stroke-width="0.5" />
<circle cx="308.4" cy="217.6" r="1.15" fill="#2a3a9a" />
<line x1="322.12" y1="219.25" x2="322.12" y2="222.25" stroke="#2a3a9a" stroke-width="0.6" />
<line x1="321.22" y1="219.25" x2="323.02" y2="219.25" stroke="#2a3a9a" stroke-width="0.5" />
<line x1="321.22" y1="222.25" x2="323.02" y2="222.25" stroke="#2a3a9a" stroke-width="0.5" />
<circle cx="322.1" cy="220.8" r="1.15" fill="#2a3a9a" />
<line x1="335.61" y1="254.30" x2="335.61" y2="261.90" stroke="#2a3a9a" stroke-width="0.6" />
<line x1="334.71" y1="254.30" x2="336.51" y2="254.30" stroke="#2a3a9a" stroke-width="0.5" />
<line x1="334.71" y1="261.90" x2="336.51" y2="261.90" stroke="#2a3a9a" stroke-width="0.5" />
<circle cx="335.6" cy="258.1" r="1.15" fill="#2a3a9a" />
<line x1="340.18" y1="258.02" x2="340.18" y2="264.42" stroke="#2a3a9a" stroke-width="0.6" />
<line x1="339.28" y1="258.02" x2="341.08" y2="258.02" stroke="#2a3a9a" stroke-width="0.5" />
<line x1="339.28" y1="264.42" x2="341.08" y2="264.42" stroke="#2a3a9a" stroke-width="0.5" />
<circle cx="340.2" cy="261.2" r="1.15" fill="#2a3a9a" />
<line x1="349.52" y1="254.49" x2="349.52" y2="260.89" stroke="#2a3a9a" stroke-width="0.6" />
<line x1="348.62" y1="254.49" x2="350.42" y2="254.49" stroke="#2a3a9a" stroke-width="0.5" />
<line x1="348.62" y1="260.89" x2="350.42" y2="260.89" stroke="#2a3a9a" stroke-width="0.5" />
<circle cx="349.5" cy="257.7" r="1.15" fill="#2a3a9a" />
<line x1="353.67" y1="256.32" x2="353.67" y2="260.72" stroke="#2a3a9a" stroke-width="0.6" />
<line x1="352.77" y1="256.32" x2="354.57" y2="256.32" stroke="#2a3a9a" stroke-width="0.5" />
<line x1="352.77" y1="260.72" x2="354.57" y2="260.72" stroke="#2a3a9a" stroke-width="0.5" />
<circle cx="353.7" cy="258.5" r="1.15" fill="#2a3a9a" />
<line x1="367.16" y1="256.27" x2="367.16" y2="257.87" stroke="#2a3a9a" stroke-width="0.6" />
<line x1="366.26" y1="256.27" x2="368.06" y2="256.27" stroke="#2a3a9a" stroke-width="0.5" />
<line x1="366.26" y1="257.87" x2="368.06" y2="257.87" stroke="#2a3a9a" stroke-width="0.5" />
<circle cx="367.2" cy="257.1" r="1.15" fill="#2a3a9a" />
<line x1="294.94" y1="214.56" x2="294.94" y2="216.56" stroke="#e02a2a" stroke-width="0.6" />
<line x1="294.04" y1="214.56" x2="295.84" y2="214.56" stroke="#e02a2a" stroke-width="0.5" />
<line x1="294.04" y1="216.56" x2="295.84" y2="216.56" stroke="#e02a2a" stroke-width="0.5" />
<rect x="293.79" y="214.41" width="2.30" height="2.30" fill="#e02a2a" />
<line x1="308.43" y1="242.08" x2="308.43" y2="245.08" stroke="#e02a2a" stroke-width="0.6" />
<line x1="307.53" y1="242.08" x2="309.33" y2="242.08" stroke="#e02a2a" stroke-width="0.5" />
<line x1="307.53" y1="245.08" x2="309.33" y2="245.08" stroke="#e02a2a" stroke-width="0.5" />
<rect x="307.28" y="242.43" width="2.30" height="2.30" fill="#e02a2a" />
<line x1="322.12" y1="237.62" x2="322.12" y2="251.62" stroke="#e02a2a" stroke-width="0.6" />
<line x1="321.22" y1="237.62" x2="323.02" y2="237.62" stroke="#e02a2a" stroke-width="0.5" />
<line x1="321.22" y1="251.62" x2="323.02" y2="251.62" stroke="#e02a2a" stroke-width="0.5" />
<rect x="320.97" y="243.47" width="2.30" height="2.30" fill="#e02a2a" />
<line x1="335.61" y1="243.94" x2="335.61" y2="252.34" stroke="#e02a2a" stroke-width="0.6" />
<line x1="334.71" y1="243.94" x2="336.51" y2="243.94" stroke="#e02a2a" stroke-width="0.5" />
<line x1="334.71" y1="252.34" x2="336.51" y2="252.34" stroke="#e02a2a" stroke-width="0.5" />
<rect x="334.46" y="246.99" width="2.30" height="2.30" fill="#e02a2a" />
<line x1="340.18" y1="244.31" x2="340.18" y2="250.31" stroke="#e02a2a" stroke-width="0.6" />
<line x1="339.28" y1="244.31" x2="341.08" y2="244.31" stroke="#e02a2a" stroke-width="0.5" />
<line x1="339.28" y1="250.31" x2="341.08" y2="250.31" stroke="#e02a2a" stroke-width="0.5" />
<rect x="339.03" y="246.16" width="2.30" height="2.30" fill="#e02a2a" />
<line x1="349.52" y1="249.34" x2="349.52" y2="252.34" stroke="#e02a2a" stroke-width="0.6" />
<line x1="348.62" y1="249.34" x2="350.42" y2="249.34" stroke="#e02a2a" stroke-width="0.5" />
<line x1="348.62" y1="252.34" x2="350.42" y2="252.34" stroke="#e02a2a" stroke-width="0.5" />
<rect x="348.37" y="249.69" width="2.30" height="2.30" fill="#e02a2a" />
<line x1="353.67" y1="254.32" x2="353.67" y2="262.72" stroke="#e02a2a" stroke-width="0.6" />
<line x1="352.77" y1="254.32" x2="354.57" y2="254.32" stroke="#e02a2a" stroke-width="0.5" />
<line x1="352.77" y1="262.72" x2="354.57" y2="262.72" stroke="#e02a2a" stroke-width="0.5" />
<rect x="352.52" y="257.37" width="2.30" height="2.30" fill="#e02a2a" />
<line x1="367.16" y1="262.17" x2="367.16" y2="268.57" stroke="#e02a2a" stroke-width="0.6" />
<line x1="366.26" y1="262.17" x2="368.06" y2="262.17" stroke="#e02a2a" stroke-width="0.5" />
<line x1="366.26" y1="268.57" x2="368.06" y2="268.57" stroke="#e02a2a" stroke-width="0.5" />
<rect x="366.01" y="264.22" width="2.30" height="2.30" fill="#e02a2a" />
<text x="278.10" y="246.00" font-size="7.5" text-anchor="middle" fill="#111" stroke="#111" stroke-width="0.15" transform="rotate(-90 278.10 246.00)">WST absorbance (%)</text>
<text x="332.6" y="298.54" font-size="7.6" text-anchor="middle">log<tspan font-size="5.3" dy="1.6">10</tspan><tspan dy="-1.6"> [Verteporfin] M</tspan></text>
</g>
<g id="panelG">
<text x="377.40" y="184.80" font-size="12" font-weight="bold" fill="#000">G</text>
<text x="394.20" y="183.66" font-size="7.4" fill="#111" stroke="#111" stroke-width="0.15">PPO2</text>
<text x="465.90" y="180.42" font-size="7.0" text-anchor="middle" fill="#111" stroke="#111" stroke-width="0.15">PX866 (nmol/L)</text>
<rect x="414.20" y="191.40" width="17.60" height="16.20" fill="#6dc283" />
<rect x="431.50" y="191.40" width="17.60" height="16.20" fill="#86c981" />
<rect x="448.80" y="191.40" width="17.60" height="16.20" fill="#8ccb81" />
<rect x="466.10" y="191.40" width="17.60" height="16.20" fill="#8bca80" />
<rect x="483.40" y="191.40" width="17.60" height="16.20" fill="#b8d885" />
<rect x="500.70" y="191.40" width="17.60" height="16.20" fill="#cfe189" />
<rect x="414.20" y="207.30" width="17.60" height="14.90" fill="#a3d384" />
<rect x="431.50" y="207.30" width="17.60" height="14.90" fill="#cde28a" />
<rect x="448.80" y="207.30" width="17.60" height="14.90" fill="#c3de8a" />
<rect x="466.10" y="207.30" width="17.60" height="14.90" fill="#dde789" />
<rect x="483.40" y="207.30" width="17.60" height="14.90" fill="#f7ec85" />
<rect x="500.70" y="207.30" width="17.60" height="14.90" fill="#f6ec85" />
<rect x="414.20" y="221.90" width="17.60" height="14.80" fill="#e5e988" />
<rect x="431.50" y="221.90" width="17.60" height="14.80" fill="#e7ea88" />
<rect x="448.80" y="221.90" width="17.60" height="14.80" fill="#f5ec86" />
<rect x="466.10" y="221.90" width="17.60" height="14.80" fill="#fbd07d" />
<rect x="483.40" y="221.90" width="17.60" height="14.80" fill="#f7ec85" />
<rect x="500.70" y="221.90" width="17.60" height="14.80" fill="#f3ec86" />
<rect x="414.20" y="236.40" width="17.60" height="14.90" fill="#f7ea84" />
<rect x="431.50" y="236.40" width="17.60" height="14.90" fill="#fcc878" />
<rect x="448.80" y="236.40" width="17.60" height="14.90" fill="#c9e08a" />
<rect x="466.10" y="236.40" width="17.60" height="14.90" fill="#f8ec85" />
<rect x="483.40" y="236.40" width="17.60" height="14.90" fill="#f9e382" />
<rect x="500.70" y="236.40" width="17.60" height="14.90" fill="#ecea87" />
<rect x="414.20" y="251.00" width="17.60" height="14.90" fill="#f8e884" />
<rect x="431.50" y="251.00" width="17.60" height="14.90" fill="#fbcf7c" />
<rect x="448.80" y="251.00" width="17.60" height="14.90" fill="#f8e884" />
<rect x="466.10" y="251.00" width="17.60" height="14.90" fill="#fab674" />
<rect x="483.40" y="251.00" width="17.60" height="14.90" fill="#f9a66f" />
<rect x="500.70" y="251.00" width="17.60" height="14.90" fill="#f9ae71" />
<rect x="414.20" y="265.60" width="17.60" height="14.80" fill="#fbbd76" />
<rect x="431.50" y="265.60" width="17.60" height="14.80" fill="#f8e884" />
<rect x="448.80" y="265.60" width="17.60" height="14.80" fill="#fbc57a" />
<rect x="466.10" y="265.60" width="17.60" height="14.80" fill="#fab473" />
<rect x="483.40" y="265.60" width="17.60" height="14.80" fill="#f89d6d" />
<rect x="500.70" y="265.60" width="17.60" height="14.80" fill="#f9a56f" />
<rect x="414.20" y="280.10" width="17.60" height="14.90" fill="#fbcb7c" />
<rect x="431.50" y="280.10" width="17.60" height="14.90" fill="#fbbb76" />
<rect x="448.80" y="280.10" width="17.60" height="14.90" fill="#fbbf78" />
<rect x="466.10" y="280.10" width="17.60" height="14.90" fill="#f47e68" />
<rect x="483.40" y="280.10" width="17.60" height="14.90" fill="#f16868" />
<rect x="500.70" y="280.10" width="17.60" height="14.90" fill="#f58068" />
<text x="422.85" y="189.30" font-size="5.0" text-anchor="middle" fill="#111" stroke="#111" stroke-width="0.22">0</text>
<text x="440.15" y="189.30" font-size="5.0" text-anchor="middle" fill="#111" stroke="#111" stroke-width="0.22">3.75</text>
<text x="457.45" y="189.30" font-size="5.0" text-anchor="middle" fill="#111" stroke="#111" stroke-width="0.22">7.5</text>
<text x="474.75" y="189.30" font-size="5.0" text-anchor="middle" fill="#111" stroke="#111" stroke-width="0.22">30</text>
<text x="492.05" y="189.30" font-size="5.0" text-anchor="middle" fill="#111" stroke="#111" stroke-width="0.22">60</text>
<text x="509.35" y="189.30" font-size="5.0" text-anchor="middle" fill="#111" stroke="#111" stroke-width="0.22">120</text>
<text x="411.70" y="199.90" font-size="5.0" text-anchor="end" fill="#111" stroke="#111" stroke-width="0.22">0</text>
<text x="411.70" y="215.18" font-size="5.0" text-anchor="end" fill="#111" stroke="#111" stroke-width="0.22">1.25</text>
<text x="411.70" y="230.46" font-size="5.0" text-anchor="end" fill="#111" stroke="#111" stroke-width="0.22">2.5</text>
<text x="411.70" y="245.74" font-size="5.0" text-anchor="end" fill="#111" stroke="#111" stroke-width="0.22">5.0</text>
<text x="411.70" y="261.02" font-size="5.0" text-anchor="end" fill="#111" stroke="#111" stroke-width="0.22">10</text>
<text x="411.70" y="276.30" font-size="5.0" text-anchor="end" fill="#111" stroke="#111" stroke-width="0.22">20</text>
<text x="411.70" y="291.58" font-size="5.0" text-anchor="end" fill="#111" stroke="#111" stroke-width="0.22">40</text>
<text x="399.26" y="236.20" font-size="7.4" text-anchor="middle" fill="#111" stroke="#111" stroke-width="0.15" transform="rotate(-90 399.26 236.20)">Verteporfin (nmol/L)</text>
<rect x="441.60" y="298.40" width="33.20" height="6.40" fill="url(#viab)" />
<text x="439.60" y="303.60" font-size="5.0" text-anchor="end" fill="#111" stroke="#111" stroke-width="0.22">0</text>
<text x="476.20" y="303.70" font-size="5.0" fill="#111" stroke="#111" stroke-width="0.22">100</text>
<text x="492.50" y="304.02" font-size="5.9" fill="#111" stroke="#111" stroke-width="0.22">Viability</text>
</g>
<g id="panelH">
<text x="2.60" y="323.40" font-size="12" font-weight="bold" fill="#000">H</text>
<text x="75.20" y="322.52" font-size="7.0" text-anchor="middle" fill="#111" stroke="#111" stroke-width="0.15">PX866 (nmol/L)</text>
<rect x="26.00" y="334.20" width="97.60" height="94.60" fill="#f4f4f4" />
<rect x="42.27" y="347.71" width="16.27" height="13.51" fill="#eaeaea" />
<rect x="58.53" y="347.71" width="16.27" height="13.51" fill="#e7e7e7" />
<rect x="74.80" y="347.71" width="16.27" height="13.51" fill="#eaeaea" />
<rect x="91.07" y="347.71" width="16.27" height="13.51" fill="#e7e7e7" />
<rect x="42.27" y="361.23" width="16.27" height="13.51" fill="#e7e7e7" />
<rect x="58.53" y="361.23" width="16.27" height="13.51" fill="#eaeaea" />
<rect x="74.80" y="361.23" width="16.27" height="13.51" fill="#e7e7e7" />
<rect x="91.07" y="361.23" width="16.27" height="13.51" fill="#eaeaea" />
<rect x="42.27" y="374.74" width="16.27" height="13.51" fill="#ececec" />
<rect x="42.27" y="388.26" width="16.27" height="13.51" fill="#ebebeb" />
<rect x="58.53" y="388.26" width="16.27" height="13.51" fill="#fdfdfd" />
<rect x="58.53" y="401.77" width="16.27" height="13.51" fill="#ededed" />
<rect x="42.27" y="415.29" width="16.27" height="13.51" fill="#ececec" />
<rect x="58.53" y="415.29" width="16.27" height="13.51" fill="#eeeeee" />
<rect x="91.07" y="374.74" width="16.27" height="13.51" fill="#ededed" />
<rect x="58.53" y="374.74" width="16.27" height="13.51" fill="#ffffff" />
<rect x="74.80" y="374.74" width="16.27" height="13.51" fill="#f8f8f8" />
<rect x="42.27" y="401.77" width="16.27" height="13.51" fill="#ffffff" />
<rect x="74.40" y="387.70" width="16.60" height="13.90" fill="#e6dcef" />
<text x="82.60" y="396.10" font-size="4.3" text-anchor="middle" fill="#222" stroke="#222" stroke-width="0.22">15</text>
<rect x="90.80" y="387.70" width="16.60" height="13.90" fill="#d9cbe8" />
<text x="99.00" y="396.10" font-size="4.3" text-anchor="middle" fill="#222" stroke="#222" stroke-width="0.22">22</text>
<rect x="107.20" y="387.70" width="16.60" height="13.90" fill="#e0d5ec" />
<text x="115.40" y="396.10" font-size="4.3" text-anchor="middle" fill="#222" stroke="#222" stroke-width="0.22">19</text>
<rect x="74.40" y="401.40" width="16.60" height="13.90" fill="#e8e0f0" />
<text x="82.60" y="409.80" font-size="4.3" text-anchor="middle" fill="#222" stroke="#222" stroke-width="0.22">15</text>
<rect x="90.80" y="401.40" width="16.60" height="13.90" fill="#d5c5e5" />
<text x="99.00" y="409.80" font-size="4.3" text-anchor="middle" fill="#222" stroke="#222" stroke-width="0.22">22</text>
<rect x="107.20" y="401.40" width="16.60" height="13.90" fill="#ded2ea" />
<text x="115.40" y="409.80" font-size="4.3" text-anchor="middle" fill="#222" stroke="#222" stroke-width="0.22">20</text>
<rect x="74.40" y="415.10" width="16.60" height="13.90" fill="#8c5cb5" />
<text x="82.60" y="423.50" font-size="4.3" text-anchor="middle" fill="#2a0a50" stroke="#2a0a50" stroke-width="0.22">40</text>
<rect x="90.80" y="415.10" width="16.60" height="13.90" fill="#6a2d9e" />
<text x="99.00" y="423.50" font-size="4.3" text-anchor="middle" fill="#2a0a50" stroke="#2a0a50" stroke-width="0.22">51</text>
<rect x="107.20" y="415.10" width="16.60" height="13.90" fill="#8a58b3" />
<text x="115.40" y="423.50" font-size="4.3" text-anchor="middle" fill="#2a0a50" stroke="#2a0a50" stroke-width="0.22">41</text>
<rect x="74.40" y="387.70" width="49.20" height="41.10" fill="none" stroke="#3a3048" stroke-width="0.7" />
<text x="34.50" y="332.33" font-size="4.8" text-anchor="middle" fill="#111" stroke="#111" stroke-width="0.22">0</text>
<text x="51.40" y="332.33" font-size="4.8" text-anchor="middle" fill="#111" stroke="#111" stroke-width="0.22">3.75</text>
<text x="67.80" y="332.33" font-size="4.8" text-anchor="middle" fill="#111" stroke="#111" stroke-width="0.22">7.5</text>
<text x="82.90" y="332.33" font-size="4.8" text-anchor="middle" fill="#111" stroke="#111" stroke-width="0.22">30</text>
<text x="97.90" y="332.33" font-size="4.8" text-anchor="middle" fill="#111" stroke="#111" stroke-width="0.22">60</text>
<text x="114.60" y="332.33" font-size="4.8" text-anchor="middle" fill="#111" stroke="#111" stroke-width="0.22">120</text>
<text x="23.60" y="340.56" font-size="4.9" text-anchor="end" fill="#111" stroke="#111" stroke-width="0.22">0</text>
<text x="23.60" y="355.16" font-size="4.9" text-anchor="end" fill="#111" stroke="#111" stroke-width="0.22">1.25</text>
<text x="23.60" y="369.76" font-size="4.9" text-anchor="end" fill="#111" stroke="#111" stroke-width="0.22">2.5</text>
<text x="23.60" y="387.76" font-size="4.9" text-anchor="end" fill="#111" stroke="#111" stroke-width="0.22">5.0</text>
<text x="23.60" y="400.66" font-size="4.9" text-anchor="end" fill="#111" stroke="#111" stroke-width="0.22">10</text>
<text x="23.60" y="412.36" font-size="4.9" text-anchor="end" fill="#111" stroke="#111" stroke-width="0.22">20</text>
<text x="23.60" y="424.76" font-size="4.9" text-anchor="end" fill="#111" stroke="#111" stroke-width="0.22">40</text>
<text x="10.86" y="373.30" font-size="7.4" text-anchor="middle" fill="#111" stroke="#111" stroke-width="0.15" transform="rotate(-90 10.86 373.30)">Verteporfin (nmol/L)</text>
<text x="78.90" y="439.24" font-size="7.9" text-anchor="middle" fill="#111" stroke="#111" stroke-width="0.15">Synergy score: 18.452</text>
<rect x="130.40" y="404.00" width="6.20" height="32.50" fill="url(#syn)" />
<line x1="130.40" y1="404.00" x2="136.60" y2="404.00" stroke="#3a1a60" stroke-width="0.7" />
<text x="134.00" y="403.26" font-size="4.6" text-anchor="middle" fill="#111" stroke="#111" stroke-width="0.22">50</text>
<text x="133.60" y="441.86" font-size="4.6" text-anchor="middle" fill="#111" stroke="#111" stroke-width="0.22">0</text>
<text x="133.70" y="448.24" font-size="5.4" text-anchor="middle" fill="#111" stroke="#111" stroke-width="0.22">Synergy</text>
<text x="134.00" y="454.94" font-size="5.4" text-anchor="middle" fill="#111" stroke="#111" stroke-width="0.22">index</text>
</g>
<g id="panelI">
<text x="145.40" y="322.60" font-size="12" font-weight="bold" fill="#000">I</text>
<line x1="153.60" y1="321.20" x2="156.20" y2="321.20" stroke="#2a4ab0" stroke-width="0.9" />
<text x="158.8" y="324.12" font-size="7.0" fill="#111" stroke="#111" stroke-width="0.12" textLength="70.1" lengthAdjust="spacingAndGlyphs">Vehicle (<tspan font-style="italic">n</tspan> = 6; 34.5 dpi)</text>
<line x1="153.60" y1="331.60" x2="156.20" y2="331.60" stroke="#e8302a" stroke-width="0.9" />
<text x="158.8" y="334.52" font-size="7.0" fill="#111" stroke="#111" stroke-width="0.12" textLength="74.1" lengthAdjust="spacingAndGlyphs">Vetreporfin (<tspan font-style="italic">n</tspan> = 7; 43 dpi)</text>
<line x1="153.60" y1="341.60" x2="156.20" y2="341.60" stroke="#2aa84a" stroke-width="0.9" />
<text x="158.8" y="344.52" font-size="7.0" fill="#111" stroke="#111" stroke-width="0.12" textLength="68.7" lengthAdjust="spacingAndGlyphs">PX-866 (<tspan font-style="italic">n</tspan> = 8; 44.5 dpi)</text>
<line x1="153.60" y1="352.40" x2="156.20" y2="352.40" stroke="#8a3aa8" stroke-width="0.9" />
<text x="158.8" y="355.32" font-size="7.0" fill="#111" stroke="#111" stroke-width="0.12" textLength="77.6" lengthAdjust="spacingAndGlyphs">Combination (<tspan font-style="italic">n</tspan> = 7; 56 dpi)</text>
<path d="M233.6,319.8 H234.8 V329.4 H233.6" stroke="#111" stroke-width="0.7" fill="none" />
<text x="237.50" y="328.40" font-size="7" text-anchor="middle" font-weight="bold" fill="#111" stroke="#111" stroke-width="0.3">*</text>
<path d="M239.0,318.6 H240.2 V338.8 H239.0" stroke="#111" stroke-width="0.7" fill="none" />
<text x="245.50" y="333.80" font-size="7" text-anchor="middle" font-weight="bold" fill="#111" stroke="#111" stroke-width="0.3">**</text>
<path d="M243.3,338.8 H244.5 V352.2 H243.3" stroke="#111" stroke-width="0.7" fill="none" />
<text x="247.70" y="349.90" font-size="7" text-anchor="middle" font-weight="bold" fill="#111" stroke="#111" stroke-width="0.3">*</text>
<path d="M253.2,330.6 H254.4 V349.6 H253.2" stroke="#111" stroke-width="0.7" fill="none" />
<text x="256.80" y="345.30" font-size="7" text-anchor="middle" font-weight="bold" fill="#111" stroke="#111" stroke-width="0.3">*</text>
<path d="M259.8,318.6 H261.0 V349.6 H259.8" stroke="#111" stroke-width="0.7" fill="none" />
<text x="266.50" y="338.60" font-size="7" text-anchor="middle" font-weight="bold" fill="#111" stroke="#111" stroke-width="0.3">**</text>
<line x1="170.70" y1="359.50" x2="170.70" y2="435.80" stroke="#111" stroke-width="1.1" />
<line x1="170.20" y1="435.80" x2="274.80" y2="435.80" stroke="#111" stroke-width="1.1" />
<line x1="168.90" y1="366.50" x2="170.70" y2="366.50" stroke="#111" stroke-width="0.7" />
<text x="168.70" y="368.70" font-size="6.1" text-anchor="end" fill="#111" stroke="#111" stroke-width="0.22">100</text>
<line x1="168.90" y1="401.20" x2="170.70" y2="401.20" stroke="#111" stroke-width="0.7" />
<text x="168.70" y="403.40" font-size="6.1" text-anchor="end" fill="#111" stroke="#111" stroke-width="0.22">50</text>
<line x1="168.90" y1="435.80" x2="170.70" y2="435.80" stroke="#111" stroke-width="0.7" />
<text x="168.70" y="438.00" font-size="6.1" text-anchor="end" fill="#111" stroke="#111" stroke-width="0.22">0</text>
<line x1="170.40" y1="435.80" x2="170.40" y2="437.60" stroke="#111" stroke-width="0.7" />
<text x="170.40" y="443.70" font-size="6.4" text-anchor="middle" fill="#111" stroke="#111" stroke-width="0.22">0</text>
<line x1="198.80" y1="435.80" x2="198.80" y2="437.60" stroke="#111" stroke-width="0.7" />
<text x="198.80" y="443.70" font-size="6.4" text-anchor="middle" fill="#111" stroke="#111" stroke-width="0.22">20</text>
<line x1="227.40" y1="435.80" x2="227.40" y2="437.60" stroke="#111" stroke-width="0.7" />
<text x="227.40" y="443.70" font-size="6.4" text-anchor="middle" fill="#111" stroke="#111" stroke-width="0.22">40</text>
<line x1="255.80" y1="435.80" x2="255.80" y2="437.60" stroke="#111" stroke-width="0.7" />
<text x="255.80" y="443.70" font-size="6.4" text-anchor="middle" fill="#111" stroke="#111" stroke-width="0.22">60</text>
<path d="M170.39,366.54 H227.16 V376.46 H233.39 V386.16 H240.78 V396.54 H250.47 V416.16 H254.62 V426.08 H263.16 V435.78" stroke="#8a3aa8" stroke-width="1.15" fill="none" stroke-linejoin="miter"/>
<path d="M170.39,366.54 H214.47 V375.31 H222.77 V383.85 H228.77 V392.39 H231.54 V401.16 H232.93 V409.70 H237.31 V418.47 H244.93 V427.24 H250.47 V435.78" stroke="#2aa84a" stroke-width="1.15" fill="none" stroke-linejoin="miter"/>
<path d="M170.39,366.54 H213.77 V376.46 H220.47 V386.16 H229.24 V396.54 H231.08 V406.23 H232.70 V416.16 H234.31 V426.08 H244.24 V435.78" stroke="#e8302a" stroke-width="1.15" fill="none" stroke-linejoin="miter"/>
<path d="M170.39,366.54 H213.08 V389.62 H214.70 V401.16 H224.16 V412.70 H225.54 V424.24 H226.93 V435.78" stroke="#2a4ab0" stroke-width="1.15" fill="none" stroke-linejoin="miter"/>
<text x="157.84" y="400.50" font-size="7.6" text-anchor="middle" fill="#111" stroke="#111" stroke-width="0.15" transform="rotate(-90 157.84 400.50)">Percent survival</text>
<text x="218.60" y="454.63" font-size="7.3" text-anchor="middle" fill="#111" stroke="#111" stroke-width="0.15">Days post injection (dpi)</text>
</g>
<g id="panelJ">
<text x="286.60" y="338.60" font-size="12" font-weight="bold" fill="#000">J</text>
<text x="357.1" y="323.60" font-size="6.4" text-anchor="middle" stroke="#111" stroke-width="0.3">IC<tspan font-size="4.6" dy="1.7">50</tspan></text>
<circle cx="335.6" cy="333.3" r="1.10" fill="#2a3a9a" />
<text x="339.80" y="335.90" font-size="6.4" fill="#111" stroke="#111" stroke-width="0.22" textLength="53.4" lengthAdjust="spacingAndGlyphs">PPO1 (8.23 µmol/L)</text>
<rect x="334.50" y="341.90" width="2.20" height="2.20" fill="#e02a2a" />
<text x="339.80" y="345.50" font-size="6.4" fill="#111" stroke="#111" stroke-width="0.22" textLength="53.4" lengthAdjust="spacingAndGlyphs">PPO2 (4.73 µmol/L)</text>
<line x1="306.30" y1="349.80" x2="306.30" y2="424.70" stroke="#111" stroke-width="0.8" />
<line x1="305.90" y1="424.70" x2="397.80" y2="424.70" stroke="#111" stroke-width="0.8" />
<line x1="304.80" y1="358.10" x2="306.30" y2="358.10" stroke="#111" stroke-width="0.6" />
<text x="303.70" y="359.79" font-size="4.7" text-anchor="end" fill="#111" stroke="#111" stroke-width="0.22">100</text>
<line x1="304.80" y1="372.70" x2="306.30" y2="372.70" stroke="#111" stroke-width="0.6" />
<text x="303.70" y="374.39" font-size="4.7" text-anchor="end" fill="#111" stroke="#111" stroke-width="0.22">80</text>
<line x1="304.80" y1="387.40" x2="306.30" y2="387.40" stroke="#111" stroke-width="0.6" />
<text x="303.70" y="389.09" font-size="4.7" text-anchor="end" fill="#111" stroke="#111" stroke-width="0.22">60</text>
<line x1="304.80" y1="402.20" x2="306.30" y2="402.20" stroke="#111" stroke-width="0.6" />
<text x="303.70" y="403.89" font-size="4.7" text-anchor="end" fill="#111" stroke="#111" stroke-width="0.22">40</text>
<line x1="304.80" y1="416.80" x2="306.30" y2="416.80" stroke="#111" stroke-width="0.6" />
<text x="303.70" y="418.49" font-size="4.7" text-anchor="end" fill="#111" stroke="#111" stroke-width="0.22">20</text>
<line x1="304.80" y1="423.60" x2="306.30" y2="423.60" stroke="#111" stroke-width="0.6" />
<text x="303.70" y="425.29" font-size="4.7" text-anchor="end" fill="#111" stroke="#111" stroke-width="0.22">0</text>
<line x1="306.30" y1="424.70" x2="306.30" y2="425.70" stroke="#111" stroke-width="0.6" />
<text x="306.30" y="430.18" font-size="4.4" text-anchor="middle" fill="#111" stroke="#111" stroke-width="0.28">−8.0</text>
<line x1="321.30" y1="424.70" x2="321.30" y2="425.70" stroke="#111" stroke-width="0.6" />
<text x="321.30" y="430.18" font-size="4.4" text-anchor="middle" fill="#111" stroke="#111" stroke-width="0.28">−7.5</text>
<line x1="336.30" y1="424.70" x2="336.30" y2="425.70" stroke="#111" stroke-width="0.6" />
<text x="336.30" y="430.18" font-size="4.4" text-anchor="middle" fill="#111" stroke="#111" stroke-width="0.28">−7.0</text>
<line x1="351.40" y1="424.70" x2="351.40" y2="425.70" stroke="#111" stroke-width="0.6" />
<text x="351.40" y="430.18" font-size="4.4" text-anchor="middle" fill="#111" stroke="#111" stroke-width="0.28">−6.5</text>
<line x1="366.40" y1="424.70" x2="366.40" y2="425.70" stroke="#111" stroke-width="0.6" />
<text x="366.40" y="430.18" font-size="4.4" text-anchor="middle" fill="#111" stroke="#111" stroke-width="0.28">−6.0</text>
<line x1="381.50" y1="424.70" x2="381.50" y2="425.70" stroke="#111" stroke-width="0.6" />
<text x="381.50" y="430.18" font-size="4.4" text-anchor="middle" fill="#111" stroke="#111" stroke-width="0.28">−5.5</text>
<line x1="396.50" y1="424.70" x2="396.50" y2="425.70" stroke="#111" stroke-width="0.6" />
<text x="396.50" y="430.18" font-size="4.4" text-anchor="middle" fill="#111" stroke="#111" stroke-width="0.28">−5.0</text>
<path d="M306.35,359.64 C309.91,359.68 319.08,359.61 327.74,359.86 C336.39,360.11 351.38,360.70 358.29,361.17 C365.20,361.64 365.93,361.90 369.20,362.70 C372.48,363.50 374.66,364.44 377.93,365.97 C381.21,367.50 387.03,370.88 388.85,371.86" stroke="#2a3a9a" stroke-width="1.05" fill="none" />
<path d="M306.35,356.37 C311.37,356.39 327.81,356.30 336.47,356.48 C345.12,356.66 352.84,356.93 358.29,357.46 C363.75,357.99 365.93,358.55 369.20,359.64 C372.48,360.73 374.66,361.75 377.93,364.01 C381.21,366.26 387.03,371.65 388.85,373.17" stroke="#e02a2a" stroke-width="1.05" fill="none" />
<line x1="327.74" y1="358.53" x2="327.74" y2="362.93" stroke="#2a3a9a" stroke-width="0.6" />
<line x1="326.84" y1="358.53" x2="328.64" y2="358.53" stroke="#2a3a9a" stroke-width="0.5" />
<line x1="326.84" y1="362.93" x2="328.64" y2="362.93" stroke="#2a3a9a" stroke-width="0.5" />
<circle cx="327.7" cy="360.7" r="1.15" fill="#2a3a9a" />
<line x1="336.47" y1="359.53" x2="336.47" y2="361.93" stroke="#2a3a9a" stroke-width="0.6" />
<line x1="335.57" y1="359.53" x2="337.37" y2="359.53" stroke="#2a3a9a" stroke-width="0.5" />
<line x1="335.57" y1="361.93" x2="337.37" y2="361.93" stroke="#2a3a9a" stroke-width="0.5" />
<circle cx="336.5" cy="360.7" r="1.15" fill="#2a3a9a" />
<line x1="358.29" y1="359.67" x2="358.29" y2="362.67" stroke="#2a3a9a" stroke-width="0.6" />
<line x1="357.39" y1="359.67" x2="359.19" y2="359.67" stroke="#2a3a9a" stroke-width="0.5" />
<line x1="357.39" y1="362.67" x2="359.19" y2="362.67" stroke="#2a3a9a" stroke-width="0.5" />
<circle cx="358.3" cy="361.2" r="1.15" fill="#2a3a9a" />
<line x1="367.02" y1="360.62" x2="367.02" y2="363.02" stroke="#2a3a9a" stroke-width="0.6" />
<line x1="366.12" y1="360.62" x2="367.92" y2="360.62" stroke="#2a3a9a" stroke-width="0.5" />
<line x1="366.12" y1="363.02" x2="367.92" y2="363.02" stroke="#2a3a9a" stroke-width="0.5" />
<circle cx="367.0" cy="361.8" r="1.15" fill="#2a3a9a" />
<line x1="376.19" y1="364.25" x2="376.19" y2="367.25" stroke="#2a3a9a" stroke-width="0.6" />
<line x1="375.29" y1="364.25" x2="377.09" y2="364.25" stroke="#2a3a9a" stroke-width="0.5" />
<line x1="375.29" y1="367.25" x2="377.09" y2="367.25" stroke="#2a3a9a" stroke-width="0.5" />
<circle cx="376.2" cy="365.8" r="1.15" fill="#2a3a9a" />
<line x1="388.41" y1="369.49" x2="388.41" y2="372.49" stroke="#2a3a9a" stroke-width="0.6" />
<line x1="387.51" y1="369.49" x2="389.31" y2="369.49" stroke="#2a3a9a" stroke-width="0.5" />
<line x1="387.51" y1="372.49" x2="389.31" y2="372.49" stroke="#2a3a9a" stroke-width="0.5" />
<circle cx="388.4" cy="371.0" r="1.15" fill="#2a3a9a" />
<line x1="337.12" y1="355.37" x2="337.12" y2="357.37" stroke="#e02a2a" stroke-width="0.6" />
<line x1="336.22" y1="355.37" x2="338.02" y2="355.37" stroke="#e02a2a" stroke-width="0.5" />
<line x1="336.22" y1="357.37" x2="338.02" y2="357.37" stroke="#e02a2a" stroke-width="0.5" />
<rect x="335.97" y="355.22" width="2.30" height="2.30" fill="#e02a2a" />
<line x1="358.29" y1="354.33" x2="358.29" y2="357.53" stroke="#e02a2a" stroke-width="0.6" />
<line x1="357.39" y1="354.33" x2="359.19" y2="354.33" stroke="#e02a2a" stroke-width="0.5" />
<line x1="357.39" y1="357.53" x2="359.19" y2="357.53" stroke="#e02a2a" stroke-width="0.5" />
<rect x="357.14" y="354.78" width="2.30" height="2.30" fill="#e02a2a" />
<line x1="367.02" y1="354.57" x2="367.02" y2="358.17" stroke="#e02a2a" stroke-width="0.6" />
<line x1="366.12" y1="354.57" x2="367.92" y2="354.57" stroke="#e02a2a" stroke-width="0.5" />
<line x1="366.12" y1="358.17" x2="367.92" y2="358.17" stroke="#e02a2a" stroke-width="0.5" />
<rect x="365.87" y="355.22" width="2.30" height="2.30" fill="#e02a2a" />
<line x1="376.19" y1="362.51" x2="376.19" y2="365.51" stroke="#e02a2a" stroke-width="0.6" />
<line x1="375.29" y1="362.51" x2="377.09" y2="362.51" stroke="#e02a2a" stroke-width="0.5" />
<line x1="375.29" y1="365.51" x2="377.09" y2="365.51" stroke="#e02a2a" stroke-width="0.5" />
<rect x="375.04" y="362.86" width="2.30" height="2.30" fill="#e02a2a" />
<line x1="388.41" y1="371.63" x2="388.41" y2="376.03" stroke="#e02a2a" stroke-width="0.6" />
<line x1="387.51" y1="371.63" x2="389.31" y2="371.63" stroke="#e02a2a" stroke-width="0.5" />
<line x1="387.51" y1="376.03" x2="389.31" y2="376.03" stroke="#e02a2a" stroke-width="0.5" />
<rect x="387.26" y="372.68" width="2.30" height="2.30" fill="#e02a2a" />
<text x="293.50" y="391.80" font-size="7.5" text-anchor="middle" fill="#111" stroke="#111" stroke-width="0.15" transform="rotate(-90 293.50 391.80)">WST absorbance (%)</text>
<text x="349.0" y="443.94" font-size="7.6" text-anchor="middle">log<tspan font-size="5.3" dy="1.6">10</tspan><tspan dy="-1.6"> [Dasatinib] M</tspan></text>
<text x="484.0" y="324.30" font-size="6.4" text-anchor="middle" stroke="#111" stroke-width="0.3">IC<tspan font-size="4.6" dy="1.7">50</tspan></text>
<circle cx="461.9" cy="332.6" r="1.10" fill="#2a3a9a" />
<text x="465.40" y="335.20" font-size="6.4" fill="#111" stroke="#111" stroke-width="0.22" textLength="53.3" lengthAdjust="spacingAndGlyphs">PPO1 (5.58 µmol/L)</text>
<rect x="460.80" y="341.20" width="2.20" height="2.20" fill="#e02a2a" />
<text x="465.40" y="344.80" font-size="6.4" fill="#111" stroke="#111" stroke-width="0.22" textLength="53.3" lengthAdjust="spacingAndGlyphs">PPO2 (4.05 µmol/L)</text>
<line x1="430.80" y1="351.30" x2="430.80" y2="422.90" stroke="#111" stroke-width="0.8" />
<line x1="430.40" y1="422.90" x2="512.00" y2="422.90" stroke="#111" stroke-width="0.8" />
<line x1="429.30" y1="356.80" x2="430.80" y2="356.80" stroke="#111" stroke-width="0.6" />
<text x="428.20" y="358.49" font-size="4.7" text-anchor="end" fill="#111" stroke="#111" stroke-width="0.22">100</text>
<line x1="429.30" y1="373.00" x2="430.80" y2="373.00" stroke="#111" stroke-width="0.6" />
<text x="428.20" y="374.69" font-size="4.7" text-anchor="end" fill="#111" stroke="#111" stroke-width="0.22">80</text>
<line x1="429.30" y1="387.50" x2="430.80" y2="387.50" stroke="#111" stroke-width="0.6" />
<text x="428.20" y="389.19" font-size="4.7" text-anchor="end" fill="#111" stroke="#111" stroke-width="0.22">60</text>
<line x1="429.30" y1="401.80" x2="430.80" y2="401.80" stroke="#111" stroke-width="0.6" />
<text x="428.20" y="403.49" font-size="4.7" text-anchor="end" fill="#111" stroke="#111" stroke-width="0.22">40</text>
<line x1="429.30" y1="416.60" x2="430.80" y2="416.60" stroke="#111" stroke-width="0.6" />
<text x="428.20" y="418.29" font-size="4.7" text-anchor="end" fill="#111" stroke="#111" stroke-width="0.22">20</text>
<line x1="429.30" y1="422.20" x2="430.80" y2="422.20" stroke="#111" stroke-width="0.6" />
<text x="428.20" y="423.89" font-size="4.7" text-anchor="end" fill="#111" stroke="#111" stroke-width="0.22">0</text>
<line x1="430.20" y1="422.90" x2="430.20" y2="423.90" stroke="#111" stroke-width="0.6" />
<text x="430.20" y="428.38" font-size="4.4" text-anchor="middle" fill="#111" stroke="#111" stroke-width="0.28">−8.0</text>
<line x1="443.70" y1="422.90" x2="443.70" y2="423.90" stroke="#111" stroke-width="0.6" />
<text x="443.70" y="428.38" font-size="4.4" text-anchor="middle" fill="#111" stroke="#111" stroke-width="0.28">−7.5</text>
<line x1="457.20" y1="422.90" x2="457.20" y2="423.90" stroke="#111" stroke-width="0.6" />
<text x="457.20" y="428.38" font-size="4.4" text-anchor="middle" fill="#111" stroke="#111" stroke-width="0.28">−7.0</text>
<line x1="470.70" y1="422.90" x2="470.70" y2="423.90" stroke="#111" stroke-width="0.6" />
<text x="470.70" y="428.38" font-size="4.4" text-anchor="middle" fill="#111" stroke="#111" stroke-width="0.28">−6.5</text>
<line x1="484.20" y1="422.90" x2="484.20" y2="423.90" stroke="#111" stroke-width="0.6" />
<text x="484.20" y="428.38" font-size="4.4" text-anchor="middle" fill="#111" stroke="#111" stroke-width="0.28">−6.0</text>
<line x1="497.70" y1="422.90" x2="497.70" y2="423.90" stroke="#111" stroke-width="0.6" />
<text x="497.70" y="428.38" font-size="4.4" text-anchor="middle" fill="#111" stroke="#111" stroke-width="0.28">−5.5</text>
<line x1="511.10" y1="422.90" x2="511.10" y2="423.90" stroke="#111" stroke-width="0.6" />
<text x="511.10" y="428.38" font-size="4.4" text-anchor="middle" fill="#111" stroke="#111" stroke-width="0.28">−5.0</text>
<path d="M429.88,357.48 C434.84,357.51 450.88,357.48 459.60,357.64 C468.32,357.80 476.29,357.88 482.21,358.45 C488.13,359.01 491.52,360.17 495.13,361.03 C498.74,361.89 502.40,363.19 503.85,363.62" stroke="#2a3a9a" stroke-width="1.05" fill="none" />
<path d="M429.88,355.22 C434.84,355.25 451.96,355.22 459.60,355.38 C467.24,355.54 470.37,355.41 475.75,356.19 C481.13,356.97 487.22,358.56 491.90,360.06 C496.58,361.57 501.86,364.37 503.85,365.23" stroke="#e02a2a" stroke-width="1.05" fill="none" />
<line x1="449.26" y1="356.60" x2="449.26" y2="359.00" stroke="#2a3a9a" stroke-width="0.6" />
<line x1="448.36" y1="356.60" x2="450.16" y2="356.60" stroke="#2a3a9a" stroke-width="0.5" />
<line x1="448.36" y1="359.00" x2="450.16" y2="359.00" stroke="#2a3a9a" stroke-width="0.5" />
<circle cx="449.3" cy="357.8" r="1.15" fill="#2a3a9a" />
<line x1="457.34" y1="360.23" x2="457.34" y2="361.83" stroke="#2a3a9a" stroke-width="0.6" />
<line x1="456.44" y1="360.23" x2="458.24" y2="360.23" stroke="#2a3a9a" stroke-width="0.5" />
<line x1="456.44" y1="361.83" x2="458.24" y2="361.83" stroke="#2a3a9a" stroke-width="0.5" />
<circle cx="457.3" cy="361.0" r="1.15" fill="#2a3a9a" />
<line x1="476.40" y1="353.22" x2="476.40" y2="357.22" stroke="#2a3a9a" stroke-width="0.6" />
<line x1="475.50" y1="353.22" x2="477.30" y2="353.22" stroke="#2a3a9a" stroke-width="0.5" />
<line x1="475.50" y1="357.22" x2="477.30" y2="357.22" stroke="#2a3a9a" stroke-width="0.5" />
<circle cx="476.4" cy="355.2" r="1.15" fill="#2a3a9a" />
<line x1="484.47" y1="355.03" x2="484.47" y2="358.63" stroke="#2a3a9a" stroke-width="0.6" />
<line x1="483.57" y1="355.03" x2="485.37" y2="355.03" stroke="#2a3a9a" stroke-width="0.5" />
<line x1="483.57" y1="358.63" x2="485.37" y2="358.63" stroke="#2a3a9a" stroke-width="0.5" />
<circle cx="484.5" cy="356.8" r="1.15" fill="#2a3a9a" />
<line x1="492.87" y1="358.06" x2="492.87" y2="362.06" stroke="#2a3a9a" stroke-width="0.6" />
<line x1="491.97" y1="358.06" x2="493.77" y2="358.06" stroke="#2a3a9a" stroke-width="0.5" />
<line x1="491.97" y1="362.06" x2="493.77" y2="362.06" stroke="#2a3a9a" stroke-width="0.5" />
<circle cx="492.9" cy="360.1" r="1.15" fill="#2a3a9a" />
<line x1="503.20" y1="361.79" x2="503.20" y2="364.79" stroke="#2a3a9a" stroke-width="0.6" />
<line x1="502.30" y1="361.79" x2="504.10" y2="361.79" stroke="#2a3a9a" stroke-width="0.5" />
<line x1="502.30" y1="364.79" x2="504.10" y2="364.79" stroke="#2a3a9a" stroke-width="0.5" />
<circle cx="503.2" cy="363.3" r="1.15" fill="#2a3a9a" />
<line x1="457.34" y1="349.34" x2="457.34" y2="353.34" stroke="#e02a2a" stroke-width="0.6" />
<line x1="456.44" y1="349.34" x2="458.24" y2="349.34" stroke="#e02a2a" stroke-width="0.5" />
<line x1="456.44" y1="353.34" x2="458.24" y2="353.34" stroke="#e02a2a" stroke-width="0.5" />
<rect x="456.19" y="350.19" width="2.30" height="2.30" fill="#e02a2a" />
<line x1="476.40" y1="352.77" x2="476.40" y2="356.37" stroke="#e02a2a" stroke-width="0.6" />
<line x1="475.50" y1="352.77" x2="477.30" y2="352.77" stroke="#e02a2a" stroke-width="0.5" />
<line x1="475.50" y1="356.37" x2="477.30" y2="356.37" stroke="#e02a2a" stroke-width="0.5" />
<rect x="475.25" y="353.42" width="2.30" height="2.30" fill="#e02a2a" />
<line x1="484.47" y1="356.45" x2="484.47" y2="360.45" stroke="#e02a2a" stroke-width="0.6" />
<line x1="483.57" y1="356.45" x2="485.37" y2="356.45" stroke="#e02a2a" stroke-width="0.5" />
<line x1="483.57" y1="360.45" x2="485.37" y2="360.45" stroke="#e02a2a" stroke-width="0.5" />
<rect x="483.32" y="357.30" width="2.30" height="2.30" fill="#e02a2a" />
<line x1="492.87" y1="359.73" x2="492.87" y2="364.93" stroke="#e02a2a" stroke-width="0.6" />
<line x1="491.97" y1="359.73" x2="493.77" y2="359.73" stroke="#e02a2a" stroke-width="0.5" />
<line x1="491.97" y1="364.93" x2="493.77" y2="364.93" stroke="#e02a2a" stroke-width="0.5" />
<rect x="491.72" y="361.18" width="2.30" height="2.30" fill="#e02a2a" />
<line x1="503.20" y1="363.41" x2="503.20" y2="366.41" stroke="#e02a2a" stroke-width="0.6" />
<line x1="502.30" y1="363.41" x2="504.10" y2="363.41" stroke="#e02a2a" stroke-width="0.5" />
<line x1="502.30" y1="366.41" x2="504.10" y2="366.41" stroke="#e02a2a" stroke-width="0.5" />
<rect x="502.05" y="363.76" width="2.30" height="2.30" fill="#e02a2a" />
<text x="418.30" y="390.40" font-size="7.5" text-anchor="middle" fill="#111" stroke="#111" stroke-width="0.15" transform="rotate(-90 418.30 390.40)">WST absorbance (%)</text>
<text x="467.7" y="443.54" font-size="7.6" text-anchor="middle">log<tspan font-size="5.3" dy="1.6">10</tspan><tspan dy="-1.6"> [Irbinitinib] M</tspan></text>
</g>
</svg>
</body></html>
